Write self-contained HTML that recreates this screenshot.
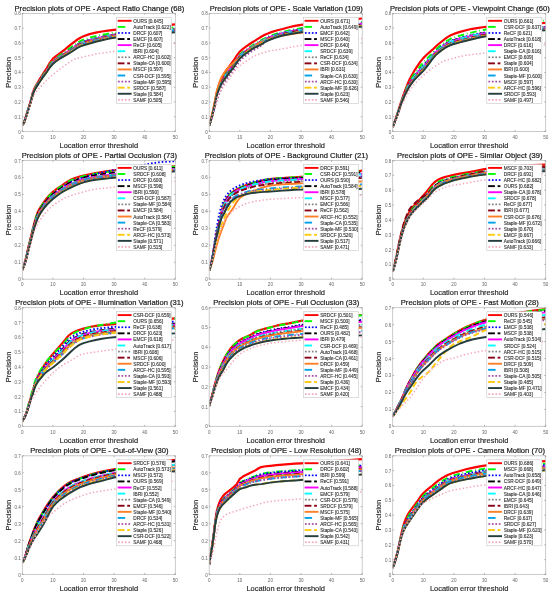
<!DOCTYPE html>
<html><head><meta charset="utf-8"><title>Precision plots of OPE</title>
<style>
html,body{margin:0;padding:0;background:#fff;width:550px;height:598px;overflow:hidden}
svg{display:block}
text{font-family:'Liberation Sans', Arial, Helvetica, sans-serif}
.ti{font-size:7.6px;fill:#1a1a1a;stroke:#1a1a1a;stroke-width:0.2px}
.lb{font-size:7.45px;fill:#262626;stroke:#262626;stroke-width:0.15px}
.tk{font-size:4.55px;fill:#666}
.lg{font-size:4.77px;fill:#333;stroke:#333;stroke-width:0.12px}
</style></head><body>
<svg width="550" height="598" viewBox="0 0 550 598">
<defs><clipPath id="c0"><rect x="22.30" y="13.40" width="153.00" height="118.10"/></clipPath><clipPath id="c1"><rect x="209.20" y="13.40" width="153.00" height="118.10"/></clipPath><clipPath id="c2"><rect x="392.70" y="13.40" width="153.00" height="118.10"/></clipPath><clipPath id="c3"><rect x="22.30" y="160.50" width="153.00" height="118.70"/></clipPath><clipPath id="c4"><rect x="209.20" y="160.50" width="153.00" height="118.70"/></clipPath><clipPath id="c5"><rect x="392.70" y="160.50" width="153.00" height="118.70"/></clipPath><clipPath id="c6"><rect x="22.30" y="307.70" width="153.00" height="118.60"/></clipPath><clipPath id="c7"><rect x="209.20" y="307.70" width="153.00" height="118.60"/></clipPath><clipPath id="c8"><rect x="392.70" y="307.70" width="153.00" height="118.60"/></clipPath><clipPath id="c9"><rect x="22.30" y="455.80" width="153.00" height="118.70"/></clipPath><clipPath id="c10"><rect x="209.20" y="455.80" width="153.00" height="118.70"/></clipPath><clipPath id="c11"><rect x="392.70" y="455.80" width="153.00" height="118.70"/></clipPath></defs>
<rect width="550" height="598" fill="#fff"/>
<g clip-path="url(#c0)">
<polyline points="22.3,124.9 23.8,123.1 25.4,118.4 26.9,113.4 28.4,108.5 30.0,103.4 31.5,97.9 33.0,92.1 34.5,88.2 36.1,85.3 37.6,82.8 39.1,80.2 40.7,77.7 43.7,72.8 46.8,68.0 49.8,62.9 52.9,58.7 56.0,56.1 59.0,54.0 62.1,51.7 65.1,49.4 68.2,46.7 71.3,44.2 74.3,41.8 77.4,39.5 80.4,37.7 83.5,36.3 89.6,34.1 95.7,32.6 101.9,31.5 108.0,30.6 114.1,29.9 120.2,29.2 126.3,28.6 132.5,27.9 138.6,27.3 144.7,26.8 150.8,26.3 156.9,25.8 163.1,25.3 169.2,24.8 175.3,24.4" fill="none" stroke="#ff0000" stroke-width="2.2" stroke-linejoin="round"/>
<polyline points="22.3,124.9 23.8,123.1 25.4,118.5 26.9,113.7 28.4,108.9 30.0,103.8 31.5,98.4 33.0,92.7 34.5,88.9 36.1,86.1 37.6,83.6 39.1,81.2 40.7,78.7 43.7,74.1 46.8,69.5 49.8,64.6 52.9,60.6 56.0,58.1 59.0,55.9 62.1,53.8 65.1,51.7 68.2,49.4 71.3,47.1 74.3,44.8 77.4,42.7 80.4,41.0 83.5,39.7 89.6,37.7 95.7,36.1 101.9,34.8 108.0,33.8 114.1,32.9 120.2,32.1 126.3,31.4 132.5,30.8 138.6,30.3 144.7,29.7 150.8,29.2 156.9,28.7 163.1,28.3 169.2,27.8 175.3,27.4" fill="none" stroke="#00ff00" stroke-width="1.95" stroke-dasharray="6.5,2.8,0.8,2.8" stroke-linejoin="round"/>
<polyline points="22.3,124.9 23.8,123.1 25.4,118.6 26.9,113.9 28.4,109.1 30.0,104.1 31.5,98.8 33.0,93.2 34.5,89.4 36.1,86.6 37.6,84.2 39.1,81.8 40.7,79.4 43.7,74.9 46.8,70.5 49.8,65.8 52.9,61.9 56.0,59.4 59.0,57.2 62.1,55.2 65.1,53.3 68.2,51.2 71.3,49.0 74.3,46.9 77.4,44.8 80.4,43.1 83.5,41.9 89.6,40.0 95.7,38.4 101.9,37.0 108.0,35.8 114.1,34.8 120.2,34.0 126.3,33.3 132.5,32.7 138.6,32.2 144.7,31.6 150.8,31.1 156.9,30.6 163.1,30.2 169.2,29.8 175.3,29.4" fill="none" stroke="#0000ff" stroke-width="1.95" stroke-dasharray="1.6,2.0" stroke-linejoin="round"/>
<polyline points="22.3,124.9 23.8,123.1 25.4,118.6 26.9,113.9 28.4,109.1 30.0,104.1 31.5,98.8 33.0,93.2 34.5,89.4 36.1,86.6 37.6,84.2 39.1,81.8 40.7,79.4 43.7,74.9 46.8,70.5 49.8,65.8 52.9,61.9 56.0,59.4 59.0,57.2 62.1,55.2 65.1,53.3 68.2,51.2 71.3,49.0 74.3,46.9 77.4,44.8 80.4,43.1 83.5,41.9 89.6,40.0 95.7,38.4 101.9,37.0 108.0,35.8 114.1,34.8 120.2,34.0 126.3,33.3 132.5,32.7 138.6,32.2 144.7,31.6 150.8,31.1 156.9,30.6 163.1,30.2 169.2,29.8 175.3,29.4" fill="none" stroke="#000000" stroke-width="1.95" stroke-dasharray="6,3" stroke-linejoin="round"/>
<polyline points="22.3,124.9 23.8,123.1 25.4,118.6 26.9,113.9 28.4,109.1 30.0,104.2 31.5,98.8 33.0,93.2 34.5,89.5 36.1,86.7 37.6,84.3 39.1,81.9 40.7,79.5 43.7,75.0 46.8,70.6 49.8,65.9 52.9,62.1 56.0,59.5 59.0,57.4 62.1,55.4 65.1,53.5 68.2,51.4 71.3,49.3 74.3,47.1 77.4,45.1 80.4,43.4 83.5,42.2 89.6,40.3 95.7,38.7 101.9,37.3 108.0,36.1 114.1,35.0 120.2,34.2 126.3,33.6 132.5,33.0 138.6,32.4 144.7,31.9 150.8,31.4 156.9,30.9 163.1,30.4 169.2,30.0 175.3,29.6" fill="none" stroke="#ff00ff" stroke-width="1.95" stroke-linejoin="round"/>
<polyline points="22.3,124.9 23.8,123.1 25.4,118.6 26.9,113.9 28.4,109.1 30.0,104.2 31.5,98.8 33.0,93.3 34.5,89.5 36.1,86.7 37.6,84.3 39.1,81.9 40.7,79.5 43.7,75.0 46.8,70.7 49.8,66.0 52.9,62.2 56.0,59.6 59.0,57.5 62.1,55.5 65.1,53.6 68.2,51.5 71.3,49.4 74.3,47.3 77.4,45.2 80.4,43.6 83.5,42.3 89.6,40.4 95.7,38.8 101.9,37.4 108.0,36.2 114.1,35.1 120.2,34.4 126.3,33.7 132.5,33.1 138.6,32.6 144.7,32.0 150.8,31.5 156.9,31.0 163.1,30.6 169.2,30.2 175.3,29.8" fill="none" stroke="#00ffff" stroke-width="1.95" stroke-dasharray="6.5,2.8,0.8,2.8" stroke-linejoin="round"/>
<polyline points="22.3,124.9 23.8,123.1 25.4,118.7 26.9,113.9 28.4,109.2 30.0,104.2 31.5,98.9 33.0,93.3 34.5,89.6 36.1,86.8 37.6,84.4 39.1,82.0 40.7,79.6 43.7,75.2 46.8,70.8 49.8,66.2 52.9,62.4 56.0,59.8 59.0,57.6 62.1,55.7 65.1,53.8 68.2,51.7 71.3,49.7 74.3,47.5 77.4,45.5 80.4,43.9 83.5,42.6 89.6,40.7 95.7,39.1 101.9,37.7 108.0,36.5 114.1,35.4 120.2,34.6 126.3,33.9 132.5,33.3 138.6,32.8 144.7,32.3 150.8,31.8 156.9,31.3 163.1,30.8 169.2,30.4 175.3,30.0" fill="none" stroke="#808080" stroke-width="1.95" stroke-dasharray="1.6,2.0" stroke-linejoin="round"/>
<polyline points="22.3,124.9 23.8,123.1 25.4,118.7 26.9,114.0 28.4,109.2 30.0,104.2 31.5,98.9 33.0,93.4 34.5,89.6 36.1,86.9 37.6,84.5 39.1,82.1 40.7,79.7 43.7,75.3 46.8,70.9 49.8,66.3 52.9,62.5 56.0,60.0 59.0,57.8 62.1,55.8 65.1,54.0 68.2,52.0 71.3,49.9 74.3,47.8 77.4,45.8 80.4,44.1 83.5,42.9 89.6,41.0 95.7,39.4 101.9,38.0 108.0,36.7 114.1,35.7 120.2,34.9 126.3,34.2 132.5,33.6 138.6,33.1 144.7,32.5 150.8,32.0 156.9,31.5 163.1,31.1 169.2,30.7 175.3,30.3" fill="none" stroke="#880015" stroke-width="1.95" stroke-dasharray="6,3" stroke-linejoin="round"/>
<polyline points="22.3,124.9 23.8,123.1 25.4,118.7 26.9,114.0 28.4,109.3 30.0,104.3 31.5,99.0 33.0,93.5 34.5,89.7 36.1,87.0 37.6,84.6 39.1,82.2 40.7,79.9 43.7,75.4 46.8,71.1 49.8,66.5 52.9,62.8 56.0,60.2 59.0,58.1 62.1,56.1 65.1,54.3 68.2,52.3 71.3,50.3 74.3,48.2 77.4,46.2 80.4,44.6 83.5,43.4 89.6,41.5 95.7,39.9 101.9,38.4 108.0,37.1 114.1,36.0 120.2,35.2 126.3,34.6 132.5,34.0 138.6,33.4 144.7,32.9 150.8,32.4 156.9,31.9 163.1,31.5 169.2,31.1 175.3,30.7" fill="none" stroke="#ff7f27" stroke-width="1.95" stroke-linejoin="round"/>
<polyline points="22.3,124.9 23.8,123.1 25.4,118.7 26.9,114.0 28.4,109.3 30.0,104.3 31.5,99.0 33.0,93.5 34.5,89.8 36.1,87.0 37.6,84.7 39.1,82.3 40.7,79.9 43.7,75.5 46.8,71.2 49.8,66.7 52.9,62.9 56.0,60.4 59.0,58.2 62.1,56.3 65.1,54.5 68.2,52.6 71.3,50.6 74.3,48.5 77.4,46.5 80.4,44.9 83.5,43.7 89.6,41.8 95.7,40.2 101.9,38.7 108.0,37.4 114.1,36.3 120.2,35.5 126.3,34.8 132.5,34.2 138.6,33.7 144.7,33.2 150.8,32.7 156.9,32.2 163.1,31.7 169.2,31.3 175.3,30.9" fill="none" stroke="#00a2e8" stroke-width="1.95" stroke-dasharray="6.5,2.8,0.8,2.8" stroke-linejoin="round"/>
<polyline points="22.3,124.9 23.8,123.1 25.4,118.7 26.9,114.0 28.4,109.3 30.0,104.3 31.5,99.0 33.0,93.5 34.5,89.8 36.1,87.0 37.6,84.7 39.1,82.3 40.7,79.9 43.7,75.5 46.8,71.2 49.8,66.7 52.9,62.9 56.0,60.4 59.0,58.2 62.1,56.3 65.1,54.5 68.2,52.6 71.3,50.6 74.3,48.5 77.4,46.5 80.4,44.9 83.5,43.7 89.6,41.8 95.7,40.2 101.9,38.7 108.0,37.4 114.1,36.3 120.2,35.5 126.3,34.8 132.5,34.2 138.6,33.7 144.7,33.2 150.8,32.7 156.9,32.2 163.1,31.7 169.2,31.3 175.3,30.9" fill="none" stroke="#a349a4" stroke-width="1.95" stroke-dasharray="1.6,2.0" stroke-linejoin="round"/>
<polyline points="22.3,124.9 23.8,123.1 25.4,118.8 26.9,114.1 28.4,109.4 30.0,104.5 31.5,99.2 33.0,93.7 34.5,90.1 36.1,87.3 37.6,85.0 39.1,82.6 40.7,80.3 43.7,76.0 46.8,71.8 49.8,67.3 52.9,63.6 56.0,61.1 59.0,58.9 62.1,57.0 65.1,55.3 68.2,53.5 71.3,51.6 74.3,49.5 77.4,47.6 80.4,46.0 83.5,44.8 89.6,43.0 95.7,41.4 101.9,39.9 108.0,38.5 114.1,37.3 120.2,36.5 126.3,35.8 132.5,35.2 138.6,34.7 144.7,34.2 150.8,33.7 156.9,33.2 163.1,32.8 169.2,32.4 175.3,32.0" fill="none" stroke="#ffc90e" stroke-width="1.95" stroke-dasharray="6,3" stroke-linejoin="round"/>
<polyline points="22.3,124.9 23.8,123.1 25.4,118.8 26.9,114.1 28.4,109.5 30.0,104.5 31.5,99.3 33.0,93.8 34.5,90.2 36.1,87.4 37.6,85.1 39.1,82.7 40.7,80.5 43.7,76.1 46.8,72.0 49.8,67.5 52.9,63.9 56.0,61.3 59.0,59.2 62.1,57.3 65.1,55.6 68.2,53.8 71.3,52.0 74.3,50.0 77.4,48.0 80.4,46.4 83.5,45.3 89.6,43.5 95.7,41.8 101.9,40.3 108.0,38.9 114.1,37.7 120.2,36.9 126.3,36.2 132.5,35.6 138.6,35.1 144.7,34.6 150.8,34.1 156.9,33.6 163.1,33.2 169.2,32.7 175.3,32.4" fill="none" stroke="#253d3d" stroke-width="1.95" stroke-linejoin="round"/>
<polyline points="22.3,124.9 23.8,123.2 25.4,119.3 26.9,115.0 28.4,110.1 30.0,105.2 31.5,101.0 33.0,97.3 34.5,94.5 36.1,92.2 37.6,90.2 39.1,88.3 40.7,86.5 43.7,83.2 46.8,80.1 49.8,77.2 52.9,74.6 56.0,72.0 59.0,69.7 62.1,67.4 65.1,65.3 68.2,63.2 71.3,61.1 74.3,59.3 77.4,58.3 80.4,57.6 83.5,56.9 89.6,55.5 95.7,54.1 101.9,53.1 108.0,52.3 114.1,51.4 120.2,50.5 126.3,49.5 132.5,48.5 138.6,47.5 144.7,46.7 150.8,45.9 156.9,45.2 163.1,44.5 169.2,43.9 175.3,43.3" fill="none" stroke="#f4a7b9" stroke-width="1.5" stroke-dasharray="1.4,2.2" stroke-linejoin="round"/>
</g>
<rect x="22.30" y="13.40" width="153.00" height="118.10" fill="none" stroke="#bdbdbd" stroke-width="0.8"/>
<line x1="22.30" y1="131.50" x2="22.30" y2="130.00" stroke="#999" stroke-width="0.7"/>
<line x1="22.30" y1="13.40" x2="22.30" y2="14.90" stroke="#999" stroke-width="0.7"/>
<text x="22.30" y="138.70" text-anchor="middle" class="tk">0</text>
<line x1="52.90" y1="131.50" x2="52.90" y2="130.00" stroke="#999" stroke-width="0.7"/>
<line x1="52.90" y1="13.40" x2="52.90" y2="14.90" stroke="#999" stroke-width="0.7"/>
<text x="52.90" y="138.70" text-anchor="middle" class="tk">10</text>
<line x1="83.50" y1="131.50" x2="83.50" y2="130.00" stroke="#999" stroke-width="0.7"/>
<line x1="83.50" y1="13.40" x2="83.50" y2="14.90" stroke="#999" stroke-width="0.7"/>
<text x="83.50" y="138.70" text-anchor="middle" class="tk">20</text>
<line x1="114.10" y1="131.50" x2="114.10" y2="130.00" stroke="#999" stroke-width="0.7"/>
<line x1="114.10" y1="13.40" x2="114.10" y2="14.90" stroke="#999" stroke-width="0.7"/>
<text x="114.10" y="138.70" text-anchor="middle" class="tk">30</text>
<line x1="144.70" y1="131.50" x2="144.70" y2="130.00" stroke="#999" stroke-width="0.7"/>
<line x1="144.70" y1="13.40" x2="144.70" y2="14.90" stroke="#999" stroke-width="0.7"/>
<text x="144.70" y="138.70" text-anchor="middle" class="tk">40</text>
<line x1="175.30" y1="131.50" x2="175.30" y2="130.00" stroke="#999" stroke-width="0.7"/>
<line x1="175.30" y1="13.40" x2="175.30" y2="14.90" stroke="#999" stroke-width="0.7"/>
<text x="175.30" y="138.70" text-anchor="middle" class="tk">50</text>
<line x1="22.30" y1="131.50" x2="23.80" y2="131.50" stroke="#999" stroke-width="0.7"/>
<line x1="175.30" y1="131.50" x2="173.80" y2="131.50" stroke="#999" stroke-width="0.7"/>
<text x="20.90" y="133.50" text-anchor="end" class="tk">0</text>
<line x1="22.30" y1="116.74" x2="23.80" y2="116.74" stroke="#999" stroke-width="0.7"/>
<line x1="175.30" y1="116.74" x2="173.80" y2="116.74" stroke="#999" stroke-width="0.7"/>
<text x="20.90" y="118.74" text-anchor="end" class="tk">0.1</text>
<line x1="22.30" y1="101.97" x2="23.80" y2="101.97" stroke="#999" stroke-width="0.7"/>
<line x1="175.30" y1="101.97" x2="173.80" y2="101.97" stroke="#999" stroke-width="0.7"/>
<text x="20.90" y="103.97" text-anchor="end" class="tk">0.2</text>
<line x1="22.30" y1="87.21" x2="23.80" y2="87.21" stroke="#999" stroke-width="0.7"/>
<line x1="175.30" y1="87.21" x2="173.80" y2="87.21" stroke="#999" stroke-width="0.7"/>
<text x="20.90" y="89.21" text-anchor="end" class="tk">0.3</text>
<line x1="22.30" y1="72.45" x2="23.80" y2="72.45" stroke="#999" stroke-width="0.7"/>
<line x1="175.30" y1="72.45" x2="173.80" y2="72.45" stroke="#999" stroke-width="0.7"/>
<text x="20.90" y="74.45" text-anchor="end" class="tk">0.4</text>
<line x1="22.30" y1="57.69" x2="23.80" y2="57.69" stroke="#999" stroke-width="0.7"/>
<line x1="175.30" y1="57.69" x2="173.80" y2="57.69" stroke="#999" stroke-width="0.7"/>
<text x="20.90" y="59.69" text-anchor="end" class="tk">0.5</text>
<line x1="22.30" y1="42.93" x2="23.80" y2="42.93" stroke="#999" stroke-width="0.7"/>
<line x1="175.30" y1="42.93" x2="173.80" y2="42.93" stroke="#999" stroke-width="0.7"/>
<text x="20.90" y="44.93" text-anchor="end" class="tk">0.6</text>
<line x1="22.30" y1="28.16" x2="23.80" y2="28.16" stroke="#999" stroke-width="0.7"/>
<line x1="175.30" y1="28.16" x2="173.80" y2="28.16" stroke="#999" stroke-width="0.7"/>
<text x="20.90" y="30.16" text-anchor="end" class="tk">0.7</text>
<line x1="22.30" y1="13.40" x2="23.80" y2="13.40" stroke="#999" stroke-width="0.7"/>
<line x1="175.30" y1="13.40" x2="173.80" y2="13.40" stroke="#999" stroke-width="0.7"/>
<text x="20.90" y="15.40" text-anchor="end" class="tk">0.8</text>
<text x="99.40" y="10.60" text-anchor="middle" class="ti">Precision plots of OPE - Aspect Ratio Change (68)</text>
<text x="98.80" y="147.70" text-anchor="middle" class="lb">Location error threshold</text>
<text x="0" y="0" transform="translate(11.00,72.45) rotate(-90)" text-anchor="middle" class="lb">Precision</text>
<rect x="116.40" y="17.40" width="55.10" height="86.00" fill="#fff" stroke="#c8c8c8" stroke-width="0.6"/>
<line x1="117.70" y1="20.80" x2="131.60" y2="20.80" stroke="#ff0000" stroke-width="1.9"/>
<text x="133.30" y="22.80" class="lg">OURS [0.645]</text>
<line x1="117.70" y1="26.88" x2="125.20" y2="26.88" stroke="#00ff00" stroke-width="1.9"/>
<text x="133.30" y="28.88" class="lg">AutoTrack [0.622]</text>
<rect x="118.05" y="32.11" width="1.7" height="1.7" fill="#0000ff"/>
<rect x="121.50" y="32.11" width="1.7" height="1.7" fill="#0000ff"/>
<rect x="124.95" y="32.11" width="1.7" height="1.7" fill="#0000ff"/>
<rect x="128.40" y="32.11" width="1.7" height="1.7" fill="#0000ff"/>
<text x="133.30" y="34.96" class="lg">DRCF [0.607]</text>
<line x1="117.70" y1="39.04" x2="124.50" y2="39.04" stroke="#000000" stroke-width="1.9"/>
<line x1="127.20" y1="39.04" x2="130.00" y2="39.04" stroke="#000000" stroke-width="1.9"/>
<text x="133.30" y="41.04" class="lg">EMCF [0.607]</text>
<line x1="117.70" y1="45.12" x2="131.60" y2="45.12" stroke="#ff00ff" stroke-width="1.9"/>
<text x="133.30" y="47.12" class="lg">ReCF [0.605]</text>
<line x1="117.70" y1="51.20" x2="125.20" y2="51.20" stroke="#00ffff" stroke-width="1.9"/>
<text x="133.30" y="53.20" class="lg">IBRI [0.604]</text>
<rect x="118.05" y="56.43" width="1.7" height="1.7" fill="#808080"/>
<rect x="121.50" y="56.43" width="1.7" height="1.7" fill="#808080"/>
<rect x="124.95" y="56.43" width="1.7" height="1.7" fill="#808080"/>
<rect x="128.40" y="56.43" width="1.7" height="1.7" fill="#808080"/>
<text x="133.30" y="59.28" class="lg">ARCF-HC [0.602]</text>
<line x1="117.70" y1="63.36" x2="124.50" y2="63.36" stroke="#880015" stroke-width="1.9"/>
<line x1="127.20" y1="63.36" x2="130.00" y2="63.36" stroke="#880015" stroke-width="1.9"/>
<text x="133.30" y="65.36" class="lg">Staple-CA [0.600]</text>
<line x1="117.70" y1="69.44" x2="131.60" y2="69.44" stroke="#ff7f27" stroke-width="1.9"/>
<text x="133.30" y="71.44" class="lg">MSCF [0.597]</text>
<line x1="117.70" y1="75.52" x2="125.20" y2="75.52" stroke="#00a2e8" stroke-width="1.9"/>
<text x="133.30" y="77.52" class="lg">CSR-DCF [0.595]</text>
<rect x="118.05" y="80.75" width="1.7" height="1.7" fill="#a349a4"/>
<rect x="121.50" y="80.75" width="1.7" height="1.7" fill="#a349a4"/>
<rect x="124.95" y="80.75" width="1.7" height="1.7" fill="#a349a4"/>
<rect x="128.40" y="80.75" width="1.7" height="1.7" fill="#a349a4"/>
<text x="133.30" y="83.60" class="lg">Staple-MF [0.595]</text>
<line x1="117.70" y1="87.68" x2="124.50" y2="87.68" stroke="#ffc90e" stroke-width="1.9"/>
<line x1="127.20" y1="87.68" x2="130.00" y2="87.68" stroke="#ffc90e" stroke-width="1.9"/>
<text x="133.30" y="89.68" class="lg">SRDCF [0.587]</text>
<line x1="117.70" y1="93.76" x2="131.60" y2="93.76" stroke="#253d3d" stroke-width="1.9"/>
<text x="133.30" y="95.76" class="lg">Staple [0.584]</text>
<rect x="118.05" y="98.99" width="1.7" height="1.7" fill="#f4a7b9"/>
<rect x="121.50" y="98.99" width="1.7" height="1.7" fill="#f4a7b9"/>
<rect x="124.95" y="98.99" width="1.7" height="1.7" fill="#f4a7b9"/>
<rect x="128.40" y="98.99" width="1.7" height="1.7" fill="#f4a7b9"/>
<text x="133.30" y="101.84" class="lg">SAMF [0.505]</text>
<g clip-path="url(#c1)">
<polyline points="209.2,125.6 210.7,120.3 212.3,114.4 213.8,107.5 215.3,100.1 216.8,92.3 218.4,86.5 219.9,82.1 221.4,78.6 223.0,75.8 224.5,73.3 226.0,70.9 227.6,68.7 230.6,64.7 233.7,60.5 236.7,55.7 239.8,51.6 242.9,48.9 245.9,46.6 249.0,44.5 252.0,42.5 255.1,40.6 258.2,38.6 261.2,36.7 264.3,35.1 267.3,33.7 270.4,32.4 276.5,30.5 282.6,29.0 288.8,27.3 294.9,25.9 301.0,24.9 307.1,24.1 313.2,23.4 319.4,22.7 325.5,22.1 331.6,21.5 337.7,20.9 343.8,20.3 350.0,19.7 356.1,19.1 362.2,18.5" fill="none" stroke="#ff0000" stroke-width="2.2" stroke-linejoin="round"/>
<polyline points="209.2,125.6 210.7,120.7 212.3,115.0 213.8,108.3 215.3,101.2 216.8,93.8 218.4,88.4 219.9,84.3 221.4,81.1 223.0,78.4 224.5,76.1 226.0,73.9 227.6,71.7 230.6,67.7 233.7,63.6 236.7,59.0 239.8,54.8 242.9,52.0 245.9,49.8 249.0,47.6 252.0,45.5 255.1,43.7 258.2,42.0 261.2,40.2 264.3,38.5 267.3,37.0 270.4,35.7 276.5,33.6 282.6,32.0 288.8,30.5 294.9,29.2 301.0,28.3 307.1,27.5 313.2,26.8 319.4,26.1 325.5,25.5 331.6,24.9 337.7,24.3 343.8,23.7 350.0,23.2 356.1,22.7 362.2,22.2" fill="none" stroke="#00ff00" stroke-width="1.95" stroke-dasharray="6.5,2.8,0.8,2.8" stroke-linejoin="round"/>
<polyline points="209.2,125.6 210.7,120.8 212.3,115.3 213.8,108.6 215.3,101.5 216.8,94.3 218.4,89.0 219.9,85.0 221.4,81.9 223.0,79.2 224.5,76.9 226.0,74.8 227.6,72.7 230.6,68.6 233.7,64.6 236.7,60.0 239.8,55.7 242.9,53.0 245.9,50.8 249.0,48.6 252.0,46.5 255.1,44.7 258.2,43.0 261.2,41.3 264.3,39.6 267.3,38.0 270.4,36.7 276.5,34.6 282.6,32.9 288.8,31.5 294.9,30.3 301.0,29.4 307.1,28.6 313.2,27.9 319.4,27.2 325.5,26.6 331.6,26.0 337.7,25.4 343.8,24.8 350.0,24.3 356.1,23.9 362.2,23.4" fill="none" stroke="#0000ff" stroke-width="1.95" stroke-dasharray="1.6,2.0" stroke-linejoin="round"/>
<polyline points="209.2,125.6 210.7,120.9 212.3,115.3 213.8,108.7 215.3,101.6 216.8,94.4 218.4,89.2 219.9,85.2 221.4,82.1 223.0,79.5 224.5,77.2 226.0,75.1 227.6,72.9 230.6,68.9 233.7,64.9 236.7,60.3 239.8,56.0 242.9,53.3 245.9,51.1 249.0,48.9 252.0,46.8 255.1,45.0 258.2,43.3 261.2,41.7 264.3,39.9 267.3,38.3 270.4,37.0 276.5,34.9 282.6,33.2 288.8,31.8 294.9,30.6 301.0,29.7 307.1,28.9 313.2,28.2 319.4,27.5 325.5,26.9 331.6,26.3 337.7,25.7 343.8,25.2 350.0,24.7 356.1,24.2 362.2,23.8" fill="none" stroke="#000000" stroke-width="1.95" stroke-dasharray="6,3" stroke-linejoin="round"/>
<polyline points="209.2,125.6 210.7,120.9 212.3,115.3 213.8,108.7 215.3,101.6 216.8,94.4 218.4,89.2 219.9,85.2 221.4,82.1 223.0,79.5 224.5,77.2 226.0,75.1 227.6,72.9 230.6,68.9 233.7,64.9 236.7,60.3 239.8,56.0 242.9,53.3 245.9,51.1 249.0,48.9 252.0,46.8 255.1,45.0 258.2,43.3 261.2,41.7 264.3,39.9 267.3,38.3 270.4,37.0 276.5,34.9 282.6,33.2 288.8,31.8 294.9,30.6 301.0,29.7 307.1,28.9 313.2,28.2 319.4,27.5 325.5,26.9 331.6,26.3 337.7,25.7 343.8,25.2 350.0,24.7 356.1,24.2 362.2,23.8" fill="none" stroke="#ff00ff" stroke-width="1.95" stroke-linejoin="round"/>
<polyline points="209.2,125.6 210.7,120.9 212.3,115.4 213.8,108.7 215.3,101.6 216.8,94.5 218.4,89.3 219.9,85.3 221.4,82.2 223.0,79.6 224.5,77.3 226.0,75.2 227.6,73.1 230.6,69.1 233.7,65.0 236.7,60.5 239.8,56.2 242.9,53.4 245.9,51.2 249.0,49.0 252.0,46.9 255.1,45.1 258.2,43.5 261.2,41.8 264.3,40.1 267.3,38.5 270.4,37.2 276.5,35.1 282.6,33.3 288.8,31.9 294.9,30.8 301.0,29.9 307.1,29.1 313.2,28.3 319.4,27.6 325.5,27.0 331.6,26.4 337.7,25.9 343.8,25.3 350.0,24.8 356.1,24.3 362.2,23.9" fill="none" stroke="#00ffff" stroke-width="1.95" stroke-dasharray="6.5,2.8,0.8,2.8" stroke-linejoin="round"/>
<polyline points="209.2,125.6 210.7,121.0 212.3,115.5 213.8,108.9 215.3,101.8 216.8,94.8 218.4,89.7 219.9,85.8 221.4,82.8 223.0,80.2 224.5,78.0 226.0,75.9 227.6,73.7 230.6,69.7 233.7,65.7 236.7,61.2 239.8,56.9 242.9,54.1 245.9,51.9 249.0,49.7 252.0,47.6 255.1,45.8 258.2,44.3 261.2,42.6 264.3,40.8 267.3,39.2 270.4,37.9 276.5,35.8 282.6,34.0 288.8,32.6 294.9,31.5 301.0,30.7 307.1,29.8 313.2,29.1 319.4,28.4 325.5,27.8 331.6,27.2 337.7,26.6 343.8,26.1 350.0,25.6 356.1,25.2 362.2,24.8" fill="none" stroke="#808080" stroke-width="1.95" stroke-dasharray="1.6,2.0" stroke-linejoin="round"/>
<polyline points="209.2,125.6 210.7,121.0 212.3,115.5 213.8,108.9 215.3,101.8 216.8,94.8 218.4,89.7 219.9,85.8 221.4,82.8 223.0,80.2 224.5,78.0 226.0,75.9 227.6,73.7 230.6,69.7 233.7,65.7 236.7,61.2 239.8,56.9 242.9,54.1 245.9,51.9 249.0,49.7 252.0,47.6 255.1,45.8 258.2,44.3 261.2,42.6 264.3,40.8 267.3,39.2 270.4,37.9 276.5,35.8 282.6,34.0 288.8,32.6 294.9,31.5 301.0,30.7 307.1,29.8 313.2,29.1 319.4,28.4 325.5,27.8 331.6,27.2 337.7,26.6 343.8,26.1 350.0,25.6 356.1,25.2 362.2,24.8" fill="none" stroke="#880015" stroke-width="1.95" stroke-dasharray="6,3" stroke-linejoin="round"/>
<polyline points="209.2,125.6 210.7,120.0 212.3,113.8 213.8,106.6 215.3,99.0 216.8,91.3 218.4,85.5 219.9,81.1 221.4,77.5 223.0,74.7 224.5,72.3 226.0,70.2 227.6,68.4 230.6,65.3 233.7,62.6 236.7,60.2 239.8,57.7 242.9,55.0 245.9,52.4 249.0,49.8 252.0,47.5 255.1,45.5 258.2,43.7 261.2,42.1 264.3,40.6 267.3,39.3 270.4,38.3 276.5,36.8 282.6,35.6 288.8,34.5 294.9,33.6 301.0,32.8 307.1,32.0 313.2,31.4 319.4,30.8 325.5,30.3 331.6,29.6 337.7,29.0 343.8,28.2 350.0,27.5 356.1,26.7 362.2,25.9" fill="none" stroke="#ff7f27" stroke-width="1.95" stroke-linejoin="round"/>
<polyline points="209.2,125.6 210.7,121.0 212.3,115.6 213.8,109.1 215.3,102.0 216.8,95.1 218.4,90.0 219.9,86.2 221.4,83.2 223.0,80.7 224.5,78.5 226.0,76.4 227.6,74.3 230.6,70.3 233.7,66.3 236.7,61.8 239.8,57.4 242.9,54.7 245.9,52.5 249.0,50.3 252.0,48.1 255.1,46.4 258.2,44.9 261.2,43.3 264.3,41.4 267.3,39.8 270.4,38.5 276.5,36.3 282.6,34.6 288.8,33.2 294.9,32.1 301.0,31.3 307.1,30.5 313.2,29.7 319.4,29.0 325.5,28.4 331.6,27.8 337.7,27.2 343.8,26.7 350.0,26.3 356.1,25.8 362.2,25.4" fill="none" stroke="#00a2e8" stroke-width="1.95" stroke-dasharray="6.5,2.8,0.8,2.8" stroke-linejoin="round"/>
<polyline points="209.2,125.6 210.7,121.5 212.3,116.7 213.8,110.8 215.3,104.9 216.8,100.2 218.4,96.1 219.9,92.1 221.4,88.3 223.0,85.2 224.5,82.5 226.0,80.2 227.6,77.9 230.6,73.7 233.7,69.7 236.7,65.3 239.8,61.0 242.9,57.9 245.9,55.4 249.0,53.2 252.0,51.1 255.1,49.2 258.2,47.5 261.2,45.4 264.3,42.8 267.3,40.3 270.4,38.5 276.5,36.6 282.6,35.0 288.8,33.9 294.9,32.9 301.0,32.1 307.1,31.3 313.2,30.6 319.4,30.0 325.5,29.4 331.6,28.9 337.7,28.4 343.8,27.9 350.0,27.5 356.1,27.1 362.2,26.7" fill="none" stroke="#a349a4" stroke-width="1.95" stroke-dasharray="1.6,2.0" stroke-linejoin="round"/>
<polyline points="209.2,125.6 210.7,121.1 212.3,115.8 213.8,109.2 215.3,102.2 216.8,95.4 218.4,90.4 219.9,86.6 221.4,83.7 223.0,81.2 224.5,79.0 226.0,76.9 227.6,74.8 230.6,70.8 233.7,66.8 236.7,62.4 239.8,58.0 242.9,55.3 245.9,53.1 249.0,50.8 252.0,48.7 255.1,47.0 258.2,45.5 261.2,43.9 264.3,42.1 267.3,40.4 270.4,39.1 276.5,36.9 282.6,35.1 288.8,33.8 294.9,32.8 301.0,31.9 307.1,31.1 313.2,30.3 319.4,29.6 325.5,29.0 331.6,28.4 337.7,27.9 343.8,27.4 350.0,26.9 356.1,26.5 362.2,26.1" fill="none" stroke="#ffc90e" stroke-width="1.95" stroke-dasharray="6,3" stroke-linejoin="round"/>
<polyline points="209.2,125.6 210.7,121.2 212.3,115.8 213.8,109.3 215.3,102.3 216.8,95.6 218.4,90.7 219.9,87.0 221.4,84.0 223.0,81.5 224.5,79.4 226.0,77.3 227.6,75.2 230.6,71.2 233.7,67.3 236.7,62.8 239.8,58.4 242.9,55.7 245.9,53.5 249.0,51.3 252.0,49.1 255.1,47.4 258.2,46.0 261.2,44.4 264.3,42.5 267.3,40.9 270.4,39.5 276.5,37.3 282.6,35.5 288.8,34.2 294.9,33.2 301.0,32.4 307.1,31.6 313.2,30.8 319.4,30.1 325.5,29.4 331.6,28.9 337.7,28.3 343.8,27.8 350.0,27.4 356.1,27.0 362.2,26.6" fill="none" stroke="#253d3d" stroke-width="1.95" stroke-linejoin="round"/>
<polyline points="209.2,125.6 210.7,121.5 212.3,116.7 213.8,111.0 215.3,104.9 216.8,98.7 218.4,94.8 219.9,91.8 221.4,89.4 223.0,87.4 224.5,85.4 226.0,83.5 227.6,81.3 230.6,76.8 233.7,72.5 236.7,68.9 239.8,65.7 242.9,63.3 245.9,61.4 249.0,59.4 252.0,57.4 255.1,55.8 258.2,54.5 261.2,53.3 264.3,52.3 267.3,51.6 270.4,50.9 276.5,49.8 282.6,48.8 288.8,47.7 294.9,46.5 301.0,45.4 307.1,44.5 313.2,43.7 319.4,42.9 325.5,42.2 331.6,41.5 337.7,40.9 343.8,40.2 350.0,39.6 356.1,39.1 362.2,38.6" fill="none" stroke="#f4a7b9" stroke-width="1.5" stroke-dasharray="1.4,2.2" stroke-linejoin="round"/>
</g>
<rect x="209.20" y="13.40" width="153.00" height="118.10" fill="none" stroke="#bdbdbd" stroke-width="0.8"/>
<line x1="209.20" y1="131.50" x2="209.20" y2="130.00" stroke="#999" stroke-width="0.7"/>
<line x1="209.20" y1="13.40" x2="209.20" y2="14.90" stroke="#999" stroke-width="0.7"/>
<text x="209.20" y="138.70" text-anchor="middle" class="tk">0</text>
<line x1="239.80" y1="131.50" x2="239.80" y2="130.00" stroke="#999" stroke-width="0.7"/>
<line x1="239.80" y1="13.40" x2="239.80" y2="14.90" stroke="#999" stroke-width="0.7"/>
<text x="239.80" y="138.70" text-anchor="middle" class="tk">10</text>
<line x1="270.40" y1="131.50" x2="270.40" y2="130.00" stroke="#999" stroke-width="0.7"/>
<line x1="270.40" y1="13.40" x2="270.40" y2="14.90" stroke="#999" stroke-width="0.7"/>
<text x="270.40" y="138.70" text-anchor="middle" class="tk">20</text>
<line x1="301.00" y1="131.50" x2="301.00" y2="130.00" stroke="#999" stroke-width="0.7"/>
<line x1="301.00" y1="13.40" x2="301.00" y2="14.90" stroke="#999" stroke-width="0.7"/>
<text x="301.00" y="138.70" text-anchor="middle" class="tk">30</text>
<line x1="331.60" y1="131.50" x2="331.60" y2="130.00" stroke="#999" stroke-width="0.7"/>
<line x1="331.60" y1="13.40" x2="331.60" y2="14.90" stroke="#999" stroke-width="0.7"/>
<text x="331.60" y="138.70" text-anchor="middle" class="tk">40</text>
<line x1="362.20" y1="131.50" x2="362.20" y2="130.00" stroke="#999" stroke-width="0.7"/>
<line x1="362.20" y1="13.40" x2="362.20" y2="14.90" stroke="#999" stroke-width="0.7"/>
<text x="362.20" y="138.70" text-anchor="middle" class="tk">50</text>
<line x1="209.20" y1="131.50" x2="210.70" y2="131.50" stroke="#999" stroke-width="0.7"/>
<line x1="362.20" y1="131.50" x2="360.70" y2="131.50" stroke="#999" stroke-width="0.7"/>
<text x="207.80" y="133.50" text-anchor="end" class="tk">0</text>
<line x1="209.20" y1="116.74" x2="210.70" y2="116.74" stroke="#999" stroke-width="0.7"/>
<line x1="362.20" y1="116.74" x2="360.70" y2="116.74" stroke="#999" stroke-width="0.7"/>
<text x="207.80" y="118.74" text-anchor="end" class="tk">0.1</text>
<line x1="209.20" y1="101.97" x2="210.70" y2="101.97" stroke="#999" stroke-width="0.7"/>
<line x1="362.20" y1="101.97" x2="360.70" y2="101.97" stroke="#999" stroke-width="0.7"/>
<text x="207.80" y="103.97" text-anchor="end" class="tk">0.2</text>
<line x1="209.20" y1="87.21" x2="210.70" y2="87.21" stroke="#999" stroke-width="0.7"/>
<line x1="362.20" y1="87.21" x2="360.70" y2="87.21" stroke="#999" stroke-width="0.7"/>
<text x="207.80" y="89.21" text-anchor="end" class="tk">0.3</text>
<line x1="209.20" y1="72.45" x2="210.70" y2="72.45" stroke="#999" stroke-width="0.7"/>
<line x1="362.20" y1="72.45" x2="360.70" y2="72.45" stroke="#999" stroke-width="0.7"/>
<text x="207.80" y="74.45" text-anchor="end" class="tk">0.4</text>
<line x1="209.20" y1="57.69" x2="210.70" y2="57.69" stroke="#999" stroke-width="0.7"/>
<line x1="362.20" y1="57.69" x2="360.70" y2="57.69" stroke="#999" stroke-width="0.7"/>
<text x="207.80" y="59.69" text-anchor="end" class="tk">0.5</text>
<line x1="209.20" y1="42.93" x2="210.70" y2="42.93" stroke="#999" stroke-width="0.7"/>
<line x1="362.20" y1="42.93" x2="360.70" y2="42.93" stroke="#999" stroke-width="0.7"/>
<text x="207.80" y="44.93" text-anchor="end" class="tk">0.6</text>
<line x1="209.20" y1="28.16" x2="210.70" y2="28.16" stroke="#999" stroke-width="0.7"/>
<line x1="362.20" y1="28.16" x2="360.70" y2="28.16" stroke="#999" stroke-width="0.7"/>
<text x="207.80" y="30.16" text-anchor="end" class="tk">0.7</text>
<line x1="209.20" y1="13.40" x2="210.70" y2="13.40" stroke="#999" stroke-width="0.7"/>
<line x1="362.20" y1="13.40" x2="360.70" y2="13.40" stroke="#999" stroke-width="0.7"/>
<text x="207.80" y="15.40" text-anchor="end" class="tk">0.8</text>
<text x="286.30" y="10.60" text-anchor="middle" class="ti">Precision plots of OPE - Scale Variation (109)</text>
<text x="285.70" y="147.70" text-anchor="middle" class="lb">Location error threshold</text>
<text x="0" y="0" transform="translate(197.90,72.45) rotate(-90)" text-anchor="middle" class="lb">Precision</text>
<rect x="303.30" y="17.40" width="55.10" height="86.00" fill="#fff" stroke="#c8c8c8" stroke-width="0.6"/>
<line x1="304.60" y1="20.80" x2="318.50" y2="20.80" stroke="#ff0000" stroke-width="1.9"/>
<text x="320.20" y="22.80" class="lg">OURS [0.671]</text>
<line x1="304.60" y1="26.88" x2="312.10" y2="26.88" stroke="#00ff00" stroke-width="1.9"/>
<text x="320.20" y="28.88" class="lg">AutoTrack [0.649]</text>
<rect x="304.95" y="32.11" width="1.7" height="1.7" fill="#0000ff"/>
<rect x="308.40" y="32.11" width="1.7" height="1.7" fill="#0000ff"/>
<rect x="311.85" y="32.11" width="1.7" height="1.7" fill="#0000ff"/>
<rect x="315.30" y="32.11" width="1.7" height="1.7" fill="#0000ff"/>
<text x="320.20" y="34.96" class="lg">EMCF [0.642]</text>
<line x1="304.60" y1="39.04" x2="311.40" y2="39.04" stroke="#000000" stroke-width="1.9"/>
<line x1="314.10" y1="39.04" x2="316.90" y2="39.04" stroke="#000000" stroke-width="1.9"/>
<text x="320.20" y="41.04" class="lg">MSCF [0.640]</text>
<line x1="304.60" y1="45.12" x2="318.50" y2="45.12" stroke="#ff00ff" stroke-width="1.9"/>
<text x="320.20" y="47.12" class="lg">DRCF [0.640]</text>
<line x1="304.60" y1="51.20" x2="312.10" y2="51.20" stroke="#00ffff" stroke-width="1.9"/>
<text x="320.20" y="53.20" class="lg">SRDCF [0.639]</text>
<rect x="304.95" y="56.43" width="1.7" height="1.7" fill="#808080"/>
<rect x="308.40" y="56.43" width="1.7" height="1.7" fill="#808080"/>
<rect x="311.85" y="56.43" width="1.7" height="1.7" fill="#808080"/>
<rect x="315.30" y="56.43" width="1.7" height="1.7" fill="#808080"/>
<text x="320.20" y="59.28" class="lg">ReCF [0.634]</text>
<line x1="304.60" y1="63.36" x2="311.40" y2="63.36" stroke="#880015" stroke-width="1.9"/>
<line x1="314.10" y1="63.36" x2="316.90" y2="63.36" stroke="#880015" stroke-width="1.9"/>
<text x="320.20" y="65.36" class="lg">CSR-DCF [0.634]</text>
<line x1="304.60" y1="69.44" x2="318.50" y2="69.44" stroke="#ff7f27" stroke-width="1.9"/>
<text x="320.20" y="71.44" class="lg">IBRI [0.631]</text>
<line x1="304.60" y1="75.52" x2="312.10" y2="75.52" stroke="#00a2e8" stroke-width="1.9"/>
<text x="320.20" y="77.52" class="lg">Staple-CA [0.630]</text>
<rect x="304.95" y="80.75" width="1.7" height="1.7" fill="#a349a4"/>
<rect x="308.40" y="80.75" width="1.7" height="1.7" fill="#a349a4"/>
<rect x="311.85" y="80.75" width="1.7" height="1.7" fill="#a349a4"/>
<rect x="315.30" y="80.75" width="1.7" height="1.7" fill="#a349a4"/>
<text x="320.20" y="83.60" class="lg">ARCF-HC [0.630]</text>
<line x1="304.60" y1="87.68" x2="311.40" y2="87.68" stroke="#ffc90e" stroke-width="1.9"/>
<line x1="314.10" y1="87.68" x2="316.90" y2="87.68" stroke="#ffc90e" stroke-width="1.9"/>
<text x="320.20" y="89.68" class="lg">Staple-MF [0.626]</text>
<line x1="304.60" y1="93.76" x2="318.50" y2="93.76" stroke="#253d3d" stroke-width="1.9"/>
<text x="320.20" y="95.76" class="lg">Staple [0.623]</text>
<rect x="304.95" y="98.99" width="1.7" height="1.7" fill="#f4a7b9"/>
<rect x="308.40" y="98.99" width="1.7" height="1.7" fill="#f4a7b9"/>
<rect x="311.85" y="98.99" width="1.7" height="1.7" fill="#f4a7b9"/>
<rect x="315.30" y="98.99" width="1.7" height="1.7" fill="#f4a7b9"/>
<text x="320.20" y="101.84" class="lg">SAMF [0.546]</text>
<g clip-path="url(#c2)">
<polyline points="392.7,127.1 394.2,122.8 395.8,118.4 397.3,113.8 398.8,109.1 400.3,104.3 401.9,99.7 403.4,95.2 404.9,91.0 406.5,86.8 408.0,82.9 409.5,79.5 411.1,76.5 414.1,71.2 417.2,66.3 420.2,61.9 423.3,58.1 426.4,55.0 429.4,52.3 432.5,49.7 435.5,46.9 438.6,44.0 441.7,41.5 444.7,39.1 447.8,36.9 450.8,35.2 453.9,33.9 460.0,31.9 466.1,30.2 472.3,28.8 478.4,27.8 484.5,27.0 490.6,26.3 496.7,25.8 502.9,25.3 509.0,24.9 515.1,24.5 521.2,24.1 527.3,23.8 533.5,23.5 539.6,23.2 545.7,23.0" fill="none" stroke="#ff0000" stroke-width="2.2" stroke-linejoin="round"/>
<polyline points="392.7,127.1 394.2,123.0 395.8,118.7 397.3,114.4 398.8,109.8 400.3,105.0 401.9,100.5 403.4,96.3 404.9,92.3 406.5,88.6 408.0,85.0 409.5,81.9 411.1,79.2 414.1,74.3 417.2,70.1 420.2,66.2 423.3,62.6 426.4,59.3 429.4,56.1 432.5,53.0 435.5,49.9 438.6,47.1 441.7,44.6 444.7,42.3 447.8,40.3 450.8,38.7 453.9,37.5 460.0,35.6 466.1,33.9 472.3,32.4 478.4,31.0 484.5,29.8 490.6,28.7 496.7,27.7 502.9,26.8 509.0,25.8 515.1,24.9 521.2,24.0 527.3,23.1 533.5,22.2 539.6,21.2 545.7,20.4" fill="none" stroke="#00ff00" stroke-width="1.95" stroke-dasharray="6.5,2.8,0.8,2.8" stroke-linejoin="round"/>
<polyline points="392.7,127.1 394.2,123.1 395.8,119.0 397.3,114.7 398.8,110.2 400.3,105.5 401.9,101.1 403.4,97.0 404.9,93.3 406.5,89.7 408.0,86.5 409.5,83.6 411.1,81.0 414.1,76.4 417.2,72.5 420.2,69.0 423.3,65.6 426.4,62.2 429.4,58.6 432.5,55.2 435.5,51.9 438.6,49.1 441.7,46.6 444.7,44.4 447.8,42.5 450.8,41.0 453.9,39.8 460.0,38.1 466.1,36.4 472.3,34.9 478.4,33.6 484.5,32.6 490.6,31.8 496.7,31.1 502.9,30.5 509.0,29.9 515.1,29.4 521.2,28.9 527.3,28.4 533.5,28.0 539.6,27.6 545.7,27.2" fill="none" stroke="#0000ff" stroke-width="1.95" stroke-dasharray="1.6,2.0" stroke-linejoin="round"/>
<polyline points="392.7,127.1 394.2,123.1 395.8,119.0 397.3,114.8 398.8,110.2 400.3,105.6 401.9,101.2 403.4,97.1 404.9,93.4 406.5,89.9 408.0,86.7 409.5,83.9 411.1,81.3 414.1,76.8 417.2,73.0 420.2,69.6 423.3,66.2 426.4,62.7 429.4,59.1 432.5,55.6 435.5,52.3 438.6,49.5 441.7,47.0 444.7,44.8 447.8,42.9 450.8,41.4 453.9,40.3 460.0,38.5 466.1,36.9 472.3,35.4 478.4,34.1 484.5,33.0 490.6,32.2 496.7,31.5 502.9,30.8 509.0,30.3 515.1,29.7 521.2,29.2 527.3,28.8 533.5,28.3 539.6,27.9 545.7,27.5" fill="none" stroke="#000000" stroke-width="1.95" stroke-dasharray="6,3" stroke-linejoin="round"/>
<polyline points="392.7,127.1 394.2,123.1 395.8,119.1 397.3,114.8 398.8,110.3 400.3,105.6 401.9,101.3 403.4,97.2 404.9,93.5 406.5,90.1 408.0,86.9 409.5,84.1 411.1,81.5 414.1,77.1 417.2,73.3 420.2,69.9 423.3,66.6 426.4,63.1 429.4,59.4 432.5,55.8 435.5,52.5 438.6,49.7 441.7,47.3 444.7,45.1 447.8,43.2 450.8,41.7 453.9,40.6 460.0,38.8 466.1,37.2 472.3,35.7 478.4,34.4 484.5,33.3 490.6,32.5 496.7,31.7 502.9,31.1 509.0,30.5 515.1,30.0 521.2,29.5 527.3,29.0 533.5,28.5 539.6,28.1 545.7,27.7" fill="none" stroke="#ff00ff" stroke-width="1.95" stroke-linejoin="round"/>
<polyline points="392.7,127.1 394.2,123.1 395.8,119.1 397.3,114.8 398.8,110.3 400.3,105.6 401.9,101.3 403.4,97.2 404.9,93.5 406.5,90.1 408.0,86.9 409.5,84.1 411.1,81.5 414.1,77.1 417.2,73.3 420.2,69.9 423.3,66.6 426.4,63.1 429.4,59.4 432.5,55.8 435.5,52.5 438.6,49.7 441.7,47.3 444.7,45.1 447.8,43.2 450.8,41.7 453.9,40.6 460.0,38.8 466.1,37.2 472.3,35.7 478.4,34.4 484.5,33.3 490.6,32.5 496.7,31.7 502.9,31.1 509.0,30.5 515.1,30.0 521.2,29.5 527.3,29.0 533.5,28.5 539.6,28.1 545.7,27.7" fill="none" stroke="#00ffff" stroke-width="1.95" stroke-dasharray="6.5,2.8,0.8,2.8" stroke-linejoin="round"/>
<polyline points="392.7,127.1 394.2,123.2 395.8,119.2 397.3,115.0 398.8,110.5 400.3,105.8 401.9,101.5 403.4,97.5 404.9,93.9 406.5,90.6 408.0,87.5 409.5,84.8 411.1,82.3 414.1,78.0 417.2,74.4 420.2,71.2 423.3,67.9 426.4,64.3 429.4,60.5 432.5,56.8 435.5,53.4 438.6,50.6 441.7,48.2 444.7,46.0 447.8,44.2 450.8,42.7 453.9,41.6 460.0,39.9 466.1,38.3 472.3,36.8 478.4,35.4 484.5,34.3 490.6,33.4 496.7,32.7 502.9,32.0 509.0,31.4 515.1,30.8 521.2,30.3 527.3,29.8 533.5,29.3 539.6,28.9 545.7,28.5" fill="none" stroke="#808080" stroke-width="1.95" stroke-dasharray="1.6,2.0" stroke-linejoin="round"/>
<polyline points="392.7,127.1 394.2,123.2 395.8,119.2 397.3,115.1 398.8,110.6 400.3,106.0 401.9,101.7 403.4,97.8 404.9,94.2 406.5,91.0 408.0,88.0 409.5,85.3 411.1,82.9 414.1,78.7 417.2,75.2 420.2,72.1 423.3,68.9 426.4,65.2 429.4,61.3 432.5,57.5 435.5,54.0 438.6,51.2 441.7,48.8 444.7,46.7 447.8,44.9 450.8,43.4 453.9,42.3 460.0,40.7 466.1,39.1 472.3,37.5 478.4,36.1 484.5,35.0 490.6,34.1 496.7,33.3 502.9,32.7 509.0,32.0 515.1,31.5 521.2,30.9 527.3,30.4 533.5,29.9 539.6,29.4 545.7,29.0" fill="none" stroke="#880015" stroke-width="1.95" stroke-dasharray="6,3" stroke-linejoin="round"/>
<polyline points="392.7,127.1 394.2,123.3 395.8,119.3 397.3,115.2 398.8,110.7 400.3,106.1 401.9,101.8 403.4,97.9 404.9,94.5 406.5,91.3 408.0,88.3 409.5,85.7 411.1,83.3 414.1,79.2 417.2,75.8 420.2,72.8 423.3,69.6 426.4,65.9 429.4,62.0 432.5,58.0 435.5,54.5 438.6,51.8 441.7,49.4 444.7,47.2 447.8,45.4 450.8,44.0 453.9,42.9 460.0,41.3 466.1,39.7 472.3,38.1 478.4,36.7 484.5,35.6 490.6,34.6 496.7,33.9 502.9,33.2 509.0,32.5 515.1,32.0 521.2,31.4 527.3,30.8 533.5,30.3 539.6,29.9 545.7,29.4" fill="none" stroke="#ff7f27" stroke-width="1.95" stroke-linejoin="round"/>
<polyline points="392.7,127.1 394.2,123.3 395.8,119.3 397.3,115.2 398.8,110.7 400.3,106.1 401.9,101.8 403.4,97.9 404.9,94.5 406.5,91.3 408.0,88.3 409.5,85.7 411.1,83.3 414.1,79.2 417.2,75.8 420.2,72.8 423.3,69.6 426.4,65.9 429.4,62.0 432.5,58.0 435.5,54.5 438.6,51.8 441.7,49.4 444.7,47.2 447.8,45.4 450.8,44.0 453.9,42.9 460.0,41.3 466.1,39.7 472.3,38.1 478.4,36.7 484.5,35.6 490.6,34.6 496.7,33.9 502.9,33.2 509.0,32.5 515.1,32.0 521.2,31.4 527.3,30.8 533.5,30.3 539.6,29.9 545.7,29.4" fill="none" stroke="#00a2e8" stroke-width="1.95" stroke-dasharray="6.5,2.8,0.8,2.8" stroke-linejoin="round"/>
<polyline points="392.7,127.1 394.2,123.3 395.8,119.4 397.3,115.2 398.8,110.8 400.3,106.2 401.9,101.9 403.4,98.1 404.9,94.6 406.5,91.5 408.0,88.6 409.5,86.0 411.1,83.7 414.1,79.6 417.2,76.2 420.2,73.3 423.3,70.2 426.4,66.5 429.4,62.4 432.5,58.4 435.5,54.9 438.6,52.1 441.7,49.8 444.7,47.6 447.8,45.8 450.8,44.4 453.9,43.4 460.0,41.8 466.1,40.2 472.3,38.6 478.4,37.2 484.5,36.0 490.6,35.1 496.7,34.3 502.9,33.6 509.0,32.9 515.1,32.3 521.2,31.7 527.3,31.2 533.5,30.7 539.6,30.2 545.7,29.7" fill="none" stroke="#a349a4" stroke-width="1.95" stroke-dasharray="1.6,2.0" stroke-linejoin="round"/>
<polyline points="392.7,127.1 394.2,123.3 395.8,119.4 397.3,115.3 398.8,110.8 400.3,106.2 401.9,101.9 403.4,98.1 404.9,94.7 406.5,91.6 408.0,88.7 409.5,86.1 411.1,83.8 414.1,79.7 417.2,76.4 420.2,73.5 423.3,70.4 426.4,66.7 429.4,62.6 432.5,58.6 435.5,55.0 438.6,52.3 441.7,49.9 444.7,47.8 447.8,46.0 450.8,44.6 453.9,43.5 460.0,41.9 466.1,40.3 472.3,38.8 478.4,37.3 484.5,36.1 490.6,35.2 496.7,34.4 502.9,33.7 509.0,33.1 515.1,32.4 521.2,31.9 527.3,31.3 533.5,30.8 539.6,30.3 545.7,29.9" fill="none" stroke="#ffc90e" stroke-width="1.95" stroke-dasharray="6,3" stroke-linejoin="round"/>
<polyline points="392.7,127.1 394.2,123.3 395.8,119.4 397.3,115.3 398.8,110.9 400.3,106.3 401.9,102.0 403.4,98.3 404.9,94.9 406.5,91.8 408.0,89.0 409.5,86.5 411.1,84.1 414.1,80.1 417.2,76.9 420.2,74.0 423.3,70.9 426.4,67.2 429.4,63.1 432.5,59.0 435.5,55.4 438.6,52.6 441.7,50.3 444.7,48.2 447.8,46.4 450.8,45.0 453.9,44.0 460.0,42.4 466.1,40.8 472.3,39.2 478.4,37.8 484.5,36.5 490.6,35.6 496.7,34.8 502.9,34.1 509.0,33.4 515.1,32.8 521.2,32.2 527.3,31.6 533.5,31.1 539.6,30.6 545.7,30.2" fill="none" stroke="#253d3d" stroke-width="1.95" stroke-linejoin="round"/>
<polyline points="392.7,127.1 394.2,123.9 395.8,120.5 397.3,116.9 398.8,113.1 400.3,109.1 401.9,105.6 403.4,102.3 404.9,99.1 406.5,96.1 408.0,93.3 409.5,90.8 411.1,88.6 414.1,84.6 417.2,81.2 420.2,78.1 423.3,75.3 426.4,72.7 429.4,70.3 432.5,68.0 435.5,66.0 438.6,64.1 441.7,62.2 444.7,60.7 447.8,59.7 450.8,58.9 453.9,58.1 460.0,56.6 466.1,55.3 472.3,54.4 478.4,53.8 484.5,53.1 490.6,52.3 496.7,51.5 502.9,50.6 509.0,49.8 515.1,48.9 521.2,48.0 527.3,47.2 533.5,46.3 539.6,45.4 545.7,44.6" fill="none" stroke="#f4a7b9" stroke-width="1.5" stroke-dasharray="1.4,2.2" stroke-linejoin="round"/>
</g>
<rect x="392.70" y="13.40" width="153.00" height="118.10" fill="none" stroke="#bdbdbd" stroke-width="0.8"/>
<line x1="392.70" y1="131.50" x2="392.70" y2="130.00" stroke="#999" stroke-width="0.7"/>
<line x1="392.70" y1="13.40" x2="392.70" y2="14.90" stroke="#999" stroke-width="0.7"/>
<text x="392.70" y="138.70" text-anchor="middle" class="tk">0</text>
<line x1="423.30" y1="131.50" x2="423.30" y2="130.00" stroke="#999" stroke-width="0.7"/>
<line x1="423.30" y1="13.40" x2="423.30" y2="14.90" stroke="#999" stroke-width="0.7"/>
<text x="423.30" y="138.70" text-anchor="middle" class="tk">10</text>
<line x1="453.90" y1="131.50" x2="453.90" y2="130.00" stroke="#999" stroke-width="0.7"/>
<line x1="453.90" y1="13.40" x2="453.90" y2="14.90" stroke="#999" stroke-width="0.7"/>
<text x="453.90" y="138.70" text-anchor="middle" class="tk">20</text>
<line x1="484.50" y1="131.50" x2="484.50" y2="130.00" stroke="#999" stroke-width="0.7"/>
<line x1="484.50" y1="13.40" x2="484.50" y2="14.90" stroke="#999" stroke-width="0.7"/>
<text x="484.50" y="138.70" text-anchor="middle" class="tk">30</text>
<line x1="515.10" y1="131.50" x2="515.10" y2="130.00" stroke="#999" stroke-width="0.7"/>
<line x1="515.10" y1="13.40" x2="515.10" y2="14.90" stroke="#999" stroke-width="0.7"/>
<text x="515.10" y="138.70" text-anchor="middle" class="tk">40</text>
<line x1="545.70" y1="131.50" x2="545.70" y2="130.00" stroke="#999" stroke-width="0.7"/>
<line x1="545.70" y1="13.40" x2="545.70" y2="14.90" stroke="#999" stroke-width="0.7"/>
<text x="545.70" y="138.70" text-anchor="middle" class="tk">50</text>
<line x1="392.70" y1="131.50" x2="394.20" y2="131.50" stroke="#999" stroke-width="0.7"/>
<line x1="545.70" y1="131.50" x2="544.20" y2="131.50" stroke="#999" stroke-width="0.7"/>
<text x="391.30" y="133.50" text-anchor="end" class="tk">0</text>
<line x1="392.70" y1="116.74" x2="394.20" y2="116.74" stroke="#999" stroke-width="0.7"/>
<line x1="545.70" y1="116.74" x2="544.20" y2="116.74" stroke="#999" stroke-width="0.7"/>
<text x="391.30" y="118.74" text-anchor="end" class="tk">0.1</text>
<line x1="392.70" y1="101.97" x2="394.20" y2="101.97" stroke="#999" stroke-width="0.7"/>
<line x1="545.70" y1="101.97" x2="544.20" y2="101.97" stroke="#999" stroke-width="0.7"/>
<text x="391.30" y="103.97" text-anchor="end" class="tk">0.2</text>
<line x1="392.70" y1="87.21" x2="394.20" y2="87.21" stroke="#999" stroke-width="0.7"/>
<line x1="545.70" y1="87.21" x2="544.20" y2="87.21" stroke="#999" stroke-width="0.7"/>
<text x="391.30" y="89.21" text-anchor="end" class="tk">0.3</text>
<line x1="392.70" y1="72.45" x2="394.20" y2="72.45" stroke="#999" stroke-width="0.7"/>
<line x1="545.70" y1="72.45" x2="544.20" y2="72.45" stroke="#999" stroke-width="0.7"/>
<text x="391.30" y="74.45" text-anchor="end" class="tk">0.4</text>
<line x1="392.70" y1="57.69" x2="394.20" y2="57.69" stroke="#999" stroke-width="0.7"/>
<line x1="545.70" y1="57.69" x2="544.20" y2="57.69" stroke="#999" stroke-width="0.7"/>
<text x="391.30" y="59.69" text-anchor="end" class="tk">0.5</text>
<line x1="392.70" y1="42.93" x2="394.20" y2="42.93" stroke="#999" stroke-width="0.7"/>
<line x1="545.70" y1="42.93" x2="544.20" y2="42.93" stroke="#999" stroke-width="0.7"/>
<text x="391.30" y="44.93" text-anchor="end" class="tk">0.6</text>
<line x1="392.70" y1="28.16" x2="394.20" y2="28.16" stroke="#999" stroke-width="0.7"/>
<line x1="545.70" y1="28.16" x2="544.20" y2="28.16" stroke="#999" stroke-width="0.7"/>
<text x="391.30" y="30.16" text-anchor="end" class="tk">0.7</text>
<line x1="392.70" y1="13.40" x2="394.20" y2="13.40" stroke="#999" stroke-width="0.7"/>
<line x1="545.70" y1="13.40" x2="544.20" y2="13.40" stroke="#999" stroke-width="0.7"/>
<text x="391.30" y="15.40" text-anchor="end" class="tk">0.8</text>
<text x="469.80" y="10.60" text-anchor="middle" class="ti">Precision plots of OPE - Viewpoint Change (60)</text>
<text x="469.20" y="147.70" text-anchor="middle" class="lb">Location error threshold</text>
<text x="0" y="0" transform="translate(381.40,72.45) rotate(-90)" text-anchor="middle" class="lb">Precision</text>
<rect x="486.80" y="17.40" width="55.10" height="86.00" fill="#fff" stroke="#c8c8c8" stroke-width="0.6"/>
<line x1="488.10" y1="20.80" x2="502.00" y2="20.80" stroke="#ff0000" stroke-width="1.9"/>
<text x="503.70" y="22.80" class="lg">OURS [0.661]</text>
<line x1="488.10" y1="26.88" x2="495.60" y2="26.88" stroke="#00ff00" stroke-width="1.9"/>
<text x="503.70" y="28.88" class="lg">CSR-DCF [0.637]</text>
<rect x="488.45" y="32.11" width="1.7" height="1.7" fill="#0000ff"/>
<rect x="491.90" y="32.11" width="1.7" height="1.7" fill="#0000ff"/>
<rect x="495.35" y="32.11" width="1.7" height="1.7" fill="#0000ff"/>
<rect x="498.80" y="32.11" width="1.7" height="1.7" fill="#0000ff"/>
<text x="503.70" y="34.96" class="lg">ReCF [0.621]</text>
<line x1="488.10" y1="39.04" x2="494.90" y2="39.04" stroke="#000000" stroke-width="1.9"/>
<line x1="497.60" y1="39.04" x2="500.40" y2="39.04" stroke="#000000" stroke-width="1.9"/>
<text x="503.70" y="41.04" class="lg">AutoTrack [0.618]</text>
<line x1="488.10" y1="45.12" x2="502.00" y2="45.12" stroke="#ff00ff" stroke-width="1.9"/>
<text x="503.70" y="47.12" class="lg">DRCF [0.616]</text>
<line x1="488.10" y1="51.20" x2="495.60" y2="51.20" stroke="#00ffff" stroke-width="1.9"/>
<text x="503.70" y="53.20" class="lg">Staple-CA [0.616]</text>
<rect x="488.45" y="56.43" width="1.7" height="1.7" fill="#808080"/>
<rect x="491.90" y="56.43" width="1.7" height="1.7" fill="#808080"/>
<rect x="495.35" y="56.43" width="1.7" height="1.7" fill="#808080"/>
<rect x="498.80" y="56.43" width="1.7" height="1.7" fill="#808080"/>
<text x="503.70" y="59.28" class="lg">EMCF [0.609]</text>
<line x1="488.10" y1="63.36" x2="494.90" y2="63.36" stroke="#880015" stroke-width="1.9"/>
<line x1="497.60" y1="63.36" x2="500.40" y2="63.36" stroke="#880015" stroke-width="1.9"/>
<text x="503.70" y="65.36" class="lg">Staple [0.604]</text>
<line x1="488.10" y1="69.44" x2="502.00" y2="69.44" stroke="#ff7f27" stroke-width="1.9"/>
<text x="503.70" y="71.44" class="lg">IBRI [0.600]</text>
<line x1="488.10" y1="75.52" x2="495.60" y2="75.52" stroke="#00a2e8" stroke-width="1.9"/>
<text x="503.70" y="77.52" class="lg">Staple-MF [0.600]</text>
<rect x="488.45" y="80.75" width="1.7" height="1.7" fill="#a349a4"/>
<rect x="491.90" y="80.75" width="1.7" height="1.7" fill="#a349a4"/>
<rect x="495.35" y="80.75" width="1.7" height="1.7" fill="#a349a4"/>
<rect x="498.80" y="80.75" width="1.7" height="1.7" fill="#a349a4"/>
<text x="503.70" y="83.60" class="lg">MSCF [0.597]</text>
<line x1="488.10" y1="87.68" x2="494.90" y2="87.68" stroke="#ffc90e" stroke-width="1.9"/>
<line x1="497.60" y1="87.68" x2="500.40" y2="87.68" stroke="#ffc90e" stroke-width="1.9"/>
<text x="503.70" y="89.68" class="lg">ARCF-HC [0.596]</text>
<line x1="488.10" y1="93.76" x2="502.00" y2="93.76" stroke="#253d3d" stroke-width="1.9"/>
<text x="503.70" y="95.76" class="lg">SRDCF [0.593]</text>
<rect x="488.45" y="98.99" width="1.7" height="1.7" fill="#f4a7b9"/>
<rect x="491.90" y="98.99" width="1.7" height="1.7" fill="#f4a7b9"/>
<rect x="495.35" y="98.99" width="1.7" height="1.7" fill="#f4a7b9"/>
<rect x="498.80" y="98.99" width="1.7" height="1.7" fill="#f4a7b9"/>
<text x="503.70" y="101.84" class="lg">SAMF [0.497]</text>
<g clip-path="url(#c3)">
<polyline points="22.3,269.9 23.8,265.7 25.4,260.6 26.9,254.1 28.4,247.1 30.0,240.7 31.5,234.4 33.0,228.3 34.5,222.5 36.1,216.9 37.6,212.6 39.1,209.5 40.7,206.8 43.7,202.3 46.8,198.2 49.8,194.7 52.9,191.9 56.0,189.5 59.0,187.3 62.1,185.3 65.1,183.1 68.2,181.2 71.3,179.6 74.3,178.3 77.4,177.2 80.4,176.3 83.5,175.6 89.6,174.4 95.7,173.2 101.9,172.1 108.0,171.1 114.1,170.3 120.2,169.7 126.3,169.1 132.5,168.6 138.6,168.1 144.7,167.7 150.8,167.4 156.9,167.1 163.1,166.8 169.2,166.6 175.3,166.4" fill="none" stroke="#ff0000" stroke-width="2.2" stroke-linejoin="round"/>
<polyline points="22.3,269.9 23.8,265.8 25.4,260.7 26.9,254.3 28.4,247.3 30.0,241.0 31.5,234.7 33.0,228.6 34.5,222.9 36.1,217.3 37.6,213.1 39.1,209.9 40.7,207.3 43.7,202.8 46.8,198.7 49.8,195.3 52.9,192.4 56.0,190.0 59.0,187.8 62.1,185.8 65.1,183.7 68.2,181.7 71.3,180.1 74.3,178.9 77.4,177.8 80.4,176.9 83.5,176.1 89.6,174.9 95.7,173.7 101.9,172.6 108.0,171.7 114.1,170.9 120.2,170.2 126.3,169.6 132.5,169.1 138.6,168.6 144.7,168.2 150.8,167.8 156.9,167.5 163.1,167.2 169.2,167.0 175.3,166.8" fill="none" stroke="#00ff00" stroke-width="1.95" stroke-dasharray="6.5,2.8,0.8,2.8" stroke-linejoin="round"/>
<polyline points="22.3,269.9 23.8,266.1 25.4,261.4 26.9,255.4 28.4,248.7 30.0,242.3 31.5,236.0 33.0,229.8 34.5,224.2 36.1,219.0 37.6,214.9 39.1,211.8 40.7,209.1 43.7,204.6 46.8,200.8 49.8,197.6 52.9,194.7 56.0,192.0 59.0,189.6 62.1,187.4 65.1,185.3 68.2,183.3 71.3,181.7 74.3,180.4 77.4,179.3 80.4,178.4 83.5,177.5 89.6,175.7 95.7,174.0 101.9,172.6 108.0,171.3 114.1,170.2 120.2,169.0 126.3,167.9 132.5,166.9 138.6,165.8 144.7,164.7 150.8,163.6 156.9,162.5 163.1,161.9 169.2,161.5 175.3,161.3" fill="none" stroke="#0000ff" stroke-width="1.95" stroke-dasharray="1.6,2.0" stroke-linejoin="round"/>
<polyline points="22.3,269.9 23.8,266.0 25.4,261.1 26.9,254.9 28.4,248.2 30.0,242.0 31.5,235.8 33.0,229.7 34.5,224.0 36.1,218.7 37.6,214.6 39.1,211.4 40.7,208.8 43.7,204.3 46.8,200.4 49.8,197.0 52.9,194.2 56.0,191.7 59.0,189.6 62.1,187.5 65.1,185.5 68.2,183.7 71.3,182.1 74.3,180.8 77.4,179.6 80.4,178.6 83.5,177.8 89.6,176.4 95.7,175.3 101.9,174.3 108.0,173.5 114.1,172.7 120.2,172.1 126.3,171.4 132.5,170.8 138.6,170.2 144.7,169.7 150.8,169.3 156.9,168.9 163.1,168.6 169.2,168.3 175.3,168.0" fill="none" stroke="#000000" stroke-width="1.95" stroke-dasharray="6,3" stroke-linejoin="round"/>
<polyline points="22.3,269.9 23.8,266.2 25.4,261.5 26.9,255.5 28.4,248.9 30.0,242.7 31.5,236.7 33.0,230.5 34.5,225.0 36.1,219.8 37.6,215.8 39.1,212.7 40.7,210.0 43.7,205.5 46.8,201.7 49.8,198.4 52.9,195.6 56.0,193.2 59.0,191.0 62.1,188.9 65.1,187.0 68.2,185.2 71.3,183.7 74.3,182.3 77.4,181.1 80.4,180.0 83.5,179.2 89.6,177.7 95.7,176.6 101.9,175.7 108.0,175.0 114.1,174.3 120.2,173.5 126.3,172.8 132.5,172.2 138.6,171.5 144.7,171.0 150.8,170.5 156.9,170.1 163.1,169.7 169.2,169.3 175.3,169.0" fill="none" stroke="#ff00ff" stroke-width="1.95" stroke-linejoin="round"/>
<polyline points="22.3,269.9 23.8,266.2 25.4,261.6 26.9,255.7 28.4,249.1 30.0,243.0 31.5,237.0 33.0,230.9 34.5,225.3 36.1,220.2 37.6,216.3 39.1,213.1 40.7,210.5 43.7,206.0 46.8,202.2 49.8,198.9 52.9,196.1 56.0,193.7 59.0,191.5 62.1,189.4 65.1,187.5 68.2,185.8 71.3,184.2 74.3,182.9 77.4,181.6 80.4,180.6 83.5,179.7 89.6,178.2 95.7,177.1 101.9,176.2 108.0,175.5 114.1,174.8 120.2,174.1 126.3,173.4 132.5,172.7 138.6,172.0 144.7,171.4 150.8,170.9 156.9,170.5 163.1,170.1 169.2,169.7 175.3,169.4" fill="none" stroke="#00ffff" stroke-width="1.95" stroke-dasharray="6.5,2.8,0.8,2.8" stroke-linejoin="round"/>
<polyline points="22.3,269.9 23.8,266.3 25.4,261.7 26.9,255.9 28.4,249.4 30.0,243.3 31.5,237.3 33.0,231.2 34.5,225.7 36.1,220.7 37.6,216.7 39.1,213.6 40.7,210.9 43.7,206.5 46.8,202.7 49.8,199.5 52.9,196.7 56.0,194.2 59.0,192.0 62.1,190.0 65.1,188.1 68.2,186.4 71.3,184.8 74.3,183.4 77.4,182.2 80.4,181.1 83.5,180.2 89.6,178.7 95.7,177.6 101.9,176.8 108.0,176.1 114.1,175.4 120.2,174.7 126.3,173.9 132.5,173.2 138.6,172.5 144.7,171.9 150.8,171.4 156.9,170.9 163.1,170.5 169.2,170.1 175.3,169.8" fill="none" stroke="#808080" stroke-width="1.95" stroke-dasharray="1.6,2.0" stroke-linejoin="round"/>
<polyline points="22.3,269.9 23.8,266.3 25.4,261.7 26.9,255.9 28.4,249.4 30.0,243.3 31.5,237.3 33.0,231.2 34.5,225.7 36.1,220.7 37.6,216.7 39.1,213.6 40.7,210.9 43.7,206.5 46.8,202.7 49.8,199.5 52.9,196.7 56.0,194.2 59.0,192.0 62.1,190.0 65.1,188.1 68.2,186.4 71.3,184.8 74.3,183.4 77.4,182.2 80.4,181.1 83.5,180.2 89.6,178.7 95.7,177.6 101.9,176.8 108.0,176.1 114.1,175.4 120.2,174.7 126.3,173.9 132.5,173.2 138.6,172.5 144.7,171.9 150.8,171.4 156.9,170.9 163.1,170.5 169.2,170.1 175.3,169.8" fill="none" stroke="#880015" stroke-width="1.95" stroke-dasharray="6,3" stroke-linejoin="round"/>
<polyline points="22.3,269.9 23.8,266.3 25.4,261.7 26.9,255.9 28.4,249.4 30.0,243.3 31.5,237.3 33.0,231.2 34.5,225.7 36.1,220.7 37.6,216.7 39.1,213.6 40.7,210.9 43.7,206.5 46.8,202.7 49.8,199.5 52.9,196.7 56.0,194.2 59.0,192.0 62.1,190.0 65.1,188.1 68.2,186.4 71.3,184.8 74.3,183.4 77.4,182.2 80.4,181.1 83.5,180.2 89.6,178.7 95.7,177.6 101.9,176.8 108.0,176.1 114.1,175.4 120.2,174.7 126.3,173.9 132.5,173.2 138.6,172.5 144.7,171.9 150.8,171.4 156.9,170.9 163.1,170.5 169.2,170.1 175.3,169.8" fill="none" stroke="#ff7f27" stroke-width="1.95" stroke-linejoin="round"/>
<polyline points="22.3,269.9 23.8,266.3 25.4,261.8 26.9,255.9 28.4,249.5 30.0,243.4 31.5,237.4 33.0,231.3 34.5,225.8 36.1,220.8 37.6,216.9 39.1,213.7 40.7,211.1 43.7,206.6 46.8,202.9 49.8,199.6 52.9,196.9 56.0,194.4 59.0,192.2 62.1,190.1 65.1,188.3 68.2,186.6 71.3,185.0 74.3,183.6 77.4,182.4 80.4,181.3 83.5,180.3 89.6,178.8 95.7,177.8 101.9,176.9 108.0,176.2 114.1,175.6 120.2,174.8 126.3,174.1 132.5,173.3 138.6,172.7 144.7,172.1 150.8,171.5 156.9,171.0 163.1,170.6 169.2,170.2 175.3,169.9" fill="none" stroke="#00a2e8" stroke-width="1.95" stroke-dasharray="6.5,2.8,0.8,2.8" stroke-linejoin="round"/>
<polyline points="22.3,269.9 23.8,266.4 25.4,262.0 26.9,256.2 28.4,249.8 30.0,243.8 31.5,237.9 33.0,231.7 34.5,226.3 36.1,221.4 37.6,217.5 39.1,214.4 40.7,211.7 43.7,207.2 46.8,203.5 49.8,200.3 52.9,197.6 56.0,195.1 59.0,192.9 62.1,190.8 65.1,189.0 68.2,187.3 71.3,185.8 74.3,184.4 77.4,183.1 80.4,182.0 83.5,181.0 89.6,179.4 95.7,178.4 101.9,177.6 108.0,177.0 114.1,176.3 120.2,175.6 126.3,174.8 132.5,174.0 138.6,173.3 144.7,172.7 150.8,172.1 156.9,171.6 163.1,171.1 169.2,170.7 175.3,170.4" fill="none" stroke="#a349a4" stroke-width="1.95" stroke-dasharray="1.6,2.0" stroke-linejoin="round"/>
<polyline points="22.3,269.9 23.8,266.5 25.4,262.2 26.9,256.6 28.4,250.3 30.0,244.4 31.5,238.5 33.0,232.3 34.5,227.0 36.1,222.2 37.6,218.4 39.1,215.3 40.7,212.6 43.7,208.1 46.8,204.5 49.8,201.4 52.9,198.6 56.0,196.1 59.0,193.9 62.1,191.9 65.1,190.1 68.2,188.5 71.3,187.0 74.3,185.5 77.4,184.2 80.4,183.0 83.5,182.0 89.6,180.4 95.7,179.4 101.9,178.7 108.0,178.1 114.1,177.4 120.2,176.7 126.3,175.9 132.5,175.1 138.6,174.3 144.7,173.6 150.8,173.0 156.9,172.5 163.1,172.0 169.2,171.5 175.3,171.1" fill="none" stroke="#ffc90e" stroke-width="1.95" stroke-dasharray="6,3" stroke-linejoin="round"/>
<polyline points="22.3,269.9 23.8,266.6 25.4,262.3 26.9,256.7 28.4,250.5 30.0,244.6 31.5,238.7 33.0,232.6 34.5,227.2 36.1,222.5 37.6,218.7 39.1,215.6 40.7,212.9 43.7,208.5 46.8,204.8 49.8,201.7 52.9,199.0 56.0,196.5 59.0,194.2 62.1,192.2 65.1,190.5 68.2,188.9 71.3,187.4 74.3,185.9 77.4,184.6 80.4,183.4 83.5,182.4 89.6,180.7 95.7,179.7 101.9,179.0 108.0,178.4 114.1,177.8 120.2,177.1 126.3,176.2 132.5,175.4 138.6,174.6 144.7,173.9 150.8,173.3 156.9,172.7 163.1,172.2 169.2,171.8 175.3,171.4" fill="none" stroke="#253d3d" stroke-width="1.95" stroke-linejoin="round"/>
<polyline points="22.3,269.9 23.8,267.0 25.4,263.1 26.9,258.0 28.4,252.2 30.0,246.6 31.5,241.2 33.0,235.8 34.5,231.0 36.1,227.4 37.6,224.2 39.1,221.5 40.7,219.2 43.7,215.0 46.8,211.4 49.8,208.2 52.9,205.6 56.0,203.3 59.0,201.3 62.1,199.5 65.1,197.9 68.2,196.6 71.3,195.5 74.3,194.5 77.4,193.6 80.4,192.8 83.5,191.9 89.6,190.2 95.7,189.1 101.9,188.4 108.0,187.8 114.1,187.1 120.2,186.4 126.3,185.7 132.5,185.1 138.6,184.4 144.7,183.8 150.8,183.3 156.9,182.7 163.1,182.2 169.2,181.7 175.3,181.3" fill="none" stroke="#f4a7b9" stroke-width="1.5" stroke-dasharray="1.4,2.2" stroke-linejoin="round"/>
</g>
<rect x="22.30" y="160.50" width="153.00" height="118.70" fill="none" stroke="#bdbdbd" stroke-width="0.8"/>
<line x1="22.30" y1="279.20" x2="22.30" y2="277.70" stroke="#999" stroke-width="0.7"/>
<line x1="22.30" y1="160.50" x2="22.30" y2="162.00" stroke="#999" stroke-width="0.7"/>
<text x="22.30" y="286.40" text-anchor="middle" class="tk">0</text>
<line x1="52.90" y1="279.20" x2="52.90" y2="277.70" stroke="#999" stroke-width="0.7"/>
<line x1="52.90" y1="160.50" x2="52.90" y2="162.00" stroke="#999" stroke-width="0.7"/>
<text x="52.90" y="286.40" text-anchor="middle" class="tk">10</text>
<line x1="83.50" y1="279.20" x2="83.50" y2="277.70" stroke="#999" stroke-width="0.7"/>
<line x1="83.50" y1="160.50" x2="83.50" y2="162.00" stroke="#999" stroke-width="0.7"/>
<text x="83.50" y="286.40" text-anchor="middle" class="tk">20</text>
<line x1="114.10" y1="279.20" x2="114.10" y2="277.70" stroke="#999" stroke-width="0.7"/>
<line x1="114.10" y1="160.50" x2="114.10" y2="162.00" stroke="#999" stroke-width="0.7"/>
<text x="114.10" y="286.40" text-anchor="middle" class="tk">30</text>
<line x1="144.70" y1="279.20" x2="144.70" y2="277.70" stroke="#999" stroke-width="0.7"/>
<line x1="144.70" y1="160.50" x2="144.70" y2="162.00" stroke="#999" stroke-width="0.7"/>
<text x="144.70" y="286.40" text-anchor="middle" class="tk">40</text>
<line x1="175.30" y1="279.20" x2="175.30" y2="277.70" stroke="#999" stroke-width="0.7"/>
<line x1="175.30" y1="160.50" x2="175.30" y2="162.00" stroke="#999" stroke-width="0.7"/>
<text x="175.30" y="286.40" text-anchor="middle" class="tk">50</text>
<line x1="22.30" y1="279.20" x2="23.80" y2="279.20" stroke="#999" stroke-width="0.7"/>
<line x1="175.30" y1="279.20" x2="173.80" y2="279.20" stroke="#999" stroke-width="0.7"/>
<text x="20.90" y="281.20" text-anchor="end" class="tk">0</text>
<line x1="22.30" y1="262.24" x2="23.80" y2="262.24" stroke="#999" stroke-width="0.7"/>
<line x1="175.30" y1="262.24" x2="173.80" y2="262.24" stroke="#999" stroke-width="0.7"/>
<text x="20.90" y="264.24" text-anchor="end" class="tk">0.1</text>
<line x1="22.30" y1="245.29" x2="23.80" y2="245.29" stroke="#999" stroke-width="0.7"/>
<line x1="175.30" y1="245.29" x2="173.80" y2="245.29" stroke="#999" stroke-width="0.7"/>
<text x="20.90" y="247.29" text-anchor="end" class="tk">0.2</text>
<line x1="22.30" y1="228.33" x2="23.80" y2="228.33" stroke="#999" stroke-width="0.7"/>
<line x1="175.30" y1="228.33" x2="173.80" y2="228.33" stroke="#999" stroke-width="0.7"/>
<text x="20.90" y="230.33" text-anchor="end" class="tk">0.3</text>
<line x1="22.30" y1="211.37" x2="23.80" y2="211.37" stroke="#999" stroke-width="0.7"/>
<line x1="175.30" y1="211.37" x2="173.80" y2="211.37" stroke="#999" stroke-width="0.7"/>
<text x="20.90" y="213.37" text-anchor="end" class="tk">0.4</text>
<line x1="22.30" y1="194.41" x2="23.80" y2="194.41" stroke="#999" stroke-width="0.7"/>
<line x1="175.30" y1="194.41" x2="173.80" y2="194.41" stroke="#999" stroke-width="0.7"/>
<text x="20.90" y="196.41" text-anchor="end" class="tk">0.5</text>
<line x1="22.30" y1="177.46" x2="23.80" y2="177.46" stroke="#999" stroke-width="0.7"/>
<line x1="175.30" y1="177.46" x2="173.80" y2="177.46" stroke="#999" stroke-width="0.7"/>
<text x="20.90" y="179.46" text-anchor="end" class="tk">0.6</text>
<line x1="22.30" y1="160.50" x2="23.80" y2="160.50" stroke="#999" stroke-width="0.7"/>
<line x1="175.30" y1="160.50" x2="173.80" y2="160.50" stroke="#999" stroke-width="0.7"/>
<text x="20.90" y="162.50" text-anchor="end" class="tk">0.7</text>
<text x="99.40" y="157.70" text-anchor="middle" class="ti">Precision plots of OPE - Partial Occlusion (73)</text>
<text x="98.80" y="295.40" text-anchor="middle" class="lb">Location error threshold</text>
<text x="0" y="0" transform="translate(11.00,219.85) rotate(-90)" text-anchor="middle" class="lb">Precision</text>
<rect x="116.40" y="164.50" width="55.10" height="86.00" fill="#fff" stroke="#c8c8c8" stroke-width="0.6"/>
<line x1="117.70" y1="167.90" x2="131.60" y2="167.90" stroke="#ff0000" stroke-width="1.9"/>
<text x="133.30" y="169.90" class="lg">OURS [0.611]</text>
<line x1="117.70" y1="173.98" x2="125.20" y2="173.98" stroke="#00ff00" stroke-width="1.9"/>
<text x="133.30" y="175.98" class="lg">SRDCF [0.608]</text>
<rect x="118.05" y="179.21" width="1.7" height="1.7" fill="#0000ff"/>
<rect x="121.50" y="179.21" width="1.7" height="1.7" fill="#0000ff"/>
<rect x="124.95" y="179.21" width="1.7" height="1.7" fill="#0000ff"/>
<rect x="128.40" y="179.21" width="1.7" height="1.7" fill="#0000ff"/>
<text x="133.30" y="182.06" class="lg">DRCF [0.600]</text>
<line x1="117.70" y1="186.14" x2="124.50" y2="186.14" stroke="#000000" stroke-width="1.9"/>
<line x1="127.20" y1="186.14" x2="130.00" y2="186.14" stroke="#000000" stroke-width="1.9"/>
<text x="133.30" y="188.14" class="lg">MSCF [0.598]</text>
<line x1="117.70" y1="192.22" x2="131.60" y2="192.22" stroke="#ff00ff" stroke-width="1.9"/>
<text x="133.30" y="194.22" class="lg">IBRI [0.590]</text>
<line x1="117.70" y1="198.30" x2="125.20" y2="198.30" stroke="#00ffff" stroke-width="1.9"/>
<text x="133.30" y="200.30" class="lg">CSR-DCF [0.587]</text>
<rect x="118.05" y="203.53" width="1.7" height="1.7" fill="#808080"/>
<rect x="121.50" y="203.53" width="1.7" height="1.7" fill="#808080"/>
<rect x="124.95" y="203.53" width="1.7" height="1.7" fill="#808080"/>
<rect x="128.40" y="203.53" width="1.7" height="1.7" fill="#808080"/>
<text x="133.30" y="206.38" class="lg">Staple-MF [0.584]</text>
<line x1="117.70" y1="210.46" x2="124.50" y2="210.46" stroke="#880015" stroke-width="1.9"/>
<line x1="127.20" y1="210.46" x2="130.00" y2="210.46" stroke="#880015" stroke-width="1.9"/>
<text x="133.30" y="212.46" class="lg">EMCF [0.584]</text>
<line x1="117.70" y1="216.54" x2="131.60" y2="216.54" stroke="#ff7f27" stroke-width="1.9"/>
<text x="133.30" y="218.54" class="lg">AutoTrack [0.584]</text>
<line x1="117.70" y1="222.62" x2="125.20" y2="222.62" stroke="#00a2e8" stroke-width="1.9"/>
<text x="133.30" y="224.62" class="lg">Staple-CA [0.583]</text>
<rect x="118.05" y="227.85" width="1.7" height="1.7" fill="#a349a4"/>
<rect x="121.50" y="227.85" width="1.7" height="1.7" fill="#a349a4"/>
<rect x="124.95" y="227.85" width="1.7" height="1.7" fill="#a349a4"/>
<rect x="128.40" y="227.85" width="1.7" height="1.7" fill="#a349a4"/>
<text x="133.30" y="230.70" class="lg">ReCF [0.579]</text>
<line x1="117.70" y1="234.78" x2="124.50" y2="234.78" stroke="#ffc90e" stroke-width="1.9"/>
<line x1="127.20" y1="234.78" x2="130.00" y2="234.78" stroke="#ffc90e" stroke-width="1.9"/>
<text x="133.30" y="236.78" class="lg">ARCF-HC [0.573]</text>
<line x1="117.70" y1="240.86" x2="131.60" y2="240.86" stroke="#253d3d" stroke-width="1.9"/>
<text x="133.30" y="242.86" class="lg">Staple [0.571]</text>
<rect x="118.05" y="246.09" width="1.7" height="1.7" fill="#f4a7b9"/>
<rect x="121.50" y="246.09" width="1.7" height="1.7" fill="#f4a7b9"/>
<rect x="124.95" y="246.09" width="1.7" height="1.7" fill="#f4a7b9"/>
<rect x="128.40" y="246.09" width="1.7" height="1.7" fill="#f4a7b9"/>
<text x="133.30" y="248.94" class="lg">SAMF [0.515]</text>
<g clip-path="url(#c4)">
<polyline points="209.2,270.7 210.7,265.4 212.3,258.7 213.8,250.0 215.3,240.7 216.8,232.9 218.4,225.8 219.9,219.5 221.4,213.2 223.0,206.4 224.5,202.5 226.0,199.6 227.6,197.3 230.6,193.8 233.7,191.4 236.7,189.4 239.8,187.9 242.9,186.5 245.9,185.3 249.0,184.2 252.0,183.3 255.1,182.4 258.2,181.6 261.2,180.8 264.3,180.0 267.3,179.4 270.4,179.0 276.5,178.4 282.6,178.0 288.8,177.6 294.9,177.3 301.0,176.9 307.1,176.5 313.2,176.1 319.4,175.7 325.5,175.2 331.6,174.7 337.7,174.1 343.8,173.3 350.0,172.5 356.1,171.6 362.2,170.6" fill="none" stroke="#ff0000" stroke-width="2.2" stroke-linejoin="round"/>
<polyline points="209.2,270.7 210.7,265.4 212.3,258.7 213.8,250.0 215.3,240.7 216.8,232.9 218.4,225.8 219.9,219.5 221.4,213.2 223.0,206.4 224.5,202.5 226.0,199.6 227.6,197.3 230.6,193.8 233.7,191.4 236.7,189.4 239.8,187.9 242.9,186.5 245.9,185.3 249.0,184.2 252.0,183.3 255.1,182.4 258.2,181.6 261.2,180.8 264.3,180.0 267.3,179.4 270.4,179.0 276.5,178.4 282.6,178.0 288.8,177.6 294.9,177.3 301.0,176.9 307.1,176.5 313.2,176.1 319.4,175.7 325.5,175.2 331.6,174.7 337.7,174.1 343.8,173.3 350.0,172.5 356.1,171.6 362.2,170.6" fill="none" stroke="#00ff00" stroke-width="1.95" stroke-dasharray="6.5,2.8,0.8,2.8" stroke-linejoin="round"/>
<polyline points="209.2,270.7 210.7,264.7 212.3,257.2 213.8,247.3 215.3,236.8 216.8,227.1 218.4,218.4 219.9,211.6 221.4,206.1 223.0,202.2 224.5,198.8 226.0,196.1 227.6,194.0 230.6,190.8 233.7,188.5 236.7,186.8 239.8,185.4 242.9,184.3 245.9,183.4 249.0,182.6 252.0,181.9 255.1,181.3 258.2,180.7 261.2,180.2 264.3,179.8 267.3,179.4 270.4,179.2 276.5,178.8 282.6,178.4 288.8,178.2 294.9,178.0 301.0,177.8 307.1,177.6 313.2,177.4 319.4,177.3 325.5,177.1 331.6,176.9 337.7,176.8 343.8,176.7 350.0,176.6 356.1,176.5 362.2,176.4" fill="none" stroke="#0000ff" stroke-width="1.95" stroke-dasharray="1.6,2.0" stroke-linejoin="round"/>
<polyline points="209.2,270.7 210.7,265.4 212.3,258.8 213.8,250.1 215.3,240.9 216.8,233.2 218.4,226.1 219.9,219.8 221.4,213.7 223.0,207.3 224.5,203.4 226.0,200.5 227.6,198.1 230.6,194.6 233.7,192.1 236.7,190.2 239.8,188.7 242.9,187.3 245.9,186.2 249.0,185.1 252.0,184.2 255.1,183.4 258.2,182.6 261.2,181.8 264.3,181.2 267.3,180.6 270.4,180.2 276.5,179.6 282.6,179.2 288.8,178.8 294.9,178.5 301.0,178.1 307.1,177.7 313.2,177.4 319.4,177.0 325.5,176.6 331.6,176.1 337.7,175.5 343.8,174.8 350.0,174.0 356.1,173.2 362.2,172.3" fill="none" stroke="#000000" stroke-width="1.95" stroke-dasharray="6,3" stroke-linejoin="round"/>
<polyline points="209.2,270.7 210.7,265.5 212.3,258.9 213.8,250.2 215.3,241.1 216.8,233.4 218.4,226.4 219.9,220.1 221.4,214.1 223.0,208.0 224.5,204.2 226.0,201.3 227.6,198.9 230.6,195.2 233.7,192.8 236.7,190.8 239.8,189.3 242.9,188.0 245.9,186.9 249.0,185.9 252.0,185.0 255.1,184.2 258.2,183.5 261.2,182.8 264.3,182.1 267.3,181.6 270.4,181.2 276.5,180.6 282.6,180.2 288.8,179.8 294.9,179.5 301.0,179.2 307.1,178.8 313.2,178.4 319.4,178.1 325.5,177.7 331.6,177.2 337.7,176.7 343.8,176.1 350.0,175.4 356.1,174.6 362.2,173.8" fill="none" stroke="#ff00ff" stroke-width="1.95" stroke-linejoin="round"/>
<polyline points="209.2,270.7 210.7,265.5 212.3,258.9 213.8,250.2 215.3,241.1 216.8,233.5 218.4,226.5 219.9,220.1 221.4,214.1 223.0,208.1 224.5,204.4 226.0,201.5 227.6,199.0 230.6,195.3 233.7,192.9 236.7,191.0 239.8,189.4 242.9,188.1 245.9,187.0 249.0,186.0 252.0,185.1 255.1,184.3 258.2,183.6 261.2,182.9 264.3,182.3 267.3,181.8 270.4,181.4 276.5,180.8 282.6,180.4 288.8,180.0 294.9,179.7 301.0,179.3 307.1,179.0 313.2,178.6 319.4,178.3 325.5,177.9 331.6,177.4 337.7,176.9 343.8,176.3 350.0,175.6 356.1,174.8 362.2,174.0" fill="none" stroke="#00ffff" stroke-width="1.95" stroke-dasharray="6.5,2.8,0.8,2.8" stroke-linejoin="round"/>
<polyline points="209.2,270.7 210.7,265.6 212.3,259.0 213.8,250.4 215.3,241.4 216.8,233.9 218.4,227.1 219.9,220.7 221.4,214.9 223.0,209.4 224.5,205.9 226.0,202.9 227.6,200.4 230.6,196.5 233.7,194.0 236.7,192.1 239.8,190.7 242.9,189.4 245.9,188.3 249.0,187.4 252.0,186.6 255.1,185.9 258.2,185.2 261.2,184.6 264.3,184.0 267.3,183.6 270.4,183.2 276.5,182.7 282.6,182.2 288.8,181.9 294.9,181.5 301.0,181.2 307.1,180.9 313.2,180.6 319.4,180.3 325.5,180.0 331.6,179.6 337.7,179.1 343.8,178.6 350.0,178.0 356.1,177.4 362.2,176.7" fill="none" stroke="#808080" stroke-width="1.95" stroke-dasharray="1.6,2.0" stroke-linejoin="round"/>
<polyline points="209.2,270.7 210.7,265.6 212.3,259.1 213.8,250.5 215.3,241.5 216.8,234.1 218.4,227.3 219.9,220.9 221.4,215.2 223.0,209.9 224.5,206.4 226.0,203.4 227.6,200.9 230.6,197.0 233.7,194.5 236.7,192.6 239.8,191.1 242.9,189.9 245.9,188.8 249.0,187.9 252.0,187.1 255.1,186.4 258.2,185.8 261.2,185.2 264.3,184.7 267.3,184.2 270.4,183.9 276.5,183.4 282.6,182.9 288.8,182.6 294.9,182.2 301.0,181.9 307.1,181.6 313.2,181.3 319.4,181.0 325.5,180.7 331.6,180.4 337.7,179.9 343.8,179.5 350.0,178.9 356.1,178.3 362.2,177.7" fill="none" stroke="#880015" stroke-width="1.95" stroke-dasharray="6,3" stroke-linejoin="round"/>
<polyline points="209.2,270.7 210.7,266.9 212.3,262.2 213.8,256.5 215.3,250.4 216.8,244.7 218.4,239.5 219.9,234.9 221.4,230.7 223.0,226.7 224.5,222.6 226.0,218.8 227.6,215.9 230.6,211.7 233.7,207.4 236.7,202.0 239.8,198.0 242.9,195.8 245.9,194.1 249.0,192.8 252.0,191.6 255.1,190.4 258.2,189.2 261.2,188.1 264.3,187.0 267.3,186.2 270.4,185.6 276.5,184.9 282.6,184.4 288.8,184.0 294.9,183.7 301.0,183.4 307.1,183.1 313.2,182.8 319.4,182.6 325.5,182.3 331.6,182.1 337.7,181.9 343.8,181.7 350.0,181.5 356.1,181.4 362.2,181.4" fill="none" stroke="#ff7f27" stroke-width="1.95" stroke-linejoin="round"/>
<polyline points="209.2,270.7 210.7,265.8 212.3,259.5 213.8,251.0 215.3,242.2 216.8,235.1 218.4,228.7 219.9,222.2 221.4,217.1 223.0,213.2 224.5,210.0 226.0,207.0 227.6,204.2 230.6,199.9 233.7,197.4 236.7,195.5 239.8,194.1 242.9,193.0 245.9,192.1 249.0,191.3 252.0,190.7 255.1,190.2 258.2,189.7 261.2,189.4 264.3,189.0 267.3,188.7 270.4,188.5 276.5,188.0 282.6,187.5 288.8,187.1 294.9,186.8 301.0,186.5 307.1,186.3 313.2,186.2 319.4,186.0 325.5,185.8 331.6,185.6 337.7,185.4 343.8,185.2 350.0,184.9 356.1,184.7 362.2,184.4" fill="none" stroke="#00a2e8" stroke-width="1.95" stroke-dasharray="6.5,2.8,0.8,2.8" stroke-linejoin="round"/>
<polyline points="209.2,270.7 210.7,265.8 212.3,259.5 213.8,251.1 215.3,242.4 216.8,235.3 218.4,228.9 219.9,222.4 221.4,217.4 223.0,213.8 224.5,210.7 226.0,207.7 227.6,204.8 230.6,200.4 233.7,197.9 236.7,196.0 239.8,194.7 242.9,193.6 245.9,192.7 249.0,191.9 252.0,191.3 255.1,190.9 258.2,190.5 261.2,190.1 264.3,189.8 267.3,189.6 270.4,189.3 276.5,188.9 282.6,188.4 288.8,188.0 294.9,187.6 301.0,187.4 307.1,187.2 313.2,187.1 319.4,186.9 325.5,186.8 331.6,186.6 337.7,186.4 343.8,186.2 350.0,186.0 356.1,185.8 362.2,185.6" fill="none" stroke="#a349a4" stroke-width="1.95" stroke-dasharray="1.6,2.0" stroke-linejoin="round"/>
<polyline points="209.2,270.7 210.7,266.0 212.3,260.5 213.8,253.9 215.3,247.0 216.8,240.4 218.4,234.5 219.9,229.8 221.4,225.7 223.0,221.7 224.5,217.7 226.0,213.9 227.6,210.8 230.6,205.7 233.7,201.8 236.7,198.4 239.8,196.1 242.9,194.8 245.9,193.8 249.0,193.0 252.0,192.3 255.1,191.8 258.2,191.3 261.2,190.9 264.3,190.6 267.3,190.3 270.4,190.0 276.5,189.4 282.6,188.9 288.8,188.4 294.9,188.0 301.0,187.6 307.1,187.4 313.2,187.1 319.4,186.9 325.5,186.7 331.6,186.5 337.7,186.3 343.8,186.1 350.0,186.0 356.1,186.0 362.2,185.9" fill="none" stroke="#ffc90e" stroke-width="1.95" stroke-dasharray="6,3" stroke-linejoin="round"/>
<polyline points="209.2,270.7 210.7,265.9 212.3,259.7 213.8,251.4 215.3,242.7 216.8,235.9 218.4,229.6 219.9,223.1 221.4,218.3 223.0,215.4 224.5,212.5 226.0,209.4 227.6,206.4 230.6,201.8 233.7,199.3 236.7,197.4 239.8,196.1 242.9,195.1 245.9,194.3 249.0,193.6 252.0,193.0 255.1,192.7 258.2,192.4 261.2,192.1 264.3,191.9 267.3,191.7 270.4,191.5 276.5,191.1 282.6,190.6 288.8,190.2 294.9,189.8 301.0,189.6 307.1,189.5 313.2,189.4 319.4,189.3 325.5,189.2 331.6,189.2 337.7,189.1 343.8,189.0 350.0,188.9 356.1,188.9 362.2,188.8" fill="none" stroke="#253d3d" stroke-width="1.95" stroke-linejoin="round"/>
<polyline points="209.2,270.7 210.7,266.1 212.3,260.6 213.8,254.0 215.3,247.2 216.8,241.5 218.4,236.4 219.9,231.8 221.4,227.9 223.0,224.6 224.5,221.7 226.0,219.0 227.6,216.7 230.6,213.1 233.7,210.4 236.7,208.3 239.8,206.5 242.9,205.0 245.9,203.7 249.0,202.6 252.0,201.9 255.1,201.3 258.2,200.8 261.2,200.3 264.3,199.9 267.3,199.6 270.4,199.3 276.5,198.9 282.6,198.5 288.8,198.1 294.9,197.8 301.0,197.6 307.1,197.3 313.2,197.1 319.4,196.9 325.5,196.7 331.6,196.4 337.7,196.2 343.8,195.9 350.0,195.7 356.1,195.4 362.2,195.1" fill="none" stroke="#f4a7b9" stroke-width="1.5" stroke-dasharray="1.4,2.2" stroke-linejoin="round"/>
</g>
<rect x="209.20" y="160.50" width="153.00" height="118.70" fill="none" stroke="#bdbdbd" stroke-width="0.8"/>
<line x1="209.20" y1="279.20" x2="209.20" y2="277.70" stroke="#999" stroke-width="0.7"/>
<line x1="209.20" y1="160.50" x2="209.20" y2="162.00" stroke="#999" stroke-width="0.7"/>
<text x="209.20" y="286.40" text-anchor="middle" class="tk">0</text>
<line x1="239.80" y1="279.20" x2="239.80" y2="277.70" stroke="#999" stroke-width="0.7"/>
<line x1="239.80" y1="160.50" x2="239.80" y2="162.00" stroke="#999" stroke-width="0.7"/>
<text x="239.80" y="286.40" text-anchor="middle" class="tk">10</text>
<line x1="270.40" y1="279.20" x2="270.40" y2="277.70" stroke="#999" stroke-width="0.7"/>
<line x1="270.40" y1="160.50" x2="270.40" y2="162.00" stroke="#999" stroke-width="0.7"/>
<text x="270.40" y="286.40" text-anchor="middle" class="tk">20</text>
<line x1="301.00" y1="279.20" x2="301.00" y2="277.70" stroke="#999" stroke-width="0.7"/>
<line x1="301.00" y1="160.50" x2="301.00" y2="162.00" stroke="#999" stroke-width="0.7"/>
<text x="301.00" y="286.40" text-anchor="middle" class="tk">30</text>
<line x1="331.60" y1="279.20" x2="331.60" y2="277.70" stroke="#999" stroke-width="0.7"/>
<line x1="331.60" y1="160.50" x2="331.60" y2="162.00" stroke="#999" stroke-width="0.7"/>
<text x="331.60" y="286.40" text-anchor="middle" class="tk">40</text>
<line x1="362.20" y1="279.20" x2="362.20" y2="277.70" stroke="#999" stroke-width="0.7"/>
<line x1="362.20" y1="160.50" x2="362.20" y2="162.00" stroke="#999" stroke-width="0.7"/>
<text x="362.20" y="286.40" text-anchor="middle" class="tk">50</text>
<line x1="209.20" y1="279.20" x2="210.70" y2="279.20" stroke="#999" stroke-width="0.7"/>
<line x1="362.20" y1="279.20" x2="360.70" y2="279.20" stroke="#999" stroke-width="0.7"/>
<text x="207.80" y="281.20" text-anchor="end" class="tk">0</text>
<line x1="209.20" y1="262.24" x2="210.70" y2="262.24" stroke="#999" stroke-width="0.7"/>
<line x1="362.20" y1="262.24" x2="360.70" y2="262.24" stroke="#999" stroke-width="0.7"/>
<text x="207.80" y="264.24" text-anchor="end" class="tk">0.1</text>
<line x1="209.20" y1="245.29" x2="210.70" y2="245.29" stroke="#999" stroke-width="0.7"/>
<line x1="362.20" y1="245.29" x2="360.70" y2="245.29" stroke="#999" stroke-width="0.7"/>
<text x="207.80" y="247.29" text-anchor="end" class="tk">0.2</text>
<line x1="209.20" y1="228.33" x2="210.70" y2="228.33" stroke="#999" stroke-width="0.7"/>
<line x1="362.20" y1="228.33" x2="360.70" y2="228.33" stroke="#999" stroke-width="0.7"/>
<text x="207.80" y="230.33" text-anchor="end" class="tk">0.3</text>
<line x1="209.20" y1="211.37" x2="210.70" y2="211.37" stroke="#999" stroke-width="0.7"/>
<line x1="362.20" y1="211.37" x2="360.70" y2="211.37" stroke="#999" stroke-width="0.7"/>
<text x="207.80" y="213.37" text-anchor="end" class="tk">0.4</text>
<line x1="209.20" y1="194.41" x2="210.70" y2="194.41" stroke="#999" stroke-width="0.7"/>
<line x1="362.20" y1="194.41" x2="360.70" y2="194.41" stroke="#999" stroke-width="0.7"/>
<text x="207.80" y="196.41" text-anchor="end" class="tk">0.5</text>
<line x1="209.20" y1="177.46" x2="210.70" y2="177.46" stroke="#999" stroke-width="0.7"/>
<line x1="362.20" y1="177.46" x2="360.70" y2="177.46" stroke="#999" stroke-width="0.7"/>
<text x="207.80" y="179.46" text-anchor="end" class="tk">0.6</text>
<line x1="209.20" y1="160.50" x2="210.70" y2="160.50" stroke="#999" stroke-width="0.7"/>
<line x1="362.20" y1="160.50" x2="360.70" y2="160.50" stroke="#999" stroke-width="0.7"/>
<text x="207.80" y="162.50" text-anchor="end" class="tk">0.7</text>
<text x="286.30" y="157.70" text-anchor="middle" class="ti">Precision plots of OPE - Background Clutter (21)</text>
<text x="285.70" y="295.40" text-anchor="middle" class="lb">Location error threshold</text>
<text x="0" y="0" transform="translate(197.90,219.85) rotate(-90)" text-anchor="middle" class="lb">Precision</text>
<rect x="303.30" y="164.50" width="55.10" height="86.00" fill="#fff" stroke="#c8c8c8" stroke-width="0.6"/>
<line x1="304.60" y1="167.90" x2="318.50" y2="167.90" stroke="#ff0000" stroke-width="1.9"/>
<text x="320.20" y="169.90" class="lg">DRCF [0.591]</text>
<line x1="304.60" y1="173.98" x2="312.10" y2="173.98" stroke="#00ff00" stroke-width="1.9"/>
<text x="320.20" y="175.98" class="lg">CSR-DCF [0.591]</text>
<rect x="304.95" y="179.21" width="1.7" height="1.7" fill="#0000ff"/>
<rect x="308.40" y="179.21" width="1.7" height="1.7" fill="#0000ff"/>
<rect x="311.85" y="179.21" width="1.7" height="1.7" fill="#0000ff"/>
<rect x="315.30" y="179.21" width="1.7" height="1.7" fill="#0000ff"/>
<text x="320.20" y="182.06" class="lg">OURS [0.590]</text>
<line x1="304.60" y1="186.14" x2="311.40" y2="186.14" stroke="#000000" stroke-width="1.9"/>
<line x1="314.10" y1="186.14" x2="316.90" y2="186.14" stroke="#000000" stroke-width="1.9"/>
<text x="320.20" y="188.14" class="lg">AutoTrack [0.584]</text>
<line x1="304.60" y1="192.22" x2="318.50" y2="192.22" stroke="#ff00ff" stroke-width="1.9"/>
<text x="320.20" y="194.22" class="lg">IBRI [0.578]</text>
<line x1="304.60" y1="198.30" x2="312.10" y2="198.30" stroke="#00ffff" stroke-width="1.9"/>
<text x="320.20" y="200.30" class="lg">MSCF [0.577]</text>
<rect x="304.95" y="203.53" width="1.7" height="1.7" fill="#808080"/>
<rect x="308.40" y="203.53" width="1.7" height="1.7" fill="#808080"/>
<rect x="311.85" y="203.53" width="1.7" height="1.7" fill="#808080"/>
<rect x="315.30" y="203.53" width="1.7" height="1.7" fill="#808080"/>
<text x="320.20" y="206.38" class="lg">EMCF [0.566]</text>
<line x1="304.60" y1="210.46" x2="311.40" y2="210.46" stroke="#880015" stroke-width="1.9"/>
<line x1="314.10" y1="210.46" x2="316.90" y2="210.46" stroke="#880015" stroke-width="1.9"/>
<text x="320.20" y="212.46" class="lg">ReCF [0.562]</text>
<line x1="304.60" y1="216.54" x2="318.50" y2="216.54" stroke="#ff7f27" stroke-width="1.9"/>
<text x="320.20" y="218.54" class="lg">ARCF-HC [0.552]</text>
<line x1="304.60" y1="222.62" x2="312.10" y2="222.62" stroke="#00a2e8" stroke-width="1.9"/>
<text x="320.20" y="224.62" class="lg">Staple-CA [0.535]</text>
<rect x="304.95" y="227.85" width="1.7" height="1.7" fill="#a349a4"/>
<rect x="308.40" y="227.85" width="1.7" height="1.7" fill="#a349a4"/>
<rect x="311.85" y="227.85" width="1.7" height="1.7" fill="#a349a4"/>
<rect x="315.30" y="227.85" width="1.7" height="1.7" fill="#a349a4"/>
<text x="320.20" y="230.70" class="lg">Staple-MF [0.530]</text>
<line x1="304.60" y1="234.78" x2="311.40" y2="234.78" stroke="#ffc90e" stroke-width="1.9"/>
<line x1="314.10" y1="234.78" x2="316.90" y2="234.78" stroke="#ffc90e" stroke-width="1.9"/>
<text x="320.20" y="236.78" class="lg">SRDCF [0.526]</text>
<line x1="304.60" y1="240.86" x2="318.50" y2="240.86" stroke="#253d3d" stroke-width="1.9"/>
<text x="320.20" y="242.86" class="lg">Staple [0.517]</text>
<rect x="304.95" y="246.09" width="1.7" height="1.7" fill="#f4a7b9"/>
<rect x="308.40" y="246.09" width="1.7" height="1.7" fill="#f4a7b9"/>
<rect x="311.85" y="246.09" width="1.7" height="1.7" fill="#f4a7b9"/>
<rect x="315.30" y="246.09" width="1.7" height="1.7" fill="#f4a7b9"/>
<text x="320.20" y="248.94" class="lg">SAMF [0.471]</text>
<g clip-path="url(#c5)">
<polyline points="392.7,271.8 394.2,266.2 395.8,260.0 397.3,252.7 398.8,245.2 400.3,238.3 401.9,231.9 403.4,226.3 404.9,221.6 406.5,217.7 408.0,214.4 409.5,211.5 411.1,209.2 414.1,205.5 417.2,202.4 420.2,199.0 423.3,195.5 426.4,192.0 429.4,188.2 432.5,184.2 435.5,181.4 438.6,179.5 441.7,178.1 444.7,177.1 447.8,176.3 450.8,175.6 453.9,174.9 460.0,173.7 466.1,172.6 472.3,171.5 478.4,170.3 484.5,169.2 490.6,168.5 496.7,167.8 502.9,167.2 509.0,166.7 515.1,166.3 521.2,165.9 527.3,165.5 533.5,165.1 539.6,164.9 545.7,164.6" fill="none" stroke="#ff0000" stroke-width="2.2" stroke-linejoin="round"/>
<polyline points="392.7,271.8 394.2,266.5 395.8,260.4 397.3,253.3 398.8,245.9 400.3,239.1 401.9,232.9 403.4,227.5 404.9,223.0 406.5,219.3 408.0,215.9 409.5,213.1 411.1,210.8 414.1,207.2 417.2,204.0 420.2,200.8 423.3,197.5 426.4,194.2 429.4,190.5 432.5,186.5 435.5,183.7 438.6,181.7 441.7,180.3 444.7,179.1 447.8,178.2 450.8,177.4 453.9,176.7 460.0,175.4 466.1,174.2 472.3,173.1 478.4,172.0 484.5,171.0 490.6,170.3 496.7,169.6 502.9,169.1 509.0,168.6 515.1,168.2 521.2,167.9 527.3,167.5 533.5,167.2 539.6,167.0 545.7,166.8" fill="none" stroke="#00ff00" stroke-width="1.95" stroke-dasharray="6.5,2.8,0.8,2.8" stroke-linejoin="round"/>
<polyline points="392.7,271.8 394.2,266.7 395.8,260.8 397.3,253.8 398.8,246.4 400.3,239.7 401.9,233.6 403.4,228.4 404.9,224.1 406.5,220.4 408.0,217.1 409.5,214.4 411.1,212.1 414.1,208.4 417.2,205.3 420.2,202.1 423.3,199.0 426.4,195.8 429.4,192.2 432.5,188.3 435.5,185.4 438.6,183.4 441.7,181.9 444.7,180.7 447.8,179.7 450.8,178.8 453.9,178.0 460.0,176.6 466.1,175.4 472.3,174.3 478.4,173.2 484.5,172.3 490.6,171.6 496.7,171.0 502.9,170.5 509.0,170.1 515.1,169.7 521.2,169.4 527.3,169.1 533.5,168.8 539.6,168.5 545.7,168.4" fill="none" stroke="#0000ff" stroke-width="1.95" stroke-dasharray="1.6,2.0" stroke-linejoin="round"/>
<polyline points="392.7,271.8 394.2,266.7 395.8,260.8 397.3,253.8 398.8,246.4 400.3,239.7 401.9,233.6 403.4,228.4 404.9,224.1 406.5,220.4 408.0,217.1 409.5,214.4 411.1,212.1 414.1,208.4 417.2,205.3 420.2,202.1 423.3,199.0 426.4,195.8 429.4,192.2 432.5,188.3 435.5,185.4 438.6,183.4 441.7,181.9 444.7,180.7 447.8,179.7 450.8,178.8 453.9,178.0 460.0,176.6 466.1,175.4 472.3,174.3 478.4,173.2 484.5,172.3 490.6,171.6 496.7,171.0 502.9,170.5 509.0,170.1 515.1,169.7 521.2,169.4 527.3,169.1 533.5,168.8 539.6,168.5 545.7,168.4" fill="none" stroke="#000000" stroke-width="1.95" stroke-dasharray="6,3" stroke-linejoin="round"/>
<polyline points="392.7,271.8 394.2,266.8 395.8,261.0 397.3,254.0 398.8,246.7 400.3,239.9 401.9,233.9 403.4,228.8 404.9,224.5 406.5,220.9 408.0,217.7 409.5,214.9 411.1,212.6 414.1,209.0 417.2,205.8 420.2,202.7 423.3,199.6 426.4,196.6 429.4,193.0 432.5,189.1 435.5,186.2 438.6,184.2 441.7,182.6 444.7,181.4 447.8,180.3 450.8,179.4 453.9,178.6 460.0,177.2 466.1,176.0 472.3,174.8 478.4,173.7 484.5,172.8 490.6,172.2 496.7,171.6 502.9,171.2 509.0,170.8 515.1,170.4 521.2,170.1 527.3,169.8 533.5,169.5 539.6,169.3 545.7,169.1" fill="none" stroke="#ff00ff" stroke-width="1.95" stroke-linejoin="round"/>
<polyline points="392.7,271.8 394.2,266.8 395.8,261.0 397.3,254.0 398.8,246.7 400.3,239.9 401.9,233.9 403.4,228.8 404.9,224.5 406.5,220.9 408.0,217.7 409.5,214.9 411.1,212.6 414.1,209.0 417.2,205.8 420.2,202.7 423.3,199.6 426.4,196.6 429.4,193.0 432.5,189.1 435.5,186.2 438.6,184.2 441.7,182.6 444.7,181.4 447.8,180.3 450.8,179.4 453.9,178.6 460.0,177.2 466.1,176.0 472.3,174.8 478.4,173.7 484.5,172.8 490.6,172.2 496.7,171.6 502.9,171.2 509.0,170.8 515.1,170.4 521.2,170.1 527.3,169.8 533.5,169.5 539.6,169.3 545.7,169.1" fill="none" stroke="#00ffff" stroke-width="1.95" stroke-dasharray="6.5,2.8,0.8,2.8" stroke-linejoin="round"/>
<polyline points="392.7,271.8 394.2,266.8 395.8,261.0 397.3,254.0 398.8,246.7 400.3,240.0 401.9,233.9 403.4,228.9 404.9,224.6 406.5,221.0 408.0,217.8 409.5,215.0 411.1,212.8 414.1,209.1 417.2,206.0 420.2,202.8 423.3,199.8 426.4,196.7 429.4,193.2 432.5,189.3 435.5,186.4 438.6,184.4 441.7,182.8 444.7,181.5 447.8,180.5 450.8,179.6 453.9,178.8 460.0,177.3 466.1,176.1 472.3,174.9 478.4,173.9 484.5,173.0 490.6,172.3 496.7,171.8 502.9,171.3 509.0,170.9 515.1,170.6 521.2,170.2 527.3,169.9 533.5,169.7 539.6,169.4 545.7,169.2" fill="none" stroke="#808080" stroke-width="1.95" stroke-dasharray="1.6,2.0" stroke-linejoin="round"/>
<polyline points="392.7,271.8 394.2,265.3 395.8,258.5 397.3,251.1 398.8,243.7 400.3,236.7 401.9,230.4 403.4,224.8 404.9,220.0 406.5,215.9 408.0,212.2 409.5,209.2 411.1,207.0 414.1,203.7 417.2,201.1 420.2,198.6 423.3,196.3 426.4,194.1 429.4,191.7 432.5,189.1 435.5,187.0 438.6,185.2 441.7,183.6 444.7,182.2 447.8,180.9 450.8,179.8 453.9,178.8 460.0,177.0 466.1,175.4 472.3,173.9 478.4,172.5 484.5,171.4 490.6,170.6 496.7,169.9 502.9,169.3 509.0,168.7 515.1,168.3 521.2,167.9 527.3,167.6 533.5,167.2 539.6,167.0 545.7,166.8" fill="none" stroke="#880015" stroke-width="1.95" stroke-dasharray="6,3" stroke-linejoin="round"/>
<polyline points="392.7,271.8 394.2,266.8 395.8,261.0 397.3,254.1 398.8,246.8 400.3,240.1 401.9,234.0 403.4,229.0 404.9,224.8 406.5,221.1 408.0,217.9 409.5,215.2 411.1,212.9 414.1,209.2 417.2,206.1 420.2,203.0 423.3,200.0 426.4,196.9 429.4,193.4 432.5,189.5 435.5,186.6 438.6,184.6 441.7,183.0 444.7,181.7 447.8,180.6 450.8,179.7 453.9,178.9 460.0,177.5 466.1,176.2 472.3,175.1 478.4,174.0 484.5,173.1 490.6,172.5 496.7,171.9 502.9,171.5 509.0,171.1 515.1,170.7 521.2,170.4 527.3,170.1 533.5,169.8 539.6,169.6 545.7,169.4" fill="none" stroke="#ff7f27" stroke-width="1.95" stroke-linejoin="round"/>
<polyline points="392.7,271.8 394.2,266.9 395.8,261.2 397.3,254.3 398.8,247.0 400.3,240.3 401.9,234.3 403.4,229.4 404.9,225.2 406.5,221.6 408.0,218.4 409.5,215.7 411.1,213.5 414.1,209.8 417.2,206.7 420.2,203.6 423.3,200.6 426.4,197.7 429.4,194.1 432.5,190.2 435.5,187.4 438.6,185.3 441.7,183.7 444.7,182.4 447.8,181.3 450.8,180.3 453.9,179.5 460.0,178.1 466.1,176.8 472.3,175.6 478.4,174.6 484.5,173.7 490.6,173.1 496.7,172.6 502.9,172.1 509.0,171.7 515.1,171.4 521.2,171.1 527.3,170.8 533.5,170.5 539.6,170.3 545.7,170.1" fill="none" stroke="#00a2e8" stroke-width="1.95" stroke-dasharray="6.5,2.8,0.8,2.8" stroke-linejoin="round"/>
<polyline points="392.7,271.8 394.2,266.9 395.8,261.3 397.3,254.4 398.8,247.1 400.3,240.5 401.9,234.5 403.4,229.6 404.9,225.5 406.5,221.9 408.0,218.7 409.5,216.0 411.1,213.7 414.1,210.1 417.2,206.9 420.2,203.9 423.3,201.0 426.4,198.0 429.4,194.5 432.5,190.6 435.5,187.7 438.6,185.7 441.7,184.1 444.7,182.7 447.8,181.6 450.8,180.6 453.9,179.8 460.0,178.3 466.1,177.1 472.3,175.9 478.4,174.8 484.5,174.0 490.6,173.4 496.7,172.9 502.9,172.4 509.0,172.1 515.1,171.7 521.2,171.4 527.3,171.1 533.5,170.9 539.6,170.7 545.7,170.5" fill="none" stroke="#a349a4" stroke-width="1.95" stroke-dasharray="1.6,2.0" stroke-linejoin="round"/>
<polyline points="392.7,271.8 394.2,267.0 395.8,261.4 397.3,254.5 398.8,247.3 400.3,240.7 401.9,234.7 403.4,229.9 404.9,225.8 406.5,222.3 408.0,219.1 409.5,216.4 411.1,214.1 414.1,210.5 417.2,207.4 420.2,204.3 423.3,201.5 426.4,198.6 429.4,195.1 432.5,191.2 435.5,188.3 438.6,186.3 441.7,184.6 444.7,183.3 447.8,182.1 450.8,181.1 453.9,180.2 460.0,178.8 466.1,177.5 472.3,176.3 478.4,175.2 484.5,174.4 490.6,173.8 496.7,173.3 502.9,172.9 509.0,172.5 515.1,172.2 521.2,171.9 527.3,171.6 533.5,171.4 539.6,171.2 545.7,171.0" fill="none" stroke="#ffc90e" stroke-width="1.95" stroke-dasharray="6,3" stroke-linejoin="round"/>
<polyline points="392.7,271.8 394.2,267.0 395.8,261.4 397.3,254.6 398.8,247.4 400.3,240.7 401.9,234.8 403.4,230.0 404.9,225.9 406.5,222.4 408.0,219.2 409.5,216.5 411.1,214.3 414.1,210.6 417.2,207.5 420.2,204.5 423.3,201.6 426.4,198.8 429.4,195.3 432.5,191.4 435.5,188.5 438.6,186.5 441.7,184.8 444.7,183.4 447.8,182.3 450.8,181.3 453.9,180.4 460.0,178.9 466.1,177.6 472.3,176.4 478.4,175.4 484.5,174.6 490.6,174.0 496.7,173.5 502.9,173.1 509.0,172.7 515.1,172.4 521.2,172.1 527.3,171.8 533.5,171.6 539.6,171.4 545.7,171.2" fill="none" stroke="#253d3d" stroke-width="1.95" stroke-linejoin="round"/>
<polyline points="392.7,271.8 394.2,267.4 395.8,262.2 397.3,255.8 398.8,248.9 400.3,242.4 401.9,236.4 403.4,231.7 404.9,227.6 406.5,223.9 408.0,220.4 409.5,217.5 411.1,215.3 414.1,211.8 417.2,209.0 420.2,206.1 423.3,203.3 426.4,200.5 429.4,197.4 432.5,194.1 435.5,191.8 438.6,190.1 441.7,188.7 444.7,187.5 447.8,186.5 450.8,185.8 453.9,185.3 460.0,184.3 466.1,183.2 472.3,182.0 478.4,180.9 484.5,179.9 490.6,179.0 496.7,178.2 502.9,177.4 509.0,176.7 515.1,176.0 521.2,175.5 527.3,175.0 533.5,174.5 539.6,174.1 545.7,173.8" fill="none" stroke="#f4a7b9" stroke-width="1.5" stroke-dasharray="1.4,2.2" stroke-linejoin="round"/>
</g>
<rect x="392.70" y="160.50" width="153.00" height="118.70" fill="none" stroke="#bdbdbd" stroke-width="0.8"/>
<line x1="392.70" y1="279.20" x2="392.70" y2="277.70" stroke="#999" stroke-width="0.7"/>
<line x1="392.70" y1="160.50" x2="392.70" y2="162.00" stroke="#999" stroke-width="0.7"/>
<text x="392.70" y="286.40" text-anchor="middle" class="tk">0</text>
<line x1="423.30" y1="279.20" x2="423.30" y2="277.70" stroke="#999" stroke-width="0.7"/>
<line x1="423.30" y1="160.50" x2="423.30" y2="162.00" stroke="#999" stroke-width="0.7"/>
<text x="423.30" y="286.40" text-anchor="middle" class="tk">10</text>
<line x1="453.90" y1="279.20" x2="453.90" y2="277.70" stroke="#999" stroke-width="0.7"/>
<line x1="453.90" y1="160.50" x2="453.90" y2="162.00" stroke="#999" stroke-width="0.7"/>
<text x="453.90" y="286.40" text-anchor="middle" class="tk">20</text>
<line x1="484.50" y1="279.20" x2="484.50" y2="277.70" stroke="#999" stroke-width="0.7"/>
<line x1="484.50" y1="160.50" x2="484.50" y2="162.00" stroke="#999" stroke-width="0.7"/>
<text x="484.50" y="286.40" text-anchor="middle" class="tk">30</text>
<line x1="515.10" y1="279.20" x2="515.10" y2="277.70" stroke="#999" stroke-width="0.7"/>
<line x1="515.10" y1="160.50" x2="515.10" y2="162.00" stroke="#999" stroke-width="0.7"/>
<text x="515.10" y="286.40" text-anchor="middle" class="tk">40</text>
<line x1="545.70" y1="279.20" x2="545.70" y2="277.70" stroke="#999" stroke-width="0.7"/>
<line x1="545.70" y1="160.50" x2="545.70" y2="162.00" stroke="#999" stroke-width="0.7"/>
<text x="545.70" y="286.40" text-anchor="middle" class="tk">50</text>
<line x1="392.70" y1="279.20" x2="394.20" y2="279.20" stroke="#999" stroke-width="0.7"/>
<line x1="545.70" y1="279.20" x2="544.20" y2="279.20" stroke="#999" stroke-width="0.7"/>
<text x="391.30" y="281.20" text-anchor="end" class="tk">0</text>
<line x1="392.70" y1="264.36" x2="394.20" y2="264.36" stroke="#999" stroke-width="0.7"/>
<line x1="545.70" y1="264.36" x2="544.20" y2="264.36" stroke="#999" stroke-width="0.7"/>
<text x="391.30" y="266.36" text-anchor="end" class="tk">0.1</text>
<line x1="392.70" y1="249.52" x2="394.20" y2="249.52" stroke="#999" stroke-width="0.7"/>
<line x1="545.70" y1="249.52" x2="544.20" y2="249.52" stroke="#999" stroke-width="0.7"/>
<text x="391.30" y="251.52" text-anchor="end" class="tk">0.2</text>
<line x1="392.70" y1="234.69" x2="394.20" y2="234.69" stroke="#999" stroke-width="0.7"/>
<line x1="545.70" y1="234.69" x2="544.20" y2="234.69" stroke="#999" stroke-width="0.7"/>
<text x="391.30" y="236.69" text-anchor="end" class="tk">0.3</text>
<line x1="392.70" y1="219.85" x2="394.20" y2="219.85" stroke="#999" stroke-width="0.7"/>
<line x1="545.70" y1="219.85" x2="544.20" y2="219.85" stroke="#999" stroke-width="0.7"/>
<text x="391.30" y="221.85" text-anchor="end" class="tk">0.4</text>
<line x1="392.70" y1="205.01" x2="394.20" y2="205.01" stroke="#999" stroke-width="0.7"/>
<line x1="545.70" y1="205.01" x2="544.20" y2="205.01" stroke="#999" stroke-width="0.7"/>
<text x="391.30" y="207.01" text-anchor="end" class="tk">0.5</text>
<line x1="392.70" y1="190.18" x2="394.20" y2="190.18" stroke="#999" stroke-width="0.7"/>
<line x1="545.70" y1="190.18" x2="544.20" y2="190.18" stroke="#999" stroke-width="0.7"/>
<text x="391.30" y="192.18" text-anchor="end" class="tk">0.6</text>
<line x1="392.70" y1="175.34" x2="394.20" y2="175.34" stroke="#999" stroke-width="0.7"/>
<line x1="545.70" y1="175.34" x2="544.20" y2="175.34" stroke="#999" stroke-width="0.7"/>
<text x="391.30" y="177.34" text-anchor="end" class="tk">0.7</text>
<line x1="392.70" y1="160.50" x2="394.20" y2="160.50" stroke="#999" stroke-width="0.7"/>
<line x1="545.70" y1="160.50" x2="544.20" y2="160.50" stroke="#999" stroke-width="0.7"/>
<text x="391.30" y="162.50" text-anchor="end" class="tk">0.8</text>
<text x="469.80" y="157.70" text-anchor="middle" class="ti">Precision plots of OPE - Similar Object (39)</text>
<text x="469.20" y="295.40" text-anchor="middle" class="lb">Location error threshold</text>
<text x="0" y="0" transform="translate(381.40,219.85) rotate(-90)" text-anchor="middle" class="lb">Precision</text>
<rect x="486.80" y="164.50" width="55.10" height="86.00" fill="#fff" stroke="#c8c8c8" stroke-width="0.6"/>
<line x1="488.10" y1="167.90" x2="502.00" y2="167.90" stroke="#ff0000" stroke-width="1.9"/>
<text x="503.70" y="169.90" class="lg">MSCF [0.703]</text>
<line x1="488.10" y1="173.98" x2="495.60" y2="173.98" stroke="#00ff00" stroke-width="1.9"/>
<text x="503.70" y="175.98" class="lg">DRCF [0.691]</text>
<rect x="488.45" y="179.21" width="1.7" height="1.7" fill="#0000ff"/>
<rect x="491.90" y="179.21" width="1.7" height="1.7" fill="#0000ff"/>
<rect x="495.35" y="179.21" width="1.7" height="1.7" fill="#0000ff"/>
<rect x="498.80" y="179.21" width="1.7" height="1.7" fill="#0000ff"/>
<text x="503.70" y="182.06" class="lg">ARCF-HC [0.682]</text>
<line x1="488.10" y1="186.14" x2="494.90" y2="186.14" stroke="#000000" stroke-width="1.9"/>
<line x1="497.60" y1="186.14" x2="500.40" y2="186.14" stroke="#000000" stroke-width="1.9"/>
<text x="503.70" y="188.14" class="lg">OURS [0.682]</text>
<line x1="488.10" y1="192.22" x2="502.00" y2="192.22" stroke="#ff00ff" stroke-width="1.9"/>
<text x="503.70" y="194.22" class="lg">Staple-CA [0.678]</text>
<line x1="488.10" y1="198.30" x2="495.60" y2="198.30" stroke="#00ffff" stroke-width="1.9"/>
<text x="503.70" y="200.30" class="lg">SRDCF [0.678]</text>
<rect x="488.45" y="203.53" width="1.7" height="1.7" fill="#808080"/>
<rect x="491.90" y="203.53" width="1.7" height="1.7" fill="#808080"/>
<rect x="495.35" y="203.53" width="1.7" height="1.7" fill="#808080"/>
<rect x="498.80" y="203.53" width="1.7" height="1.7" fill="#808080"/>
<text x="503.70" y="206.38" class="lg">ReCF [0.677]</text>
<line x1="488.10" y1="210.46" x2="494.90" y2="210.46" stroke="#880015" stroke-width="1.9"/>
<line x1="497.60" y1="210.46" x2="500.40" y2="210.46" stroke="#880015" stroke-width="1.9"/>
<text x="503.70" y="212.46" class="lg">IBRI [0.677]</text>
<line x1="488.10" y1="216.54" x2="502.00" y2="216.54" stroke="#ff7f27" stroke-width="1.9"/>
<text x="503.70" y="218.54" class="lg">CSR-DCF [0.676]</text>
<line x1="488.10" y1="222.62" x2="495.60" y2="222.62" stroke="#00a2e8" stroke-width="1.9"/>
<text x="503.70" y="224.62" class="lg">Staple-MF [0.672]</text>
<rect x="488.45" y="227.85" width="1.7" height="1.7" fill="#a349a4"/>
<rect x="491.90" y="227.85" width="1.7" height="1.7" fill="#a349a4"/>
<rect x="495.35" y="227.85" width="1.7" height="1.7" fill="#a349a4"/>
<rect x="498.80" y="227.85" width="1.7" height="1.7" fill="#a349a4"/>
<text x="503.70" y="230.70" class="lg">Staple [0.670]</text>
<line x1="488.10" y1="234.78" x2="494.90" y2="234.78" stroke="#ffc90e" stroke-width="1.9"/>
<line x1="497.60" y1="234.78" x2="500.40" y2="234.78" stroke="#ffc90e" stroke-width="1.9"/>
<text x="503.70" y="236.78" class="lg">EMCF [0.667]</text>
<line x1="488.10" y1="240.86" x2="502.00" y2="240.86" stroke="#253d3d" stroke-width="1.9"/>
<text x="503.70" y="242.86" class="lg">AutoTrack [0.666]</text>
<rect x="488.45" y="246.09" width="1.7" height="1.7" fill="#f4a7b9"/>
<rect x="491.90" y="246.09" width="1.7" height="1.7" fill="#f4a7b9"/>
<rect x="495.35" y="246.09" width="1.7" height="1.7" fill="#f4a7b9"/>
<rect x="498.80" y="246.09" width="1.7" height="1.7" fill="#f4a7b9"/>
<text x="503.70" y="248.94" class="lg">SAMF [0.633]</text>
<g clip-path="url(#c6)">
<polyline points="22.3,421.1 23.8,418.6 25.4,415.3 26.9,411.2 28.4,405.8 30.0,400.5 31.5,395.5 33.0,390.5 34.5,385.3 36.1,380.5 37.6,376.8 39.1,373.9 40.7,371.3 43.7,366.2 46.8,361.7 49.8,357.7 52.9,354.0 56.0,350.4 59.0,346.9 62.1,343.5 65.1,339.9 68.2,336.0 71.3,333.5 74.3,331.9 77.4,330.6 80.4,329.6 83.5,328.6 89.6,327.0 95.7,325.9 101.9,325.2 108.0,324.6 114.1,324.1 120.2,323.5 126.3,322.8 132.5,322.1 138.6,321.4 144.7,320.8 150.8,320.2 156.9,319.7 163.1,319.3 169.2,318.8 175.3,318.4" fill="none" stroke="#ff0000" stroke-width="2.2" stroke-linejoin="round"/>
<polyline points="22.3,421.1 23.8,418.4 25.4,414.7 26.9,410.3 28.4,404.6 30.0,398.9 31.5,393.4 33.0,388.2 34.5,382.9 36.1,378.2 37.6,374.8 39.1,372.2 40.7,369.7 43.7,365.0 46.8,361.0 49.8,357.6 52.9,354.4 56.0,351.3 59.0,348.3 62.1,345.2 65.1,341.8 68.2,337.7 71.3,335.0 74.3,333.0 77.4,331.4 80.4,330.1 83.5,329.0 89.6,327.4 95.7,326.1 101.9,324.9 108.0,323.8 114.1,322.8 120.2,322.0 126.3,321.4 132.5,320.8 138.6,320.3 144.7,319.9 150.8,319.5 156.9,319.1 163.1,318.8 169.2,318.6 175.3,318.4" fill="none" stroke="#00ff00" stroke-width="1.95" stroke-dasharray="6.5,2.8,0.8,2.8" stroke-linejoin="round"/>
<polyline points="22.3,421.1 23.8,418.7 25.4,415.4 26.9,411.4 28.4,406.1 30.0,400.9 31.5,396.0 33.0,391.0 34.5,385.9 36.1,381.4 37.6,378.0 39.1,375.3 40.7,372.8 43.7,368.0 46.8,363.8 49.8,360.3 52.9,356.9 56.0,353.5 59.0,350.3 62.1,347.0 65.1,343.6 68.2,339.9 71.3,337.3 74.3,335.5 77.4,334.0 80.4,332.7 83.5,331.7 89.6,330.1 95.7,328.9 101.9,328.1 108.0,327.5 114.1,326.9 120.2,326.3 126.3,325.6 132.5,325.0 138.6,324.4 144.7,323.8 150.8,323.3 156.9,322.8 163.1,322.4 169.2,322.0 175.3,321.6" fill="none" stroke="#0000ff" stroke-width="1.95" stroke-dasharray="1.6,2.0" stroke-linejoin="round"/>
<polyline points="22.3,421.1 23.8,418.7 25.4,415.5 26.9,411.6 28.4,406.4 30.0,401.2 31.5,396.3 33.0,391.5 34.5,386.4 36.1,382.0 37.6,378.8 39.1,376.2 40.7,373.9 43.7,369.3 46.8,365.4 49.8,362.1 52.9,358.9 56.0,355.8 59.0,352.7 62.1,349.5 65.1,346.2 68.2,342.7 71.3,340.0 74.3,338.0 77.4,336.4 80.4,335.0 83.5,333.9 89.6,332.3 95.7,331.1 101.9,330.2 108.0,329.5 114.1,328.9 120.2,328.3 126.3,327.7 132.5,327.1 138.6,326.5 144.7,326.0 150.8,325.5 156.9,325.0 163.1,324.6 169.2,324.3 175.3,323.9" fill="none" stroke="#000000" stroke-width="1.95" stroke-dasharray="6,3" stroke-linejoin="round"/>
<polyline points="22.3,421.1 23.8,418.7 25.4,415.5 26.9,411.6 28.4,406.4 30.0,401.3 31.5,396.4 33.0,391.6 34.5,386.6 36.1,382.2 37.6,379.1 39.1,376.5 40.7,374.2 43.7,369.7 46.8,365.9 49.8,362.7 52.9,359.6 56.0,356.5 59.0,353.5 62.1,350.4 65.1,347.1 68.2,343.6 71.3,340.9 74.3,338.9 77.4,337.2 80.4,335.8 83.5,334.7 89.6,333.0 95.7,331.8 101.9,330.9 108.0,330.2 114.1,329.6 120.2,329.0 126.3,328.4 132.5,327.8 138.6,327.2 144.7,326.7 150.8,326.2 156.9,325.8 163.1,325.4 169.2,325.0 175.3,324.7" fill="none" stroke="#ff00ff" stroke-width="1.95" stroke-linejoin="round"/>
<polyline points="22.3,421.1 23.8,418.7 25.4,415.5 26.9,411.6 28.4,406.5 30.0,401.3 31.5,396.4 33.0,391.6 34.5,386.6 36.1,382.3 37.6,379.1 39.1,376.6 40.7,374.3 43.7,369.8 46.8,366.0 49.8,362.8 52.9,359.8 56.0,356.7 59.0,353.6 62.1,350.5 65.1,347.3 68.2,343.8 71.3,341.1 74.3,339.1 77.4,337.3 80.4,335.9 83.5,334.8 89.6,333.2 95.7,331.9 101.9,331.0 108.0,330.3 114.1,329.7 120.2,329.1 126.3,328.5 132.5,327.9 138.6,327.3 144.7,326.8 150.8,326.4 156.9,325.9 163.1,325.5 169.2,325.2 175.3,324.8" fill="none" stroke="#00ffff" stroke-width="1.95" stroke-dasharray="6.5,2.8,0.8,2.8" stroke-linejoin="round"/>
<polyline points="22.3,421.1 23.8,418.8 25.4,415.6 26.9,411.7 28.4,406.6 30.0,401.5 31.5,396.6 33.0,391.9 34.5,386.9 36.1,382.7 37.6,379.6 39.1,377.2 40.7,375.0 43.7,370.6 46.8,366.9 49.8,363.9 52.9,361.0 56.0,358.0 59.0,355.1 62.1,352.0 65.1,348.9 68.2,345.5 71.3,342.8 74.3,340.6 77.4,338.7 80.4,337.3 83.5,336.2 89.6,334.5 95.7,333.2 101.9,332.3 108.0,331.5 114.1,330.9 120.2,330.3 126.3,329.7 132.5,329.2 138.6,328.6 144.7,328.1 150.8,327.7 156.9,327.3 163.1,326.9 169.2,326.5 175.3,326.2" fill="none" stroke="#808080" stroke-width="1.95" stroke-dasharray="1.6,2.0" stroke-linejoin="round"/>
<polyline points="22.3,421.1 23.8,418.8 25.4,415.6 26.9,411.7 28.4,406.6 30.0,401.6 31.5,396.7 33.0,391.9 34.5,386.9 36.1,382.8 37.6,379.8 39.1,377.3 40.7,375.1 43.7,370.8 46.8,367.1 49.8,364.1 52.9,361.3 56.0,358.3 59.0,355.4 62.1,352.4 65.1,349.2 68.2,345.9 71.3,343.1 74.3,340.9 77.4,339.1 80.4,337.6 83.5,336.5 89.6,334.8 95.7,333.5 101.9,332.6 108.0,331.8 114.1,331.2 120.2,330.6 126.3,330.0 132.5,329.4 138.6,328.9 144.7,328.4 150.8,328.0 156.9,327.6 163.1,327.2 169.2,326.8 175.3,326.5" fill="none" stroke="#880015" stroke-width="1.95" stroke-dasharray="6,3" stroke-linejoin="round"/>
<polyline points="22.3,421.1 23.8,418.8 25.4,415.6 26.9,411.8 28.4,406.7 30.0,401.7 31.5,396.8 33.0,392.1 34.5,387.1 36.1,383.0 37.6,380.1 39.1,377.7 40.7,375.5 43.7,371.3 46.8,367.7 49.8,364.8 52.9,362.1 56.0,359.2 59.0,356.3 62.1,353.4 65.1,350.3 68.2,347.0 71.3,344.2 74.3,342.0 77.4,340.0 80.4,338.5 83.5,337.4 89.6,335.7 95.7,334.4 101.9,333.4 108.0,332.6 114.1,332.0 120.2,331.4 126.3,330.8 132.5,330.3 138.6,329.7 144.7,329.3 150.8,328.8 156.9,328.4 163.1,328.1 169.2,327.7 175.3,327.4" fill="none" stroke="#ff7f27" stroke-width="1.95" stroke-linejoin="round"/>
<polyline points="22.3,421.1 23.8,418.8 25.4,415.7 26.9,411.9 28.4,406.8 30.0,401.8 31.5,396.9 33.0,392.2 34.5,387.3 36.1,383.2 37.6,380.4 39.1,378.0 40.7,375.9 43.7,371.7 46.8,368.2 49.8,365.4 52.9,362.8 56.0,360.0 59.0,357.1 62.1,354.2 65.1,351.2 68.2,347.9 71.3,345.1 74.3,342.8 77.4,340.8 80.4,339.2 83.5,338.1 89.6,336.4 95.7,335.1 101.9,334.1 108.0,333.3 114.1,332.7 120.2,332.1 126.3,331.5 132.5,331.0 138.6,330.4 144.7,330.0 150.8,329.6 156.9,329.2 163.1,328.8 169.2,328.5 175.3,328.2" fill="none" stroke="#00a2e8" stroke-width="1.95" stroke-dasharray="6.5,2.8,0.8,2.8" stroke-linejoin="round"/>
<polyline points="22.3,421.1 23.8,418.8 25.4,415.7 26.9,411.9 28.4,406.8 30.0,401.8 31.5,397.0 33.0,392.3 34.5,387.4 36.1,383.3 37.6,380.5 39.1,378.2 40.7,376.0 43.7,371.9 46.8,368.4 49.8,365.7 52.9,363.1 56.0,360.3 59.0,357.5 62.1,354.6 65.1,351.5 68.2,348.3 71.3,345.5 74.3,343.2 77.4,341.1 80.4,339.5 83.5,338.4 89.6,336.7 95.7,335.4 101.9,334.4 108.0,333.6 114.1,332.9 120.2,332.4 126.3,331.8 132.5,331.2 138.6,330.7 144.7,330.3 150.8,329.9 156.9,329.5 163.1,329.1 169.2,328.8 175.3,328.5" fill="none" stroke="#a349a4" stroke-width="1.95" stroke-dasharray="1.6,2.0" stroke-linejoin="round"/>
<polyline points="22.3,421.1 23.8,418.8 25.4,415.7 26.9,411.9 28.4,406.8 30.0,401.8 31.5,397.0 33.0,392.3 34.5,387.4 36.1,383.3 37.6,380.5 39.1,378.2 40.7,376.0 43.7,371.9 46.8,368.4 49.8,365.7 52.9,363.1 56.0,360.3 59.0,357.5 62.1,354.6 65.1,351.5 68.2,348.3 71.3,345.5 74.3,343.2 77.4,341.1 80.4,339.5 83.5,338.4 89.6,336.7 95.7,335.4 101.9,334.4 108.0,333.6 114.1,332.9 120.2,332.4 126.3,331.8 132.5,331.2 138.6,330.7 144.7,330.3 150.8,329.9 156.9,329.5 163.1,329.1 169.2,328.8 175.3,328.5" fill="none" stroke="#ffc90e" stroke-width="1.95" stroke-dasharray="6,3" stroke-linejoin="round"/>
<polyline points="22.3,421.1 23.8,418.9 25.4,415.9 26.9,412.2 28.4,407.3 30.0,402.4 31.5,397.7 33.0,393.1 34.5,388.4 36.1,384.7 37.6,382.2 39.1,380.2 40.7,378.4 43.7,374.6 46.8,371.6 49.8,369.5 52.9,367.5 56.0,365.1 59.0,362.6 62.1,359.9 65.1,357.2 68.2,354.3 71.3,351.3 74.3,348.6 77.4,346.2 80.4,344.4 83.5,343.1 89.6,341.4 95.7,340.0 101.9,338.8 108.0,337.9 114.1,337.2 120.2,336.7 126.3,336.1 132.5,335.7 138.6,335.3 144.7,334.9 150.8,334.5 156.9,334.2 163.1,333.9 169.2,333.6 175.3,333.4" fill="none" stroke="#253d3d" stroke-width="1.95" stroke-linejoin="round"/>
<polyline points="22.3,421.1 23.8,418.5 25.4,415.3 26.9,411.6 28.4,407.0 30.0,403.2 31.5,400.1 33.0,397.4 34.5,394.9 36.1,392.6 37.6,390.4 39.1,388.3 40.7,386.3 43.7,382.6 46.8,379.2 49.8,375.9 52.9,372.9 56.0,370.1 59.0,367.7 62.1,365.6 65.1,363.7 68.2,362.0 71.3,360.2 74.3,358.4 77.4,356.4 80.4,354.8 83.5,354.0 89.6,352.8 95.7,351.9 101.9,351.1 108.0,350.3 114.1,349.5 120.2,348.5 126.3,347.4 132.5,346.2 138.6,345.0 144.7,343.9 150.8,342.9 156.9,342.0 163.1,341.2 169.2,340.3 175.3,339.6" fill="none" stroke="#f4a7b9" stroke-width="1.5" stroke-dasharray="1.4,2.2" stroke-linejoin="round"/>
</g>
<rect x="22.30" y="307.70" width="153.00" height="118.60" fill="none" stroke="#bdbdbd" stroke-width="0.8"/>
<line x1="22.30" y1="426.30" x2="22.30" y2="424.80" stroke="#999" stroke-width="0.7"/>
<line x1="22.30" y1="307.70" x2="22.30" y2="309.20" stroke="#999" stroke-width="0.7"/>
<text x="22.30" y="433.50" text-anchor="middle" class="tk">0</text>
<line x1="52.90" y1="426.30" x2="52.90" y2="424.80" stroke="#999" stroke-width="0.7"/>
<line x1="52.90" y1="307.70" x2="52.90" y2="309.20" stroke="#999" stroke-width="0.7"/>
<text x="52.90" y="433.50" text-anchor="middle" class="tk">10</text>
<line x1="83.50" y1="426.30" x2="83.50" y2="424.80" stroke="#999" stroke-width="0.7"/>
<line x1="83.50" y1="307.70" x2="83.50" y2="309.20" stroke="#999" stroke-width="0.7"/>
<text x="83.50" y="433.50" text-anchor="middle" class="tk">20</text>
<line x1="114.10" y1="426.30" x2="114.10" y2="424.80" stroke="#999" stroke-width="0.7"/>
<line x1="114.10" y1="307.70" x2="114.10" y2="309.20" stroke="#999" stroke-width="0.7"/>
<text x="114.10" y="433.50" text-anchor="middle" class="tk">30</text>
<line x1="144.70" y1="426.30" x2="144.70" y2="424.80" stroke="#999" stroke-width="0.7"/>
<line x1="144.70" y1="307.70" x2="144.70" y2="309.20" stroke="#999" stroke-width="0.7"/>
<text x="144.70" y="433.50" text-anchor="middle" class="tk">40</text>
<line x1="175.30" y1="426.30" x2="175.30" y2="424.80" stroke="#999" stroke-width="0.7"/>
<line x1="175.30" y1="307.70" x2="175.30" y2="309.20" stroke="#999" stroke-width="0.7"/>
<text x="175.30" y="433.50" text-anchor="middle" class="tk">50</text>
<line x1="22.30" y1="426.30" x2="23.80" y2="426.30" stroke="#999" stroke-width="0.7"/>
<line x1="175.30" y1="426.30" x2="173.80" y2="426.30" stroke="#999" stroke-width="0.7"/>
<text x="20.90" y="428.30" text-anchor="end" class="tk">0</text>
<line x1="22.30" y1="411.48" x2="23.80" y2="411.48" stroke="#999" stroke-width="0.7"/>
<line x1="175.30" y1="411.48" x2="173.80" y2="411.48" stroke="#999" stroke-width="0.7"/>
<text x="20.90" y="413.48" text-anchor="end" class="tk">0.1</text>
<line x1="22.30" y1="396.65" x2="23.80" y2="396.65" stroke="#999" stroke-width="0.7"/>
<line x1="175.30" y1="396.65" x2="173.80" y2="396.65" stroke="#999" stroke-width="0.7"/>
<text x="20.90" y="398.65" text-anchor="end" class="tk">0.2</text>
<line x1="22.30" y1="381.82" x2="23.80" y2="381.82" stroke="#999" stroke-width="0.7"/>
<line x1="175.30" y1="381.82" x2="173.80" y2="381.82" stroke="#999" stroke-width="0.7"/>
<text x="20.90" y="383.82" text-anchor="end" class="tk">0.3</text>
<line x1="22.30" y1="367.00" x2="23.80" y2="367.00" stroke="#999" stroke-width="0.7"/>
<line x1="175.30" y1="367.00" x2="173.80" y2="367.00" stroke="#999" stroke-width="0.7"/>
<text x="20.90" y="369.00" text-anchor="end" class="tk">0.4</text>
<line x1="22.30" y1="352.18" x2="23.80" y2="352.18" stroke="#999" stroke-width="0.7"/>
<line x1="175.30" y1="352.18" x2="173.80" y2="352.18" stroke="#999" stroke-width="0.7"/>
<text x="20.90" y="354.18" text-anchor="end" class="tk">0.5</text>
<line x1="22.30" y1="337.35" x2="23.80" y2="337.35" stroke="#999" stroke-width="0.7"/>
<line x1="175.30" y1="337.35" x2="173.80" y2="337.35" stroke="#999" stroke-width="0.7"/>
<text x="20.90" y="339.35" text-anchor="end" class="tk">0.6</text>
<line x1="22.30" y1="322.52" x2="23.80" y2="322.52" stroke="#999" stroke-width="0.7"/>
<line x1="175.30" y1="322.52" x2="173.80" y2="322.52" stroke="#999" stroke-width="0.7"/>
<text x="20.90" y="324.52" text-anchor="end" class="tk">0.7</text>
<line x1="22.30" y1="307.70" x2="23.80" y2="307.70" stroke="#999" stroke-width="0.7"/>
<line x1="175.30" y1="307.70" x2="173.80" y2="307.70" stroke="#999" stroke-width="0.7"/>
<text x="20.90" y="309.70" text-anchor="end" class="tk">0.8</text>
<text x="99.40" y="304.90" text-anchor="middle" class="ti">Precision plots of OPE - Illumination Variation (31)</text>
<text x="98.80" y="442.50" text-anchor="middle" class="lb">Location error threshold</text>
<text x="0" y="0" transform="translate(11.00,367.00) rotate(-90)" text-anchor="middle" class="lb">Precision</text>
<rect x="116.40" y="311.70" width="55.10" height="86.00" fill="#fff" stroke="#c8c8c8" stroke-width="0.6"/>
<line x1="117.70" y1="315.10" x2="131.60" y2="315.10" stroke="#ff0000" stroke-width="1.9"/>
<text x="133.30" y="317.10" class="lg">CSR-DCF [0.659]</text>
<line x1="117.70" y1="321.18" x2="125.20" y2="321.18" stroke="#00ff00" stroke-width="1.9"/>
<text x="133.30" y="323.18" class="lg">OURS [0.656]</text>
<rect x="118.05" y="326.41" width="1.7" height="1.7" fill="#0000ff"/>
<rect x="121.50" y="326.41" width="1.7" height="1.7" fill="#0000ff"/>
<rect x="124.95" y="326.41" width="1.7" height="1.7" fill="#0000ff"/>
<rect x="128.40" y="326.41" width="1.7" height="1.7" fill="#0000ff"/>
<text x="133.30" y="329.26" class="lg">ReCF [0.638]</text>
<line x1="117.70" y1="333.34" x2="124.50" y2="333.34" stroke="#000000" stroke-width="1.9"/>
<line x1="127.20" y1="333.34" x2="130.00" y2="333.34" stroke="#000000" stroke-width="1.9"/>
<text x="133.30" y="335.34" class="lg">DRCF [0.623]</text>
<line x1="117.70" y1="339.42" x2="131.60" y2="339.42" stroke="#ff00ff" stroke-width="1.9"/>
<text x="133.30" y="341.42" class="lg">EMCF [0.618]</text>
<line x1="117.70" y1="345.50" x2="125.20" y2="345.50" stroke="#00ffff" stroke-width="1.9"/>
<text x="133.30" y="347.50" class="lg">AutoTrack [0.617]</text>
<rect x="118.05" y="350.73" width="1.7" height="1.7" fill="#808080"/>
<rect x="121.50" y="350.73" width="1.7" height="1.7" fill="#808080"/>
<rect x="124.95" y="350.73" width="1.7" height="1.7" fill="#808080"/>
<rect x="128.40" y="350.73" width="1.7" height="1.7" fill="#808080"/>
<text x="133.30" y="353.58" class="lg">IBRI [0.608]</text>
<line x1="117.70" y1="357.66" x2="124.50" y2="357.66" stroke="#880015" stroke-width="1.9"/>
<line x1="127.20" y1="357.66" x2="130.00" y2="357.66" stroke="#880015" stroke-width="1.9"/>
<text x="133.30" y="359.66" class="lg">MSCF [0.606]</text>
<line x1="117.70" y1="363.74" x2="131.60" y2="363.74" stroke="#ff7f27" stroke-width="1.9"/>
<text x="133.30" y="365.74" class="lg">SRDCF [0.600]</text>
<line x1="117.70" y1="369.82" x2="125.20" y2="369.82" stroke="#00a2e8" stroke-width="1.9"/>
<text x="133.30" y="371.82" class="lg">ARCF-HC [0.595]</text>
<rect x="118.05" y="375.05" width="1.7" height="1.7" fill="#a349a4"/>
<rect x="121.50" y="375.05" width="1.7" height="1.7" fill="#a349a4"/>
<rect x="124.95" y="375.05" width="1.7" height="1.7" fill="#a349a4"/>
<rect x="128.40" y="375.05" width="1.7" height="1.7" fill="#a349a4"/>
<text x="133.30" y="377.90" class="lg">Staple-CA [0.593]</text>
<line x1="117.70" y1="381.98" x2="124.50" y2="381.98" stroke="#ffc90e" stroke-width="1.9"/>
<line x1="127.20" y1="381.98" x2="130.00" y2="381.98" stroke="#ffc90e" stroke-width="1.9"/>
<text x="133.30" y="383.98" class="lg">Staple-MF [0.593]</text>
<line x1="117.70" y1="388.06" x2="131.60" y2="388.06" stroke="#253d3d" stroke-width="1.9"/>
<text x="133.30" y="390.06" class="lg">Staple [0.561]</text>
<rect x="118.05" y="393.29" width="1.7" height="1.7" fill="#f4a7b9"/>
<rect x="121.50" y="393.29" width="1.7" height="1.7" fill="#f4a7b9"/>
<rect x="124.95" y="393.29" width="1.7" height="1.7" fill="#f4a7b9"/>
<rect x="128.40" y="393.29" width="1.7" height="1.7" fill="#f4a7b9"/>
<text x="133.30" y="396.14" class="lg">SAMF [0.488]</text>
<g clip-path="url(#c7)">
<polyline points="209.2,405.5 210.7,400.2 212.3,394.6 213.8,388.6 215.3,382.7 216.8,377.5 218.4,372.7 219.9,368.4 221.4,364.6 223.0,361.2 224.5,358.2 226.0,355.4 227.6,352.9 230.6,348.5 233.7,345.1 236.7,342.3 239.8,340.0 242.9,338.3 245.9,337.0 249.0,335.6 252.0,334.0 255.1,332.0 258.2,330.6 261.2,329.7 264.3,328.9 267.3,328.1 270.4,327.3 276.5,325.7 282.6,324.4 288.8,323.4 294.9,322.1 301.0,320.9 307.1,320.0 313.2,319.3 319.4,318.7 325.5,318.2 331.6,317.6 337.7,317.0 343.8,316.5 350.0,316.0 356.1,315.5 362.2,315.0" fill="none" stroke="#ff0000" stroke-width="2.2" stroke-linejoin="round"/>
<polyline points="209.2,405.5 210.7,400.2 212.3,394.7 213.8,388.6 215.3,382.8 216.8,377.5 218.4,372.8 219.9,368.6 221.4,364.7 223.0,361.4 224.5,358.3 226.0,355.5 227.6,353.0 230.6,348.7 233.7,345.3 236.7,342.5 239.8,340.2 242.9,338.5 245.9,337.1 249.0,335.8 252.0,334.1 255.1,332.2 258.2,330.8 261.2,329.9 264.3,329.1 267.3,328.3 270.4,327.5 276.5,325.9 282.6,324.7 288.8,323.6 294.9,322.4 301.0,321.1 307.1,320.3 313.2,319.6 319.4,319.0 325.5,318.4 331.6,317.9 337.7,317.3 343.8,316.8 350.0,316.3 356.1,315.8 362.2,315.3" fill="none" stroke="#00ff00" stroke-width="1.95" stroke-dasharray="6.5,2.8,0.8,2.8" stroke-linejoin="round"/>
<polyline points="209.2,405.5 210.7,400.4 212.3,395.1 213.8,389.3 215.3,383.7 216.8,378.6 218.4,374.1 219.9,370.1 221.4,366.6 223.0,363.4 224.5,360.4 226.0,357.6 227.6,355.0 230.6,350.8 233.7,347.5 236.7,344.7 239.8,342.5 242.9,340.8 245.9,339.4 249.0,338.1 252.0,336.6 255.1,334.9 258.2,333.6 261.2,332.7 264.3,331.9 267.3,331.2 270.4,330.4 276.5,329.0 282.6,327.9 288.8,327.0 294.9,325.9 301.0,324.9 307.1,324.2 313.2,323.6 319.4,323.0 325.5,322.6 331.6,322.1 337.7,321.6 343.8,321.1 350.0,320.7 356.1,320.3 362.2,319.9" fill="none" stroke="#0000ff" stroke-width="1.95" stroke-dasharray="1.6,2.0" stroke-linejoin="round"/>
<polyline points="209.2,405.5 210.7,400.5 212.3,395.2 213.8,389.5 215.3,383.9 216.8,378.9 218.4,374.3 219.9,370.5 221.4,367.0 223.0,363.8 224.5,360.8 226.0,358.0 227.6,355.4 230.6,351.3 233.7,347.9 236.7,345.2 239.8,343.0 242.9,341.3 245.9,339.9 249.0,338.5 252.0,337.1 255.1,335.4 258.2,334.2 261.2,333.3 264.3,332.5 267.3,331.8 270.4,331.0 276.5,329.6 282.6,328.6 288.8,327.7 294.9,326.6 301.0,325.6 307.1,324.9 313.2,324.4 319.4,323.9 325.5,323.4 331.6,322.9 337.7,322.5 343.8,322.0 350.0,321.6 356.1,321.2 362.2,320.8" fill="none" stroke="#000000" stroke-width="1.95" stroke-dasharray="6,3" stroke-linejoin="round"/>
<polyline points="209.2,405.5 210.7,400.5 212.3,395.3 213.8,389.6 215.3,384.0 216.8,379.1 218.4,374.6 219.9,370.8 221.4,367.4 223.0,364.2 224.5,361.2 226.0,358.4 227.6,355.9 230.6,351.7 233.7,348.4 236.7,345.6 239.8,343.4 242.9,341.7 245.9,340.3 249.0,339.0 252.0,337.5 255.1,335.9 258.2,334.7 261.2,333.8 264.3,333.1 267.3,332.3 270.4,331.6 276.5,330.3 282.6,329.2 288.8,328.3 294.9,327.3 301.0,326.4 307.1,325.7 313.2,325.2 319.4,324.7 325.5,324.2 331.6,323.8 337.7,323.3 343.8,322.9 350.0,322.5 356.1,322.1 362.2,321.7" fill="none" stroke="#ff00ff" stroke-width="1.95" stroke-linejoin="round"/>
<polyline points="209.2,405.5 210.7,400.7 212.3,395.6 213.8,390.1 215.3,384.7 216.8,379.8 218.4,375.5 219.9,371.8 221.4,368.6 223.0,365.6 224.5,362.6 226.0,359.8 227.6,357.2 230.6,353.1 233.7,349.9 236.7,347.2 239.8,345.0 242.9,343.3 245.9,341.9 249.0,340.6 252.0,339.2 255.1,337.7 258.2,336.6 261.2,335.7 264.3,335.0 267.3,334.3 270.4,333.6 276.5,332.4 282.6,331.4 288.8,330.6 294.9,329.7 301.0,328.9 307.1,328.3 313.2,327.8 319.4,327.4 325.5,327.0 331.6,326.6 337.7,326.2 343.8,325.8 350.0,325.4 356.1,325.1 362.2,324.8" fill="none" stroke="#00ffff" stroke-width="1.95" stroke-dasharray="6.5,2.8,0.8,2.8" stroke-linejoin="round"/>
<polyline points="209.2,405.5 210.7,400.7 212.3,395.6 213.8,390.1 215.3,384.7 216.8,379.9 218.4,375.6 219.9,371.9 221.4,368.8 223.0,365.8 224.5,362.8 226.0,359.9 227.6,357.3 230.6,353.3 233.7,350.0 236.7,347.3 239.8,345.1 242.9,343.5 245.9,342.0 249.0,340.7 252.0,339.3 255.1,337.9 258.2,336.8 261.2,335.9 264.3,335.2 267.3,334.5 270.4,333.8 276.5,332.6 282.6,331.6 288.8,330.8 294.9,329.9 301.0,329.1 307.1,328.5 313.2,328.1 319.4,327.6 325.5,327.2 331.6,326.9 337.7,326.5 343.8,326.1 350.0,325.7 356.1,325.4 362.2,325.1" fill="none" stroke="#808080" stroke-width="1.95" stroke-dasharray="1.6,2.0" stroke-linejoin="round"/>
<polyline points="209.2,405.5 210.7,400.8 212.3,395.8 213.8,390.4 215.3,385.1 216.8,380.4 218.4,376.2 219.9,372.7 221.4,369.6 223.0,366.7 224.5,363.7 226.0,360.8 227.6,358.3 230.6,354.3 233.7,351.1 236.7,348.4 239.8,346.2 242.9,344.5 245.9,343.1 249.0,341.8 252.0,340.5 255.1,339.1 258.2,338.1 261.2,337.2 264.3,336.5 267.3,335.8 270.4,335.2 276.5,334.0 282.6,333.1 288.8,332.4 294.9,331.6 301.0,330.9 307.1,330.3 313.2,329.9 319.4,329.5 325.5,329.2 331.6,328.8 337.7,328.5 343.8,328.1 350.0,327.8 356.1,327.5 362.2,327.2" fill="none" stroke="#880015" stroke-width="1.95" stroke-dasharray="6,3" stroke-linejoin="round"/>
<polyline points="209.2,405.5 210.7,400.8 212.3,395.9 213.8,390.5 215.3,385.3 216.8,380.6 218.4,376.4 219.9,372.9 221.4,369.9 223.0,367.0 224.5,364.0 226.0,361.1 227.6,358.6 230.6,354.6 233.7,351.4 236.7,348.7 239.8,346.5 242.9,344.8 245.9,343.4 249.0,342.1 252.0,340.8 255.1,339.5 258.2,338.4 261.2,337.6 264.3,336.9 267.3,336.2 270.4,335.6 276.5,334.4 282.6,333.6 288.8,332.8 294.9,332.1 301.0,331.4 307.1,330.9 313.2,330.4 319.4,330.1 325.5,329.7 331.6,329.4 337.7,329.0 343.8,328.7 350.0,328.4 356.1,328.1 362.2,327.8" fill="none" stroke="#ff7f27" stroke-width="1.95" stroke-linejoin="round"/>
<polyline points="209.2,405.5 210.7,401.0 212.3,396.2 213.8,391.0 215.3,385.9 216.8,381.3 218.4,377.2 219.9,374.0 221.4,371.1 223.0,368.4 224.5,365.4 226.0,362.5 227.6,359.9 230.6,356.0 233.7,352.8 236.7,350.2 239.8,348.1 242.9,346.4 245.9,344.9 249.0,343.7 252.0,342.4 255.1,341.2 258.2,340.3 261.2,339.5 264.3,338.8 267.3,338.1 270.4,337.5 276.5,336.5 282.6,335.7 288.8,335.1 294.9,334.4 301.0,333.9 307.1,333.4 313.2,333.1 319.4,332.8 325.5,332.5 331.6,332.2 337.7,331.9 343.8,331.6 350.0,331.3 356.1,331.1 362.2,330.8" fill="none" stroke="#00a2e8" stroke-width="1.95" stroke-dasharray="6.5,2.8,0.8,2.8" stroke-linejoin="round"/>
<polyline points="209.2,405.5 210.7,401.1 212.3,396.3 213.8,391.2 215.3,386.1 216.8,381.6 218.4,377.6 219.9,374.4 221.4,371.6 223.0,368.9 224.5,366.0 226.0,363.0 227.6,360.4 230.6,356.6 233.7,353.4 236.7,350.8 239.8,348.7 242.9,347.0 245.9,345.6 249.0,344.3 252.0,343.1 255.1,342.0 258.2,341.0 261.2,340.2 264.3,339.5 267.3,338.9 270.4,338.3 276.5,337.3 282.6,336.6 288.8,336.0 294.9,335.4 301.0,334.9 307.1,334.5 313.2,334.1 319.4,333.8 325.5,333.6 331.6,333.3 337.7,333.0 343.8,332.8 350.0,332.5 356.1,332.3 362.2,332.1" fill="none" stroke="#a349a4" stroke-width="1.95" stroke-dasharray="1.6,2.0" stroke-linejoin="round"/>
<polyline points="209.2,405.5 210.7,401.2 212.3,396.6 213.8,391.6 215.3,386.7 216.8,382.3 218.4,378.4 219.9,375.3 221.4,372.8 223.0,370.1 224.5,367.2 226.0,364.2 227.6,361.7 230.6,357.9 233.7,354.8 236.7,352.2 239.8,350.1 242.9,348.4 245.9,346.9 249.0,345.7 252.0,344.5 255.1,343.6 258.2,342.7 261.2,341.9 264.3,341.2 267.3,340.7 270.4,340.1 276.5,339.2 282.6,338.5 288.8,338.0 294.9,337.5 301.0,337.1 307.1,336.8 313.2,336.5 319.4,336.3 325.5,336.0 331.6,335.8 337.7,335.6 343.8,335.4 350.0,335.2 356.1,335.0 362.2,334.8" fill="none" stroke="#ffc90e" stroke-width="1.95" stroke-dasharray="6,3" stroke-linejoin="round"/>
<polyline points="209.2,405.5 210.7,401.2 212.3,396.7 213.8,391.7 215.3,386.8 216.8,382.4 218.4,378.5 219.9,375.5 221.4,373.0 223.0,370.4 224.5,367.5 226.0,364.5 227.6,361.9 230.6,358.2 233.7,355.1 236.7,352.5 239.8,350.4 242.9,348.7 245.9,347.2 249.0,346.0 252.0,344.9 255.1,343.9 258.2,343.1 261.2,342.3 264.3,341.6 267.3,341.0 270.4,340.5 276.5,339.6 282.6,339.0 288.8,338.4 294.9,338.0 301.0,337.6 307.1,337.3 313.2,337.0 319.4,336.8 325.5,336.6 331.6,336.4 337.7,336.2 343.8,336.0 350.0,335.8 356.1,335.6 362.2,335.4" fill="none" stroke="#253d3d" stroke-width="1.95" stroke-linejoin="round"/>
<polyline points="209.2,405.5 210.7,401.7 212.3,397.7 213.8,393.3 215.3,388.9 216.8,384.5 218.4,380.6 219.9,377.9 221.4,375.7 223.0,373.8 224.5,372.0 226.0,370.3 227.6,368.5 230.6,364.5 233.7,360.5 236.7,357.0 239.8,354.3 242.9,352.3 245.9,350.6 249.0,349.1 252.0,347.9 255.1,346.8 258.2,345.9 261.2,345.1 264.3,344.4 267.3,343.8 270.4,343.3 276.5,342.5 282.6,341.8 288.8,341.2 294.9,340.7 301.0,340.2 307.1,339.7 313.2,339.3 319.4,338.9 325.5,338.5 331.6,338.2 337.7,337.9 343.8,337.6 350.0,337.3 356.1,337.1 362.2,336.8" fill="none" stroke="#f4a7b9" stroke-width="1.5" stroke-dasharray="1.4,2.2" stroke-linejoin="round"/>
</g>
<rect x="209.20" y="307.70" width="153.00" height="118.60" fill="none" stroke="#bdbdbd" stroke-width="0.8"/>
<line x1="209.20" y1="426.30" x2="209.20" y2="424.80" stroke="#999" stroke-width="0.7"/>
<line x1="209.20" y1="307.70" x2="209.20" y2="309.20" stroke="#999" stroke-width="0.7"/>
<text x="209.20" y="433.50" text-anchor="middle" class="tk">0</text>
<line x1="239.80" y1="426.30" x2="239.80" y2="424.80" stroke="#999" stroke-width="0.7"/>
<line x1="239.80" y1="307.70" x2="239.80" y2="309.20" stroke="#999" stroke-width="0.7"/>
<text x="239.80" y="433.50" text-anchor="middle" class="tk">10</text>
<line x1="270.40" y1="426.30" x2="270.40" y2="424.80" stroke="#999" stroke-width="0.7"/>
<line x1="270.40" y1="307.70" x2="270.40" y2="309.20" stroke="#999" stroke-width="0.7"/>
<text x="270.40" y="433.50" text-anchor="middle" class="tk">20</text>
<line x1="301.00" y1="426.30" x2="301.00" y2="424.80" stroke="#999" stroke-width="0.7"/>
<line x1="301.00" y1="307.70" x2="301.00" y2="309.20" stroke="#999" stroke-width="0.7"/>
<text x="301.00" y="433.50" text-anchor="middle" class="tk">30</text>
<line x1="331.60" y1="426.30" x2="331.60" y2="424.80" stroke="#999" stroke-width="0.7"/>
<line x1="331.60" y1="307.70" x2="331.60" y2="309.20" stroke="#999" stroke-width="0.7"/>
<text x="331.60" y="433.50" text-anchor="middle" class="tk">40</text>
<line x1="362.20" y1="426.30" x2="362.20" y2="424.80" stroke="#999" stroke-width="0.7"/>
<line x1="362.20" y1="307.70" x2="362.20" y2="309.20" stroke="#999" stroke-width="0.7"/>
<text x="362.20" y="433.50" text-anchor="middle" class="tk">50</text>
<line x1="209.20" y1="426.30" x2="210.70" y2="426.30" stroke="#999" stroke-width="0.7"/>
<line x1="362.20" y1="426.30" x2="360.70" y2="426.30" stroke="#999" stroke-width="0.7"/>
<text x="207.80" y="428.30" text-anchor="end" class="tk">0</text>
<line x1="209.20" y1="406.53" x2="210.70" y2="406.53" stroke="#999" stroke-width="0.7"/>
<line x1="362.20" y1="406.53" x2="360.70" y2="406.53" stroke="#999" stroke-width="0.7"/>
<text x="207.80" y="408.53" text-anchor="end" class="tk">0.1</text>
<line x1="209.20" y1="386.77" x2="210.70" y2="386.77" stroke="#999" stroke-width="0.7"/>
<line x1="362.20" y1="386.77" x2="360.70" y2="386.77" stroke="#999" stroke-width="0.7"/>
<text x="207.80" y="388.77" text-anchor="end" class="tk">0.2</text>
<line x1="209.20" y1="367.00" x2="210.70" y2="367.00" stroke="#999" stroke-width="0.7"/>
<line x1="362.20" y1="367.00" x2="360.70" y2="367.00" stroke="#999" stroke-width="0.7"/>
<text x="207.80" y="369.00" text-anchor="end" class="tk">0.3</text>
<line x1="209.20" y1="347.23" x2="210.70" y2="347.23" stroke="#999" stroke-width="0.7"/>
<line x1="362.20" y1="347.23" x2="360.70" y2="347.23" stroke="#999" stroke-width="0.7"/>
<text x="207.80" y="349.23" text-anchor="end" class="tk">0.4</text>
<line x1="209.20" y1="327.47" x2="210.70" y2="327.47" stroke="#999" stroke-width="0.7"/>
<line x1="362.20" y1="327.47" x2="360.70" y2="327.47" stroke="#999" stroke-width="0.7"/>
<text x="207.80" y="329.47" text-anchor="end" class="tk">0.5</text>
<line x1="209.20" y1="307.70" x2="210.70" y2="307.70" stroke="#999" stroke-width="0.7"/>
<line x1="362.20" y1="307.70" x2="360.70" y2="307.70" stroke="#999" stroke-width="0.7"/>
<text x="207.80" y="309.70" text-anchor="end" class="tk">0.6</text>
<text x="286.30" y="304.90" text-anchor="middle" class="ti">Precision plots of OPE - Full Occlusion (33)</text>
<text x="285.70" y="442.50" text-anchor="middle" class="lb">Location error threshold</text>
<text x="0" y="0" transform="translate(197.90,367.00) rotate(-90)" text-anchor="middle" class="lb">Precision</text>
<rect x="303.30" y="311.70" width="55.10" height="86.00" fill="#fff" stroke="#c8c8c8" stroke-width="0.6"/>
<line x1="304.60" y1="315.10" x2="318.50" y2="315.10" stroke="#ff0000" stroke-width="1.9"/>
<text x="320.20" y="317.10" class="lg">SRDCF [0.501]</text>
<line x1="304.60" y1="321.18" x2="312.10" y2="321.18" stroke="#00ff00" stroke-width="1.9"/>
<text x="320.20" y="323.18" class="lg">MSCF [0.500]</text>
<rect x="304.95" y="326.41" width="1.7" height="1.7" fill="#0000ff"/>
<rect x="308.40" y="326.41" width="1.7" height="1.7" fill="#0000ff"/>
<rect x="311.85" y="326.41" width="1.7" height="1.7" fill="#0000ff"/>
<rect x="315.30" y="326.41" width="1.7" height="1.7" fill="#0000ff"/>
<text x="320.20" y="329.26" class="lg">ReCF [0.485]</text>
<line x1="304.60" y1="333.34" x2="311.40" y2="333.34" stroke="#000000" stroke-width="1.9"/>
<line x1="314.10" y1="333.34" x2="316.90" y2="333.34" stroke="#000000" stroke-width="1.9"/>
<text x="320.20" y="335.34" class="lg">OURS [0.482]</text>
<line x1="304.60" y1="339.42" x2="318.50" y2="339.42" stroke="#ff00ff" stroke-width="1.9"/>
<text x="320.20" y="341.42" class="lg">IBRI [0.479]</text>
<line x1="304.60" y1="345.50" x2="312.10" y2="345.50" stroke="#00ffff" stroke-width="1.9"/>
<text x="320.20" y="347.50" class="lg">CSR-DCF [0.469]</text>
<rect x="304.95" y="350.73" width="1.7" height="1.7" fill="#808080"/>
<rect x="308.40" y="350.73" width="1.7" height="1.7" fill="#808080"/>
<rect x="311.85" y="350.73" width="1.7" height="1.7" fill="#808080"/>
<rect x="315.30" y="350.73" width="1.7" height="1.7" fill="#808080"/>
<text x="320.20" y="353.58" class="lg">AutoTrack [0.468]</text>
<line x1="304.60" y1="357.66" x2="311.40" y2="357.66" stroke="#880015" stroke-width="1.9"/>
<line x1="314.10" y1="357.66" x2="316.90" y2="357.66" stroke="#880015" stroke-width="1.9"/>
<text x="320.20" y="359.66" class="lg">Staple-CA [0.461]</text>
<line x1="304.60" y1="363.74" x2="318.50" y2="363.74" stroke="#ff7f27" stroke-width="1.9"/>
<text x="320.20" y="365.74" class="lg">DRCF [0.459]</text>
<line x1="304.60" y1="369.82" x2="312.10" y2="369.82" stroke="#00a2e8" stroke-width="1.9"/>
<text x="320.20" y="371.82" class="lg">Staple-MF [0.449]</text>
<rect x="304.95" y="375.05" width="1.7" height="1.7" fill="#a349a4"/>
<rect x="308.40" y="375.05" width="1.7" height="1.7" fill="#a349a4"/>
<rect x="311.85" y="375.05" width="1.7" height="1.7" fill="#a349a4"/>
<rect x="315.30" y="375.05" width="1.7" height="1.7" fill="#a349a4"/>
<text x="320.20" y="377.90" class="lg">ARCF-HC [0.445]</text>
<line x1="304.60" y1="381.98" x2="311.40" y2="381.98" stroke="#ffc90e" stroke-width="1.9"/>
<line x1="314.10" y1="381.98" x2="316.90" y2="381.98" stroke="#ffc90e" stroke-width="1.9"/>
<text x="320.20" y="383.98" class="lg">Staple [0.436]</text>
<line x1="304.60" y1="388.06" x2="318.50" y2="388.06" stroke="#253d3d" stroke-width="1.9"/>
<text x="320.20" y="390.06" class="lg">EMCF [0.434]</text>
<rect x="304.95" y="393.29" width="1.7" height="1.7" fill="#f4a7b9"/>
<rect x="308.40" y="393.29" width="1.7" height="1.7" fill="#f4a7b9"/>
<rect x="311.85" y="393.29" width="1.7" height="1.7" fill="#f4a7b9"/>
<rect x="315.30" y="393.29" width="1.7" height="1.7" fill="#f4a7b9"/>
<text x="320.20" y="396.14" class="lg">SAMF [0.420]</text>
<g clip-path="url(#c8)">
<polyline points="392.7,416.6 394.2,413.7 395.8,410.7 397.3,407.6 398.8,404.7 400.3,401.7 401.9,398.5 403.4,394.8 404.9,391.1 406.5,387.7 408.0,384.6 409.5,381.6 411.1,378.8 414.1,373.2 417.2,368.2 420.2,363.9 423.3,359.9 426.4,356.3 429.4,352.8 432.5,349.5 435.5,346.4 438.6,343.8 441.7,341.6 444.7,339.6 447.8,337.6 450.8,335.6 453.9,333.8 460.0,330.2 466.1,327.1 472.3,324.4 478.4,322.0 484.5,320.0 490.6,318.3 496.7,316.9 502.9,315.6 509.0,314.5 515.1,313.4 521.2,312.4 527.3,311.5 533.5,310.6 539.6,309.8 545.7,309.2" fill="none" stroke="#ff0000" stroke-width="2.2" stroke-linejoin="round"/>
<polyline points="392.7,416.6 394.2,413.7 395.8,410.7 397.3,407.7 398.8,404.7 400.3,401.7 401.9,398.5 403.4,394.9 404.9,391.1 406.5,387.7 408.0,384.6 409.5,381.7 411.1,378.9 414.1,373.4 417.2,368.3 420.2,364.0 423.3,360.1 426.4,356.4 429.4,353.0 432.5,349.6 435.5,346.6 438.6,344.0 441.7,341.8 444.7,339.7 447.8,337.7 450.8,335.8 453.9,334.0 460.0,330.4 466.1,327.3 472.3,324.6 478.4,322.2 484.5,320.2 490.6,318.6 496.7,317.2 502.9,315.9 509.0,314.7 515.1,313.7 521.2,312.7 527.3,311.7 533.5,310.9 539.6,310.1 545.7,309.4" fill="none" stroke="#00ff00" stroke-width="1.95" stroke-dasharray="6.5,2.8,0.8,2.8" stroke-linejoin="round"/>
<polyline points="392.7,416.6 394.2,413.7 395.8,410.8 397.3,407.8 398.8,404.9 400.3,402.0 401.9,398.8 403.4,395.2 404.9,391.5 406.5,388.2 408.0,385.2 409.5,382.3 411.1,379.6 414.1,374.1 417.2,369.2 420.2,364.9 423.3,361.0 426.4,357.5 429.4,354.1 432.5,350.8 435.5,347.7 438.6,345.1 441.7,342.9 444.7,340.9 447.8,338.9 450.8,337.0 453.9,335.1 460.0,331.6 466.1,328.6 472.3,326.0 478.4,323.7 484.5,321.8 490.6,320.3 496.7,318.9 502.9,317.6 509.0,316.5 515.1,315.4 521.2,314.5 527.3,313.6 533.5,312.7 539.6,312.0 545.7,311.3" fill="none" stroke="#0000ff" stroke-width="1.95" stroke-dasharray="1.6,2.0" stroke-linejoin="round"/>
<polyline points="392.7,416.6 394.2,413.7 395.8,410.8 397.3,407.8 398.8,404.9 400.3,402.0 401.9,398.8 403.4,395.2 404.9,391.5 406.5,388.2 408.0,385.2 409.5,382.3 411.1,379.6 414.1,374.1 417.2,369.2 420.2,364.9 423.3,361.0 426.4,357.5 429.4,354.1 432.5,350.8 435.5,347.7 438.6,345.1 441.7,342.9 444.7,340.9 447.8,338.9 450.8,337.0 453.9,335.1 460.0,331.6 466.1,328.6 472.3,326.0 478.4,323.7 484.5,321.8 490.6,320.3 496.7,318.9 502.9,317.6 509.0,316.5 515.1,315.4 521.2,314.5 527.3,313.6 533.5,312.7 539.6,312.0 545.7,311.3" fill="none" stroke="#000000" stroke-width="1.95" stroke-dasharray="6,3" stroke-linejoin="round"/>
<polyline points="392.7,416.6 394.2,413.8 395.8,410.9 397.3,407.9 398.8,405.0 400.3,402.1 401.9,398.9 403.4,395.4 404.9,391.7 406.5,388.4 408.0,385.5 409.5,382.7 411.1,379.9 414.1,374.6 417.2,369.6 420.2,365.4 423.3,361.6 426.4,358.1 429.4,354.7 432.5,351.4 435.5,348.4 438.6,345.8 441.7,343.5 444.7,341.5 447.8,339.5 450.8,337.6 453.9,335.8 460.0,332.3 466.1,329.4 472.3,326.8 478.4,324.6 484.5,322.7 490.6,321.2 496.7,319.8 502.9,318.6 509.0,317.5 515.1,316.5 521.2,315.5 527.3,314.6 533.5,313.8 539.6,313.0 545.7,312.4" fill="none" stroke="#ff00ff" stroke-width="1.95" stroke-linejoin="round"/>
<polyline points="392.7,416.6 394.2,413.9 395.8,411.0 397.3,408.2 398.8,405.3 400.3,402.4 401.9,399.3 403.4,395.8 404.9,392.3 406.5,389.1 408.0,386.2 409.5,383.5 411.1,380.9 414.1,375.7 417.2,370.8 420.2,366.7 423.3,363.0 426.4,359.6 429.4,356.3 432.5,353.0 435.5,350.0 438.6,347.4 441.7,345.1 444.7,343.1 447.8,341.2 450.8,339.3 453.9,337.5 460.0,334.1 466.1,331.2 472.3,328.8 478.4,326.8 484.5,325.0 490.6,323.6 496.7,322.3 502.9,321.1 509.0,320.0 515.1,319.0 521.2,318.1 527.3,317.2 533.5,316.4 539.6,315.6 545.7,315.0" fill="none" stroke="#00ffff" stroke-width="1.95" stroke-dasharray="6.5,2.8,0.8,2.8" stroke-linejoin="round"/>
<polyline points="392.7,416.6 394.2,413.9 395.8,411.2 397.3,408.4 398.8,405.6 400.3,402.7 401.9,399.7 403.4,396.2 404.9,392.8 406.5,389.7 408.0,386.9 409.5,384.3 411.1,381.8 414.1,376.7 417.2,371.9 420.2,367.8 423.3,364.2 426.4,360.9 429.4,357.7 432.5,354.5 435.5,351.5 438.6,348.8 441.7,346.6 444.7,344.5 447.8,342.6 450.8,340.8 453.9,339.0 460.0,335.7 466.1,332.9 472.3,330.6 478.4,328.7 484.5,327.1 490.6,325.7 496.7,324.5 502.9,323.3 509.0,322.2 515.1,321.3 521.2,320.4 527.3,319.5 533.5,318.7 539.6,318.0 545.7,317.4" fill="none" stroke="#808080" stroke-width="1.95" stroke-dasharray="1.6,2.0" stroke-linejoin="round"/>
<polyline points="392.7,416.6 394.2,413.9 395.8,411.2 397.3,408.4 398.8,405.6 400.3,402.7 401.9,399.7 403.4,396.2 404.9,392.8 406.5,389.7 408.0,386.9 409.5,384.3 411.1,381.8 414.1,376.7 417.2,371.9 420.2,367.8 423.3,364.2 426.4,360.9 429.4,357.7 432.5,354.5 435.5,351.5 438.6,348.8 441.7,346.6 444.7,344.5 447.8,342.6 450.8,340.8 453.9,339.0 460.0,335.7 466.1,332.9 472.3,330.6 478.4,328.7 484.5,327.1 490.6,325.7 496.7,324.5 502.9,323.3 509.0,322.2 515.1,321.3 521.2,320.4 527.3,319.5 533.5,318.7 539.6,318.0 545.7,317.4" fill="none" stroke="#880015" stroke-width="1.95" stroke-dasharray="6,3" stroke-linejoin="round"/>
<polyline points="392.7,416.6 394.2,414.0 395.8,411.3 397.3,408.5 398.8,405.7 400.3,402.9 401.9,399.9 403.4,396.5 404.9,393.1 406.5,390.1 408.0,387.4 409.5,384.8 411.1,382.3 414.1,377.3 417.2,372.6 420.2,368.6 423.3,365.1 426.4,361.8 429.4,358.7 432.5,355.5 435.5,352.5 438.6,349.8 441.7,347.5 444.7,345.5 447.8,343.6 450.8,341.8 453.9,340.1 460.0,336.8 466.1,334.1 472.3,331.9 478.4,330.0 484.5,328.5 490.6,327.2 496.7,325.9 502.9,324.8 509.0,323.7 515.1,322.8 521.2,321.9 527.3,321.1 533.5,320.3 539.6,319.6 545.7,319.0" fill="none" stroke="#ff7f27" stroke-width="1.95" stroke-linejoin="round"/>
<polyline points="392.7,416.6 394.2,414.0 395.8,411.3 397.3,408.6 398.8,405.8 400.3,402.9 401.9,399.9 403.4,396.6 404.9,393.1 406.5,390.1 408.0,387.4 409.5,384.9 411.1,382.4 414.1,377.4 417.2,372.7 420.2,368.7 423.3,365.2 426.4,362.0 429.4,358.8 432.5,355.6 435.5,352.6 438.6,349.9 441.7,347.7 444.7,345.7 447.8,343.8 450.8,342.0 453.9,340.2 460.0,336.9 466.1,334.3 472.3,332.1 478.4,330.3 484.5,328.7 490.6,327.4 496.7,326.2 502.9,325.0 509.0,324.0 515.1,323.0 521.2,322.1 527.3,321.3 533.5,320.5 539.6,319.9 545.7,319.2" fill="none" stroke="#00a2e8" stroke-width="1.95" stroke-dasharray="6.5,2.8,0.8,2.8" stroke-linejoin="round"/>
<polyline points="392.7,416.6 394.2,414.0 395.8,411.4 397.3,408.6 398.8,405.9 400.3,403.0 401.9,400.0 403.4,396.7 404.9,393.3 406.5,390.3 408.0,387.7 409.5,385.2 411.1,382.7 414.1,377.8 417.2,373.1 420.2,369.1 423.3,365.6 426.4,362.4 429.4,359.3 432.5,356.1 435.5,353.1 438.6,350.4 441.7,348.2 444.7,346.2 447.8,344.3 450.8,342.5 453.9,340.7 460.0,337.5 466.1,334.8 472.3,332.7 478.4,330.9 484.5,329.4 490.6,328.1 496.7,326.9 502.9,325.8 509.0,324.7 515.1,323.8 521.2,322.9 527.3,322.1 533.5,321.3 539.6,320.6 545.7,320.0" fill="none" stroke="#a349a4" stroke-width="1.95" stroke-dasharray="1.6,2.0" stroke-linejoin="round"/>
<polyline points="392.7,416.6 394.2,414.5 395.8,412.4 397.3,410.2 398.8,408.1 400.3,406.0 401.9,403.9 403.4,401.8 404.9,399.7 406.5,397.7 408.0,395.6 409.5,393.3 411.1,390.9 414.1,385.1 417.2,380.9 420.2,378.3 423.3,376.1 426.4,374.0 429.4,371.1 432.5,367.4 435.5,363.5 438.6,359.8 441.7,356.2 444.7,352.6 447.8,349.3 450.8,346.3 453.9,344.1 460.0,341.2 466.1,339.0 472.3,336.6 478.4,333.3 484.5,330.5 490.6,329.2 496.7,328.3 502.9,327.5 509.0,326.9 515.1,326.3 521.2,325.8 527.3,325.3 533.5,324.8 539.6,324.4 545.7,324.1" fill="none" stroke="#ffc90e" stroke-width="1.95" stroke-dasharray="6,3" stroke-linejoin="round"/>
<polyline points="392.7,416.6 394.2,414.3 395.8,411.9 397.3,409.4 398.8,406.8 400.3,404.1 401.9,401.3 403.4,398.2 404.9,395.2 406.5,392.5 408.0,390.2 409.5,388.1 411.1,386.0 414.1,381.5 417.2,377.1 420.2,373.4 423.3,370.3 426.4,367.5 429.4,364.7 432.5,361.6 435.5,358.6 438.6,355.9 441.7,353.6 444.7,351.6 447.8,349.8 450.8,348.1 453.9,346.5 460.0,343.5 466.1,341.3 472.3,339.5 478.4,338.3 484.5,337.3 490.6,336.3 496.7,335.2 502.9,334.2 509.0,333.3 515.1,332.4 521.2,331.6 527.3,330.9 533.5,330.2 539.6,329.6 545.7,329.0" fill="none" stroke="#253d3d" stroke-width="1.95" stroke-linejoin="round"/>
<polyline points="392.7,416.6 394.2,414.8 395.8,413.0 397.3,411.2 398.8,409.4 400.3,407.7 401.9,406.0 403.4,404.4 404.9,402.9 406.5,401.3 408.0,399.7 409.5,398.1 411.1,396.3 414.1,392.1 417.2,387.5 420.2,382.7 423.3,378.2 426.4,374.3 429.4,371.2 432.5,368.5 435.5,366.0 438.6,363.7 441.7,361.8 444.7,360.3 447.8,359.3 450.8,358.7 453.9,358.0 460.0,356.0 466.1,354.2 472.3,352.9 478.4,351.8 484.5,350.7 490.6,349.7 496.7,348.7 502.9,347.8 509.0,346.9 515.1,345.9 521.2,345.0 527.3,344.0 533.5,343.0 539.6,342.0 545.7,341.0" fill="none" stroke="#f4a7b9" stroke-width="1.5" stroke-dasharray="1.4,2.2" stroke-linejoin="round"/>
</g>
<rect x="392.70" y="307.70" width="153.00" height="118.60" fill="none" stroke="#bdbdbd" stroke-width="0.8"/>
<line x1="392.70" y1="426.30" x2="392.70" y2="424.80" stroke="#999" stroke-width="0.7"/>
<line x1="392.70" y1="307.70" x2="392.70" y2="309.20" stroke="#999" stroke-width="0.7"/>
<text x="392.70" y="433.50" text-anchor="middle" class="tk">0</text>
<line x1="423.30" y1="426.30" x2="423.30" y2="424.80" stroke="#999" stroke-width="0.7"/>
<line x1="423.30" y1="307.70" x2="423.30" y2="309.20" stroke="#999" stroke-width="0.7"/>
<text x="423.30" y="433.50" text-anchor="middle" class="tk">10</text>
<line x1="453.90" y1="426.30" x2="453.90" y2="424.80" stroke="#999" stroke-width="0.7"/>
<line x1="453.90" y1="307.70" x2="453.90" y2="309.20" stroke="#999" stroke-width="0.7"/>
<text x="453.90" y="433.50" text-anchor="middle" class="tk">20</text>
<line x1="484.50" y1="426.30" x2="484.50" y2="424.80" stroke="#999" stroke-width="0.7"/>
<line x1="484.50" y1="307.70" x2="484.50" y2="309.20" stroke="#999" stroke-width="0.7"/>
<text x="484.50" y="433.50" text-anchor="middle" class="tk">30</text>
<line x1="515.10" y1="426.30" x2="515.10" y2="424.80" stroke="#999" stroke-width="0.7"/>
<line x1="515.10" y1="307.70" x2="515.10" y2="309.20" stroke="#999" stroke-width="0.7"/>
<text x="515.10" y="433.50" text-anchor="middle" class="tk">40</text>
<line x1="545.70" y1="426.30" x2="545.70" y2="424.80" stroke="#999" stroke-width="0.7"/>
<line x1="545.70" y1="307.70" x2="545.70" y2="309.20" stroke="#999" stroke-width="0.7"/>
<text x="545.70" y="433.50" text-anchor="middle" class="tk">50</text>
<line x1="392.70" y1="426.30" x2="394.20" y2="426.30" stroke="#999" stroke-width="0.7"/>
<line x1="545.70" y1="426.30" x2="544.20" y2="426.30" stroke="#999" stroke-width="0.7"/>
<text x="391.30" y="428.30" text-anchor="end" class="tk">0</text>
<line x1="392.70" y1="409.36" x2="394.20" y2="409.36" stroke="#999" stroke-width="0.7"/>
<line x1="545.70" y1="409.36" x2="544.20" y2="409.36" stroke="#999" stroke-width="0.7"/>
<text x="391.30" y="411.36" text-anchor="end" class="tk">0.1</text>
<line x1="392.70" y1="392.41" x2="394.20" y2="392.41" stroke="#999" stroke-width="0.7"/>
<line x1="545.70" y1="392.41" x2="544.20" y2="392.41" stroke="#999" stroke-width="0.7"/>
<text x="391.30" y="394.41" text-anchor="end" class="tk">0.2</text>
<line x1="392.70" y1="375.47" x2="394.20" y2="375.47" stroke="#999" stroke-width="0.7"/>
<line x1="545.70" y1="375.47" x2="544.20" y2="375.47" stroke="#999" stroke-width="0.7"/>
<text x="391.30" y="377.47" text-anchor="end" class="tk">0.3</text>
<line x1="392.70" y1="358.53" x2="394.20" y2="358.53" stroke="#999" stroke-width="0.7"/>
<line x1="545.70" y1="358.53" x2="544.20" y2="358.53" stroke="#999" stroke-width="0.7"/>
<text x="391.30" y="360.53" text-anchor="end" class="tk">0.4</text>
<line x1="392.70" y1="341.59" x2="394.20" y2="341.59" stroke="#999" stroke-width="0.7"/>
<line x1="545.70" y1="341.59" x2="544.20" y2="341.59" stroke="#999" stroke-width="0.7"/>
<text x="391.30" y="343.59" text-anchor="end" class="tk">0.5</text>
<line x1="392.70" y1="324.64" x2="394.20" y2="324.64" stroke="#999" stroke-width="0.7"/>
<line x1="545.70" y1="324.64" x2="544.20" y2="324.64" stroke="#999" stroke-width="0.7"/>
<text x="391.30" y="326.64" text-anchor="end" class="tk">0.6</text>
<line x1="392.70" y1="307.70" x2="394.20" y2="307.70" stroke="#999" stroke-width="0.7"/>
<line x1="545.70" y1="307.70" x2="544.20" y2="307.70" stroke="#999" stroke-width="0.7"/>
<text x="391.30" y="309.70" text-anchor="end" class="tk">0.7</text>
<text x="469.80" y="304.90" text-anchor="middle" class="ti">Precision plots of OPE - Fast Motion (28)</text>
<text x="469.20" y="442.50" text-anchor="middle" class="lb">Location error threshold</text>
<text x="0" y="0" transform="translate(381.40,367.00) rotate(-90)" text-anchor="middle" class="lb">Precision</text>
<rect x="486.80" y="311.70" width="55.10" height="86.00" fill="#fff" stroke="#c8c8c8" stroke-width="0.6"/>
<line x1="488.10" y1="315.10" x2="502.00" y2="315.10" stroke="#ff0000" stroke-width="1.9"/>
<text x="503.70" y="317.10" class="lg">OURS [0.546]</text>
<line x1="488.10" y1="321.18" x2="495.60" y2="321.18" stroke="#00ff00" stroke-width="1.9"/>
<text x="503.70" y="323.18" class="lg">ReCF [0.545]</text>
<rect x="488.45" y="326.41" width="1.7" height="1.7" fill="#0000ff"/>
<rect x="491.90" y="326.41" width="1.7" height="1.7" fill="#0000ff"/>
<rect x="495.35" y="326.41" width="1.7" height="1.7" fill="#0000ff"/>
<rect x="498.80" y="326.41" width="1.7" height="1.7" fill="#0000ff"/>
<text x="503.70" y="329.26" class="lg">EMCF [0.538]</text>
<line x1="488.10" y1="333.34" x2="494.90" y2="333.34" stroke="#000000" stroke-width="1.9"/>
<line x1="497.60" y1="333.34" x2="500.40" y2="333.34" stroke="#000000" stroke-width="1.9"/>
<text x="503.70" y="335.34" class="lg">MSCF [0.538]</text>
<line x1="488.10" y1="339.42" x2="502.00" y2="339.42" stroke="#ff00ff" stroke-width="1.9"/>
<text x="503.70" y="341.42" class="lg">AutoTrack [0.534]</text>
<line x1="488.10" y1="345.50" x2="495.60" y2="345.50" stroke="#00ffff" stroke-width="1.9"/>
<text x="503.70" y="347.50" class="lg">SRDCF [0.524]</text>
<rect x="488.45" y="350.73" width="1.7" height="1.7" fill="#808080"/>
<rect x="491.90" y="350.73" width="1.7" height="1.7" fill="#808080"/>
<rect x="495.35" y="350.73" width="1.7" height="1.7" fill="#808080"/>
<rect x="498.80" y="350.73" width="1.7" height="1.7" fill="#808080"/>
<text x="503.70" y="353.58" class="lg">ARCF-HC [0.515]</text>
<line x1="488.10" y1="357.66" x2="494.90" y2="357.66" stroke="#880015" stroke-width="1.9"/>
<line x1="497.60" y1="357.66" x2="500.40" y2="357.66" stroke="#880015" stroke-width="1.9"/>
<text x="503.70" y="359.66" class="lg">CSR-DCF [0.515]</text>
<line x1="488.10" y1="363.74" x2="502.00" y2="363.74" stroke="#ff7f27" stroke-width="1.9"/>
<text x="503.70" y="365.74" class="lg">DRCF [0.509]</text>
<line x1="488.10" y1="369.82" x2="495.60" y2="369.82" stroke="#00a2e8" stroke-width="1.9"/>
<text x="503.70" y="371.82" class="lg">IBRI [0.508]</text>
<rect x="488.45" y="375.05" width="1.7" height="1.7" fill="#a349a4"/>
<rect x="491.90" y="375.05" width="1.7" height="1.7" fill="#a349a4"/>
<rect x="495.35" y="375.05" width="1.7" height="1.7" fill="#a349a4"/>
<rect x="498.80" y="375.05" width="1.7" height="1.7" fill="#a349a4"/>
<text x="503.70" y="377.90" class="lg">Staple-CA [0.505]</text>
<line x1="488.10" y1="381.98" x2="494.90" y2="381.98" stroke="#ffc90e" stroke-width="1.9"/>
<line x1="497.60" y1="381.98" x2="500.40" y2="381.98" stroke="#ffc90e" stroke-width="1.9"/>
<text x="503.70" y="383.98" class="lg">Staple [0.485]</text>
<line x1="488.10" y1="388.06" x2="502.00" y2="388.06" stroke="#253d3d" stroke-width="1.9"/>
<text x="503.70" y="390.06" class="lg">Staple-MF [0.471]</text>
<rect x="488.45" y="393.29" width="1.7" height="1.7" fill="#f4a7b9"/>
<rect x="491.90" y="393.29" width="1.7" height="1.7" fill="#f4a7b9"/>
<rect x="495.35" y="393.29" width="1.7" height="1.7" fill="#f4a7b9"/>
<rect x="498.80" y="393.29" width="1.7" height="1.7" fill="#f4a7b9"/>
<text x="503.70" y="396.14" class="lg">SAMF [0.403]</text>
<g clip-path="url(#c9)">
<polyline points="22.3,562.6 23.8,560.2 25.4,555.6 26.9,550.6 28.4,545.4 30.0,540.7 31.5,536.5 33.0,532.5 34.5,528.4 36.1,524.6 37.6,521.3 39.1,518.4 40.7,515.7 43.7,510.6 46.8,505.7 49.8,501.2 52.9,497.2 56.0,493.7 59.0,490.6 62.1,487.8 65.1,485.3 68.2,483.2 71.3,481.5 74.3,480.2 77.4,479.0 80.4,478.0 83.5,476.8 89.6,474.7 95.7,473.0 101.9,471.5 108.0,470.4 114.1,469.3 120.2,468.3 126.3,467.3 132.5,466.4 138.6,465.4 144.7,464.5 150.8,463.5 156.9,462.6 163.1,461.6 169.2,460.7 175.3,459.8" fill="none" stroke="#ff0000" stroke-width="2.2" stroke-linejoin="round"/>
<polyline points="22.3,562.6 23.8,560.2 25.4,555.6 26.9,550.8 28.4,545.7 30.0,541.0 31.5,536.9 33.0,532.9 34.5,528.9 36.1,525.2 37.6,522.0 39.1,519.1 40.7,516.4 43.7,511.3 46.8,506.4 49.8,501.8 52.9,497.7 56.0,494.3 59.0,491.2 62.1,488.4 65.1,485.9 68.2,483.8 71.3,482.1 74.3,480.7 77.4,479.6 80.4,478.5 83.5,477.3 89.6,475.2 95.7,473.5 101.9,472.1 108.0,470.9 114.1,469.8 120.2,468.8 126.3,467.8 132.5,466.8 138.6,465.9 144.7,465.0 150.8,464.1 156.9,463.1 163.1,462.2 169.2,461.3 175.3,460.4" fill="none" stroke="#00ff00" stroke-width="1.95" stroke-dasharray="6.5,2.8,0.8,2.8" stroke-linejoin="round"/>
<polyline points="22.3,562.6 23.8,560.2 25.4,555.7 26.9,550.8 28.4,545.8 30.0,541.1 31.5,537.0 33.0,533.1 34.5,529.1 36.1,525.4 37.6,522.2 39.1,519.3 40.7,516.7 43.7,511.6 46.8,506.6 49.8,502.0 52.9,497.9 56.0,494.4 59.0,491.3 62.1,488.6 65.1,486.1 68.2,484.0 71.3,482.3 74.3,480.9 77.4,479.8 80.4,478.6 83.5,477.5 89.6,475.4 95.7,473.7 101.9,472.2 108.0,471.0 114.1,469.9 120.2,468.9 126.3,467.9 132.5,467.0 138.6,466.1 144.7,465.2 150.8,464.2 156.9,463.3 163.1,462.4 169.2,461.5 175.3,460.6" fill="none" stroke="#0000ff" stroke-width="1.95" stroke-dasharray="1.6,2.0" stroke-linejoin="round"/>
<polyline points="22.3,562.6 23.8,560.2 25.4,555.7 26.9,551.0 28.4,546.0 30.0,541.4 31.5,537.4 33.0,533.5 34.5,529.6 36.1,526.0 37.6,522.9 39.1,520.1 40.7,517.4 43.7,512.3 46.8,507.3 49.8,502.6 52.9,498.4 56.0,495.0 59.0,491.9 62.1,489.2 65.1,486.7 68.2,484.6 71.3,482.9 74.3,481.5 77.4,480.3 80.4,479.2 83.5,478.0 89.6,475.9 95.7,474.2 101.9,472.8 108.0,471.5 114.1,470.4 120.2,469.4 126.3,468.4 132.5,467.5 138.6,466.6 144.7,465.7 150.8,464.8 156.9,463.9 163.1,463.0 169.2,462.1 175.3,461.3" fill="none" stroke="#000000" stroke-width="1.95" stroke-dasharray="6,3" stroke-linejoin="round"/>
<polyline points="22.3,562.6 23.8,560.1 25.4,556.2 26.9,552.0 28.4,547.4 30.0,543.2 31.5,539.5 33.0,536.0 34.5,532.7 36.1,529.6 37.6,526.7 39.1,524.1 40.7,521.5 43.7,516.5 46.8,511.3 49.8,505.9 52.9,501.4 56.0,498.0 59.0,495.0 62.1,492.4 65.1,490.1 68.2,488.0 71.3,486.2 74.3,484.7 77.4,483.3 80.4,482.1 83.5,480.9 89.6,478.8 95.7,477.1 101.9,475.7 108.0,474.3 114.1,473.0 120.2,471.9 126.3,471.0 132.5,470.2 138.6,469.3 144.7,468.6 150.8,467.8 156.9,467.0 163.1,466.3 169.2,465.5 175.3,464.8" fill="none" stroke="#ff00ff" stroke-width="1.95" stroke-linejoin="round"/>
<polyline points="22.3,562.6 23.8,560.1 25.4,556.2 26.9,552.0 28.4,547.4 30.0,543.2 31.5,539.5 33.0,536.0 34.5,532.7 36.1,529.6 37.6,526.7 39.1,524.1 40.7,521.5 43.7,516.5 46.8,511.3 49.8,505.9 52.9,501.4 56.0,498.0 59.0,495.0 62.1,492.4 65.1,490.1 68.2,488.0 71.3,486.2 74.3,484.7 77.4,483.3 80.4,482.1 83.5,480.9 89.6,478.8 95.7,477.1 101.9,475.7 108.0,474.3 114.1,473.0 120.2,471.9 126.3,471.0 132.5,470.2 138.6,469.3 144.7,468.6 150.8,467.8 156.9,467.0 163.1,466.3 169.2,465.5 175.3,464.8" fill="none" stroke="#00ffff" stroke-width="1.95" stroke-dasharray="6.5,2.8,0.8,2.8" stroke-linejoin="round"/>
<polyline points="22.3,562.6 23.8,560.1 25.4,556.3 26.9,552.2 28.4,547.6 30.0,543.5 31.5,539.9 33.0,536.5 34.5,533.2 36.1,530.2 37.6,527.4 39.1,524.8 40.7,522.2 43.7,517.2 46.8,512.0 49.8,506.5 52.9,502.0 56.0,498.6 59.0,495.6 62.1,493.0 65.1,490.7 68.2,488.6 71.3,486.8 74.3,485.2 77.4,483.8 80.4,482.6 83.5,481.4 89.6,479.3 95.7,477.6 101.9,476.2 108.0,474.8 114.1,473.4 120.2,472.4 126.3,471.5 132.5,470.6 138.6,469.8 144.7,469.1 150.8,468.3 156.9,467.5 163.1,466.8 169.2,466.1 175.3,465.5" fill="none" stroke="#808080" stroke-width="1.95" stroke-dasharray="1.6,2.0" stroke-linejoin="round"/>
<polyline points="22.3,562.6 23.8,560.1 25.4,556.4 26.9,552.3 28.4,547.9 30.0,543.8 31.5,540.3 33.0,536.9 34.5,533.7 36.1,530.8 37.6,528.1 39.1,525.5 40.7,523.0 43.7,518.0 46.8,512.7 49.8,507.1 52.9,502.5 56.0,499.1 59.0,496.2 62.1,493.6 65.1,491.3 68.2,489.2 71.3,487.4 74.3,485.8 77.4,484.4 80.4,483.1 83.5,481.9 89.6,479.8 95.7,478.1 101.9,476.7 108.0,475.2 114.1,473.9 120.2,472.8 126.3,471.9 132.5,471.1 138.6,470.3 144.7,469.6 150.8,468.8 156.9,468.1 163.1,467.4 169.2,466.7 175.3,466.1" fill="none" stroke="#880015" stroke-width="1.95" stroke-dasharray="6,3" stroke-linejoin="round"/>
<polyline points="22.3,562.6 23.8,560.1 25.4,556.6 26.9,552.7 28.4,548.4 30.0,544.5 31.5,541.0 33.0,537.8 34.5,534.8 36.1,532.0 37.6,529.5 39.1,526.9 40.7,524.4 43.7,519.4 46.8,514.1 49.8,508.3 52.9,503.6 56.0,500.2 59.0,497.3 62.1,494.7 65.1,492.5 68.2,490.4 71.3,488.6 74.3,486.9 77.4,485.5 80.4,484.1 83.5,482.9 89.6,480.8 95.7,479.2 101.9,477.8 108.0,476.2 114.1,474.8 120.2,473.7 126.3,472.8 132.5,472.1 138.6,471.3 144.7,470.6 150.8,469.9 156.9,469.2 163.1,468.6 169.2,467.9 175.3,467.4" fill="none" stroke="#ff7f27" stroke-width="1.95" stroke-linejoin="round"/>
<polyline points="22.3,562.6 23.8,560.1 25.4,556.7 26.9,553.0 28.4,548.9 30.0,545.1 31.5,541.8 33.0,538.7 34.5,535.9 36.1,533.3 37.6,530.8 39.1,528.4 40.7,525.9 43.7,520.9 46.8,515.5 49.8,509.5 52.9,504.6 56.0,501.2 59.0,498.4 62.1,495.9 65.1,493.7 68.2,491.6 71.3,489.7 74.3,488.0 77.4,486.5 80.4,485.2 83.5,483.9 89.6,481.9 95.7,480.2 101.9,478.8 108.0,477.2 114.1,475.7 120.2,474.6 126.3,473.8 132.5,473.0 138.6,472.3 144.7,471.6 150.8,470.9 156.9,470.3 163.1,469.7 169.2,469.1 175.3,468.6" fill="none" stroke="#00a2e8" stroke-width="1.95" stroke-dasharray="6.5,2.8,0.8,2.8" stroke-linejoin="round"/>
<polyline points="22.3,562.6 23.8,560.1 25.4,556.8 26.9,553.2 28.4,549.1 30.0,545.4 31.5,542.1 33.0,539.1 34.5,536.4 36.1,533.9 37.6,531.5 39.1,529.1 40.7,526.6 43.7,521.6 46.8,516.2 49.8,510.1 52.9,505.2 56.0,501.8 59.0,498.9 62.1,496.5 65.1,494.3 68.2,492.2 71.3,490.3 74.3,488.6 77.4,487.1 80.4,485.7 83.5,484.5 89.6,482.4 95.7,480.7 101.9,479.3 108.0,477.7 114.1,476.1 120.2,475.1 126.3,474.2 132.5,473.5 138.6,472.8 144.7,472.1 150.8,471.5 156.9,470.9 163.1,470.3 169.2,469.7 175.3,469.3" fill="none" stroke="#a349a4" stroke-width="1.95" stroke-dasharray="1.6,2.0" stroke-linejoin="round"/>
<polyline points="22.3,562.6 23.8,560.0 25.4,557.0 26.9,553.5 28.4,549.5 30.0,545.9 31.5,542.8 33.0,539.9 34.5,537.3 36.1,535.0 37.6,532.6 39.1,530.3 40.7,527.8 43.7,522.9 46.8,517.4 49.8,511.1 52.9,506.0 56.0,502.7 59.0,499.9 62.1,497.4 65.1,495.3 68.2,493.2 71.3,491.3 74.3,489.5 77.4,487.9 80.4,486.5 83.5,485.3 89.6,483.2 95.7,481.6 101.9,480.2 108.0,478.5 114.1,476.9 120.2,475.9 126.3,475.0 132.5,474.3 138.6,473.6 144.7,473.0 150.8,472.4 156.9,471.8 163.1,471.2 169.2,470.8 175.3,470.3" fill="none" stroke="#ffc90e" stroke-width="1.95" stroke-dasharray="6,3" stroke-linejoin="round"/>
<polyline points="22.3,562.6 23.8,560.0 25.4,557.1 26.9,553.7 28.4,549.9 30.0,546.3 31.5,543.3 33.0,540.5 34.5,538.0 36.1,535.8 37.6,533.6 39.1,531.2 40.7,528.8 43.7,523.8 46.8,518.3 49.8,511.9 52.9,506.7 56.0,503.4 59.0,500.6 62.1,498.2 65.1,496.1 68.2,494.0 71.3,492.1 74.3,490.3 77.4,488.7 80.4,487.2 83.5,486.0 89.6,483.9 95.7,482.3 101.9,480.9 108.0,479.1 114.1,477.5 120.2,476.5 126.3,475.6 132.5,474.9 138.6,474.3 144.7,473.7 150.8,473.1 156.9,472.5 163.1,472.0 169.2,471.6 175.3,471.2" fill="none" stroke="#253d3d" stroke-width="1.95" stroke-linejoin="round"/>
<polyline points="22.3,562.6 23.8,559.7 25.4,556.7 26.9,553.8 28.4,550.9 30.0,547.9 31.5,544.9 33.0,541.7 34.5,538.3 36.1,534.9 37.6,531.6 39.1,528.7 40.7,526.4 43.7,522.2 46.8,518.6 49.8,515.4 52.9,512.6 56.0,509.9 59.0,507.4 62.1,505.1 65.1,503.0 68.2,501.3 71.3,499.8 74.3,498.5 77.4,497.3 80.4,496.2 83.5,495.1 89.6,493.3 95.7,492.0 101.9,491.0 108.0,490.0 114.1,489.1 120.2,488.2 126.3,487.3 132.5,486.5 138.6,485.7 144.7,484.9 150.8,484.1 156.9,483.3 163.1,482.5 169.2,481.7 175.3,480.9" fill="none" stroke="#f4a7b9" stroke-width="1.5" stroke-dasharray="1.4,2.2" stroke-linejoin="round"/>
</g>
<rect x="22.30" y="455.80" width="153.00" height="118.70" fill="none" stroke="#bdbdbd" stroke-width="0.8"/>
<line x1="22.30" y1="574.50" x2="22.30" y2="573.00" stroke="#999" stroke-width="0.7"/>
<line x1="22.30" y1="455.80" x2="22.30" y2="457.30" stroke="#999" stroke-width="0.7"/>
<text x="22.30" y="581.70" text-anchor="middle" class="tk">0</text>
<line x1="52.90" y1="574.50" x2="52.90" y2="573.00" stroke="#999" stroke-width="0.7"/>
<line x1="52.90" y1="455.80" x2="52.90" y2="457.30" stroke="#999" stroke-width="0.7"/>
<text x="52.90" y="581.70" text-anchor="middle" class="tk">10</text>
<line x1="83.50" y1="574.50" x2="83.50" y2="573.00" stroke="#999" stroke-width="0.7"/>
<line x1="83.50" y1="455.80" x2="83.50" y2="457.30" stroke="#999" stroke-width="0.7"/>
<text x="83.50" y="581.70" text-anchor="middle" class="tk">20</text>
<line x1="114.10" y1="574.50" x2="114.10" y2="573.00" stroke="#999" stroke-width="0.7"/>
<line x1="114.10" y1="455.80" x2="114.10" y2="457.30" stroke="#999" stroke-width="0.7"/>
<text x="114.10" y="581.70" text-anchor="middle" class="tk">30</text>
<line x1="144.70" y1="574.50" x2="144.70" y2="573.00" stroke="#999" stroke-width="0.7"/>
<line x1="144.70" y1="455.80" x2="144.70" y2="457.30" stroke="#999" stroke-width="0.7"/>
<text x="144.70" y="581.70" text-anchor="middle" class="tk">40</text>
<line x1="175.30" y1="574.50" x2="175.30" y2="573.00" stroke="#999" stroke-width="0.7"/>
<line x1="175.30" y1="455.80" x2="175.30" y2="457.30" stroke="#999" stroke-width="0.7"/>
<text x="175.30" y="581.70" text-anchor="middle" class="tk">50</text>
<line x1="22.30" y1="574.50" x2="23.80" y2="574.50" stroke="#999" stroke-width="0.7"/>
<line x1="175.30" y1="574.50" x2="173.80" y2="574.50" stroke="#999" stroke-width="0.7"/>
<text x="20.90" y="576.50" text-anchor="end" class="tk">0</text>
<line x1="22.30" y1="557.54" x2="23.80" y2="557.54" stroke="#999" stroke-width="0.7"/>
<line x1="175.30" y1="557.54" x2="173.80" y2="557.54" stroke="#999" stroke-width="0.7"/>
<text x="20.90" y="559.54" text-anchor="end" class="tk">0.1</text>
<line x1="22.30" y1="540.59" x2="23.80" y2="540.59" stroke="#999" stroke-width="0.7"/>
<line x1="175.30" y1="540.59" x2="173.80" y2="540.59" stroke="#999" stroke-width="0.7"/>
<text x="20.90" y="542.59" text-anchor="end" class="tk">0.2</text>
<line x1="22.30" y1="523.63" x2="23.80" y2="523.63" stroke="#999" stroke-width="0.7"/>
<line x1="175.30" y1="523.63" x2="173.80" y2="523.63" stroke="#999" stroke-width="0.7"/>
<text x="20.90" y="525.63" text-anchor="end" class="tk">0.3</text>
<line x1="22.30" y1="506.67" x2="23.80" y2="506.67" stroke="#999" stroke-width="0.7"/>
<line x1="175.30" y1="506.67" x2="173.80" y2="506.67" stroke="#999" stroke-width="0.7"/>
<text x="20.90" y="508.67" text-anchor="end" class="tk">0.4</text>
<line x1="22.30" y1="489.71" x2="23.80" y2="489.71" stroke="#999" stroke-width="0.7"/>
<line x1="175.30" y1="489.71" x2="173.80" y2="489.71" stroke="#999" stroke-width="0.7"/>
<text x="20.90" y="491.71" text-anchor="end" class="tk">0.5</text>
<line x1="22.30" y1="472.76" x2="23.80" y2="472.76" stroke="#999" stroke-width="0.7"/>
<line x1="175.30" y1="472.76" x2="173.80" y2="472.76" stroke="#999" stroke-width="0.7"/>
<text x="20.90" y="474.76" text-anchor="end" class="tk">0.6</text>
<line x1="22.30" y1="455.80" x2="23.80" y2="455.80" stroke="#999" stroke-width="0.7"/>
<line x1="175.30" y1="455.80" x2="173.80" y2="455.80" stroke="#999" stroke-width="0.7"/>
<text x="20.90" y="457.80" text-anchor="end" class="tk">0.7</text>
<text x="99.40" y="453.00" text-anchor="middle" class="ti">Precision plots of OPE - Out-of-View (30)</text>
<text x="98.80" y="590.70" text-anchor="middle" class="lb">Location error threshold</text>
<text x="0" y="0" transform="translate(11.00,515.15) rotate(-90)" text-anchor="middle" class="lb">Precision</text>
<rect x="116.40" y="459.80" width="55.10" height="86.00" fill="#fff" stroke="#c8c8c8" stroke-width="0.6"/>
<line x1="117.70" y1="463.20" x2="131.60" y2="463.20" stroke="#ff0000" stroke-width="1.9"/>
<text x="133.30" y="465.20" class="lg">SRDCF [0.576]</text>
<line x1="117.70" y1="469.28" x2="125.20" y2="469.28" stroke="#00ff00" stroke-width="1.9"/>
<text x="133.30" y="471.28" class="lg">AutoTrack [0.573]</text>
<rect x="118.05" y="474.51" width="1.7" height="1.7" fill="#0000ff"/>
<rect x="121.50" y="474.51" width="1.7" height="1.7" fill="#0000ff"/>
<rect x="124.95" y="474.51" width="1.7" height="1.7" fill="#0000ff"/>
<rect x="128.40" y="474.51" width="1.7" height="1.7" fill="#0000ff"/>
<text x="133.30" y="477.36" class="lg">MSCF [0.572]</text>
<line x1="117.70" y1="481.44" x2="124.50" y2="481.44" stroke="#000000" stroke-width="1.9"/>
<line x1="127.20" y1="481.44" x2="130.00" y2="481.44" stroke="#000000" stroke-width="1.9"/>
<text x="133.30" y="483.44" class="lg">OURS [0.569]</text>
<line x1="117.70" y1="487.52" x2="131.60" y2="487.52" stroke="#ff00ff" stroke-width="1.9"/>
<text x="133.30" y="489.52" class="lg">ReCF [0.552]</text>
<line x1="117.70" y1="493.60" x2="125.20" y2="493.60" stroke="#00ffff" stroke-width="1.9"/>
<text x="133.30" y="495.60" class="lg">IBRI [0.552]</text>
<rect x="118.05" y="498.83" width="1.7" height="1.7" fill="#808080"/>
<rect x="121.50" y="498.83" width="1.7" height="1.7" fill="#808080"/>
<rect x="124.95" y="498.83" width="1.7" height="1.7" fill="#808080"/>
<rect x="128.40" y="498.83" width="1.7" height="1.7" fill="#808080"/>
<text x="133.30" y="501.68" class="lg">Staple-CA [0.549]</text>
<line x1="117.70" y1="505.76" x2="124.50" y2="505.76" stroke="#880015" stroke-width="1.9"/>
<line x1="127.20" y1="505.76" x2="130.00" y2="505.76" stroke="#880015" stroke-width="1.9"/>
<text x="133.30" y="507.76" class="lg">EMCF [0.546]</text>
<line x1="117.70" y1="511.84" x2="131.60" y2="511.84" stroke="#ff7f27" stroke-width="1.9"/>
<text x="133.30" y="513.84" class="lg">Staple-MF [0.540]</text>
<line x1="117.70" y1="517.92" x2="125.20" y2="517.92" stroke="#00a2e8" stroke-width="1.9"/>
<text x="133.30" y="519.92" class="lg">DRCF [0.534]</text>
<rect x="118.05" y="523.15" width="1.7" height="1.7" fill="#a349a4"/>
<rect x="121.50" y="523.15" width="1.7" height="1.7" fill="#a349a4"/>
<rect x="124.95" y="523.15" width="1.7" height="1.7" fill="#a349a4"/>
<rect x="128.40" y="523.15" width="1.7" height="1.7" fill="#a349a4"/>
<text x="133.30" y="526.00" class="lg">ARCF-HC [0.531]</text>
<line x1="117.70" y1="530.08" x2="124.50" y2="530.08" stroke="#ffc90e" stroke-width="1.9"/>
<line x1="127.20" y1="530.08" x2="130.00" y2="530.08" stroke="#ffc90e" stroke-width="1.9"/>
<text x="133.30" y="532.08" class="lg">Staple [0.526]</text>
<line x1="117.70" y1="536.16" x2="131.60" y2="536.16" stroke="#253d3d" stroke-width="1.9"/>
<text x="133.30" y="538.16" class="lg">CSR-DCF [0.522]</text>
<rect x="118.05" y="541.39" width="1.7" height="1.7" fill="#f4a7b9"/>
<rect x="121.50" y="541.39" width="1.7" height="1.7" fill="#f4a7b9"/>
<rect x="124.95" y="541.39" width="1.7" height="1.7" fill="#f4a7b9"/>
<rect x="128.40" y="541.39" width="1.7" height="1.7" fill="#f4a7b9"/>
<text x="133.30" y="544.24" class="lg">SAMF [0.468]</text>
<g clip-path="url(#c10)">
<polyline points="209.2,564.3 210.7,554.3 212.3,544.2 213.8,533.3 215.3,520.6 216.8,511.0 218.4,505.2 219.9,501.2 221.4,498.3 223.0,496.1 224.5,494.4 226.0,493.1 227.6,491.9 230.6,489.6 233.7,487.1 236.7,484.2 239.8,478.9 242.9,476.6 245.9,475.1 249.0,473.5 252.0,472.0 255.1,470.6 258.2,468.5 261.2,467.1 264.3,466.5 267.3,466.1 270.4,465.8 276.5,465.2 282.6,464.6 288.8,464.1 294.9,463.7 301.0,463.3 307.1,462.9 313.2,462.5 319.4,462.1 325.5,461.7 331.6,461.3 337.7,460.9 343.8,460.5 350.0,460.1 356.1,459.6 362.2,459.2" fill="none" stroke="#ff0000" stroke-width="2.2" stroke-linejoin="round"/>
<polyline points="209.2,564.3 210.7,554.7 212.3,544.9 213.8,534.3 215.3,521.8 216.8,513.1 218.4,507.7 219.9,504.0 221.4,501.4 223.0,499.4 224.5,497.8 226.0,496.4 227.6,495.1 230.6,492.5 233.7,489.9 236.7,487.1 239.8,482.9 242.9,481.1 245.9,479.9 249.0,478.5 252.0,477.2 255.1,476.2 258.2,474.8 261.2,473.8 264.3,473.3 267.3,472.8 270.4,472.4 276.5,471.7 282.6,471.2 288.8,470.7 294.9,470.3 301.0,469.9 307.1,469.4 313.2,468.9 319.4,468.5 325.5,468.0 331.6,467.5 337.7,467.0 343.8,466.6 350.0,466.1 356.1,465.6 362.2,465.2" fill="none" stroke="#00ff00" stroke-width="1.95" stroke-dasharray="6.5,2.8,0.8,2.8" stroke-linejoin="round"/>
<polyline points="209.2,564.3 210.7,554.8 212.3,545.0 213.8,534.3 215.3,521.9 216.8,513.2 218.4,507.9 219.9,504.3 221.4,501.7 223.0,499.6 224.5,498.0 226.0,496.6 227.6,495.3 230.6,492.8 233.7,490.1 236.7,487.3 239.8,483.2 242.9,481.5 245.9,480.3 249.0,478.8 252.0,477.6 255.1,476.6 258.2,475.3 261.2,474.3 264.3,473.8 267.3,473.3 270.4,472.9 276.5,472.3 282.6,471.7 288.8,471.3 294.9,470.8 301.0,470.4 307.1,469.9 313.2,469.4 319.4,468.9 325.5,468.5 331.6,468.0 337.7,467.5 343.8,467.0 350.0,466.6 356.1,466.1 362.2,465.6" fill="none" stroke="#0000ff" stroke-width="1.95" stroke-dasharray="1.6,2.0" stroke-linejoin="round"/>
<polyline points="209.2,564.3 210.7,554.8 212.3,545.1 213.8,534.5 215.3,522.1 216.8,513.7 218.4,508.4 219.9,504.8 221.4,502.3 223.0,500.3 224.5,498.7 226.0,497.3 227.6,496.0 230.6,493.4 233.7,490.7 236.7,487.9 239.8,484.0 242.9,482.4 245.9,481.3 249.0,479.9 252.0,478.7 255.1,477.8 258.2,476.6 261.2,475.7 264.3,475.2 267.3,474.7 270.4,474.3 276.5,473.6 282.6,473.1 288.8,472.6 294.9,472.2 301.0,471.7 307.1,471.2 313.2,470.7 319.4,470.2 325.5,469.7 331.6,469.3 337.7,468.8 343.8,468.3 350.0,467.8 356.1,467.3 362.2,466.9" fill="none" stroke="#000000" stroke-width="1.95" stroke-dasharray="6,3" stroke-linejoin="round"/>
<polyline points="209.2,564.3 210.7,554.9 212.3,545.2 213.8,534.6 215.3,522.2 216.8,513.8 218.4,508.6 219.9,505.0 221.4,502.5 223.0,500.5 224.5,498.9 226.0,497.6 227.6,496.2 230.6,493.6 233.7,490.9 236.7,488.1 239.8,484.3 242.9,482.8 245.9,481.7 249.0,480.2 252.0,479.1 255.1,478.2 258.2,477.0 261.2,476.2 264.3,475.7 267.3,475.2 270.4,474.8 276.5,474.1 282.6,473.6 288.8,473.1 294.9,472.7 301.0,472.2 307.1,471.7 313.2,471.2 319.4,470.7 325.5,470.2 331.6,469.7 337.7,469.2 343.8,468.8 350.0,468.3 356.1,467.8 362.2,467.3" fill="none" stroke="#ff00ff" stroke-width="1.95" stroke-linejoin="round"/>
<polyline points="209.2,564.3 210.7,555.0 212.3,545.3 213.8,534.8 215.3,522.5 216.8,514.3 218.4,509.2 219.9,505.7 221.4,503.3 223.0,501.3 224.5,499.7 226.0,498.3 227.6,496.9 230.6,494.3 233.7,491.6 236.7,488.8 239.8,485.2 242.9,483.8 245.9,482.8 249.0,481.4 252.0,480.3 255.1,479.5 258.2,478.5 261.2,477.7 264.3,477.2 267.3,476.8 270.4,476.3 276.5,475.6 282.6,475.1 288.8,474.6 294.9,474.2 301.0,473.7 307.1,473.2 313.2,472.7 319.4,472.2 325.5,471.7 331.6,471.1 337.7,470.7 343.8,470.2 350.0,469.7 356.1,469.2 362.2,468.7" fill="none" stroke="#00ffff" stroke-width="1.95" stroke-dasharray="6.5,2.8,0.8,2.8" stroke-linejoin="round"/>
<polyline points="209.2,564.3 210.7,555.0 212.3,545.3 213.8,534.8 215.3,522.5 216.8,514.3 218.4,509.2 219.9,505.7 221.4,503.3 223.0,501.3 224.5,499.7 226.0,498.3 227.6,496.9 230.6,494.3 233.7,491.6 236.7,488.8 239.8,485.2 242.9,483.8 245.9,482.8 249.0,481.4 252.0,480.3 255.1,479.5 258.2,478.5 261.2,477.7 264.3,477.2 267.3,476.8 270.4,476.3 276.5,475.6 282.6,475.1 288.8,474.6 294.9,474.2 301.0,473.7 307.1,473.2 313.2,472.7 319.4,472.2 325.5,471.7 331.6,471.1 337.7,470.7 343.8,470.2 350.0,469.7 356.1,469.2 362.2,468.7" fill="none" stroke="#808080" stroke-width="1.95" stroke-dasharray="1.6,2.0" stroke-linejoin="round"/>
<polyline points="209.2,564.3 210.7,555.0 212.3,545.3 213.8,534.8 215.3,522.5 216.8,514.3 218.4,509.2 219.9,505.7 221.4,503.3 223.0,501.3 224.5,499.7 226.0,498.3 227.6,496.9 230.6,494.3 233.7,491.6 236.7,488.8 239.8,485.2 242.9,483.8 245.9,482.8 249.0,481.4 252.0,480.3 255.1,479.5 258.2,478.5 261.2,477.7 264.3,477.2 267.3,476.8 270.4,476.3 276.5,475.6 282.6,475.1 288.8,474.6 294.9,474.2 301.0,473.7 307.1,473.2 313.2,472.7 319.4,472.2 325.5,471.7 331.6,471.1 337.7,470.7 343.8,470.2 350.0,469.7 356.1,469.2 362.2,468.7" fill="none" stroke="#880015" stroke-width="1.95" stroke-dasharray="6,3" stroke-linejoin="round"/>
<polyline points="209.2,564.3 210.7,555.0 212.3,545.4 213.8,534.9 215.3,522.6 216.8,514.5 218.4,509.5 219.9,506.0 221.4,503.6 223.0,501.6 224.5,500.1 226.0,498.6 227.6,497.3 230.6,494.6 233.7,491.8 236.7,489.1 239.8,485.6 242.9,484.3 245.9,483.3 249.0,481.9 252.0,480.8 255.1,480.0 258.2,479.1 261.2,478.4 264.3,477.9 267.3,477.4 270.4,477.0 276.5,476.3 282.6,475.8 288.8,475.3 294.9,474.9 301.0,474.4 307.1,473.9 313.2,473.4 319.4,472.8 325.5,472.3 331.6,471.8 337.7,471.3 343.8,470.8 350.0,470.3 356.1,469.8 362.2,469.4" fill="none" stroke="#ff7f27" stroke-width="1.95" stroke-linejoin="round"/>
<polyline points="209.2,564.3 210.7,555.1 212.3,545.6 213.8,535.2 215.3,522.9 216.8,515.0 218.4,510.1 219.9,506.7 221.4,504.4 223.0,502.5 224.5,500.9 226.0,499.5 227.6,498.1 230.6,495.3 233.7,492.6 236.7,489.8 239.8,486.7 242.9,485.4 245.9,484.5 249.0,483.1 252.0,482.2 255.1,481.5 258.2,480.7 261.2,480.1 264.3,479.7 267.3,479.2 270.4,478.7 276.5,478.0 282.6,477.5 288.8,477.0 294.9,476.6 301.0,476.1 307.1,475.6 313.2,475.0 319.4,474.4 325.5,473.9 331.6,473.4 337.7,472.9 343.8,472.3 350.0,471.9 356.1,471.4 362.2,470.9" fill="none" stroke="#00a2e8" stroke-width="1.95" stroke-dasharray="6.5,2.8,0.8,2.8" stroke-linejoin="round"/>
<polyline points="209.2,564.3 210.7,555.1 212.3,545.6 213.8,535.2 215.3,522.9 216.8,515.0 218.4,510.1 219.9,506.7 221.4,504.4 223.0,502.5 224.5,500.9 226.0,499.5 227.6,498.1 230.6,495.3 233.7,492.6 236.7,489.8 239.8,486.7 242.9,485.4 245.9,484.5 249.0,483.1 252.0,482.2 255.1,481.5 258.2,480.7 261.2,480.1 264.3,479.7 267.3,479.2 270.4,478.7 276.5,478.0 282.6,477.5 288.8,477.0 294.9,476.6 301.0,476.1 307.1,475.6 313.2,475.0 319.4,474.4 325.5,473.9 331.6,473.4 337.7,472.9 343.8,472.3 350.0,471.9 356.1,471.4 362.2,470.9" fill="none" stroke="#a349a4" stroke-width="1.95" stroke-dasharray="1.6,2.0" stroke-linejoin="round"/>
<polyline points="209.2,564.3 210.7,555.4 212.3,546.0 213.8,535.7 215.3,523.6 216.8,516.2 218.4,511.5 219.9,508.3 221.4,506.1 223.0,504.3 224.5,502.8 226.0,501.3 227.6,499.9 230.6,497.0 233.7,494.2 236.7,491.5 239.8,488.9 242.9,488.0 245.9,487.2 249.0,485.9 252.0,485.1 255.1,484.6 258.2,484.3 261.2,483.9 264.3,483.5 267.3,482.9 270.4,482.4 276.5,481.7 282.6,481.2 288.8,480.7 294.9,480.3 301.0,479.8 307.1,479.2 313.2,478.6 319.4,478.0 325.5,477.4 331.6,476.8 337.7,476.3 343.8,475.8 350.0,475.3 356.1,474.8 362.2,474.3" fill="none" stroke="#ffc90e" stroke-width="1.95" stroke-dasharray="6,3" stroke-linejoin="round"/>
<polyline points="209.2,564.3 210.7,555.4 212.3,546.1 213.8,535.7 215.3,523.6 216.8,516.2 218.4,511.6 219.9,508.4 221.4,506.2 223.0,504.4 224.5,502.9 226.0,501.4 227.6,499.9 230.6,497.0 233.7,494.2 236.7,491.5 239.8,489.0 242.9,488.1 245.9,487.3 249.0,486.1 252.0,485.2 255.1,484.8 258.2,484.4 261.2,484.1 264.3,483.6 267.3,483.1 270.4,482.6 276.5,481.9 282.6,481.3 288.8,480.9 294.9,480.5 301.0,480.0 307.1,479.4 313.2,478.8 319.4,478.2 325.5,477.6 331.6,477.0 337.7,476.5 343.8,475.9 350.0,475.4 356.1,474.9 362.2,474.5" fill="none" stroke="#253d3d" stroke-width="1.95" stroke-linejoin="round"/>
<polyline points="209.2,565.2 210.7,560.5 212.3,554.9 213.8,548.5 215.3,540.2 216.8,532.2 218.4,526.6 219.9,522.0 221.4,519.1 223.0,517.2 224.5,515.8 226.0,514.7 227.6,513.9 230.6,512.7 233.7,511.7 236.7,510.7 239.8,509.8 242.9,508.8 245.9,507.9 249.0,507.0 252.0,506.1 255.1,505.3 258.2,504.3 261.2,503.4 264.3,502.6 267.3,501.9 270.4,501.4 276.5,500.7 282.6,500.2 288.8,499.8 294.9,499.4 301.0,498.8 307.1,498.2 313.2,497.6 319.4,496.9 325.5,496.2 331.6,495.5 337.7,494.8 343.8,494.1 350.0,493.3 356.1,492.6 362.2,491.8" fill="none" stroke="#f4a7b9" stroke-width="1.5" stroke-dasharray="1.4,2.2" stroke-linejoin="round"/>
</g>
<rect x="209.20" y="455.80" width="153.00" height="118.70" fill="none" stroke="#bdbdbd" stroke-width="0.8"/>
<line x1="209.20" y1="574.50" x2="209.20" y2="573.00" stroke="#999" stroke-width="0.7"/>
<line x1="209.20" y1="455.80" x2="209.20" y2="457.30" stroke="#999" stroke-width="0.7"/>
<text x="209.20" y="581.70" text-anchor="middle" class="tk">0</text>
<line x1="239.80" y1="574.50" x2="239.80" y2="573.00" stroke="#999" stroke-width="0.7"/>
<line x1="239.80" y1="455.80" x2="239.80" y2="457.30" stroke="#999" stroke-width="0.7"/>
<text x="239.80" y="581.70" text-anchor="middle" class="tk">10</text>
<line x1="270.40" y1="574.50" x2="270.40" y2="573.00" stroke="#999" stroke-width="0.7"/>
<line x1="270.40" y1="455.80" x2="270.40" y2="457.30" stroke="#999" stroke-width="0.7"/>
<text x="270.40" y="581.70" text-anchor="middle" class="tk">20</text>
<line x1="301.00" y1="574.50" x2="301.00" y2="573.00" stroke="#999" stroke-width="0.7"/>
<line x1="301.00" y1="455.80" x2="301.00" y2="457.30" stroke="#999" stroke-width="0.7"/>
<text x="301.00" y="581.70" text-anchor="middle" class="tk">30</text>
<line x1="331.60" y1="574.50" x2="331.60" y2="573.00" stroke="#999" stroke-width="0.7"/>
<line x1="331.60" y1="455.80" x2="331.60" y2="457.30" stroke="#999" stroke-width="0.7"/>
<text x="331.60" y="581.70" text-anchor="middle" class="tk">40</text>
<line x1="362.20" y1="574.50" x2="362.20" y2="573.00" stroke="#999" stroke-width="0.7"/>
<line x1="362.20" y1="455.80" x2="362.20" y2="457.30" stroke="#999" stroke-width="0.7"/>
<text x="362.20" y="581.70" text-anchor="middle" class="tk">50</text>
<line x1="209.20" y1="574.50" x2="210.70" y2="574.50" stroke="#999" stroke-width="0.7"/>
<line x1="362.20" y1="574.50" x2="360.70" y2="574.50" stroke="#999" stroke-width="0.7"/>
<text x="207.80" y="576.50" text-anchor="end" class="tk">0</text>
<line x1="209.20" y1="557.54" x2="210.70" y2="557.54" stroke="#999" stroke-width="0.7"/>
<line x1="362.20" y1="557.54" x2="360.70" y2="557.54" stroke="#999" stroke-width="0.7"/>
<text x="207.80" y="559.54" text-anchor="end" class="tk">0.1</text>
<line x1="209.20" y1="540.59" x2="210.70" y2="540.59" stroke="#999" stroke-width="0.7"/>
<line x1="362.20" y1="540.59" x2="360.70" y2="540.59" stroke="#999" stroke-width="0.7"/>
<text x="207.80" y="542.59" text-anchor="end" class="tk">0.2</text>
<line x1="209.20" y1="523.63" x2="210.70" y2="523.63" stroke="#999" stroke-width="0.7"/>
<line x1="362.20" y1="523.63" x2="360.70" y2="523.63" stroke="#999" stroke-width="0.7"/>
<text x="207.80" y="525.63" text-anchor="end" class="tk">0.3</text>
<line x1="209.20" y1="506.67" x2="210.70" y2="506.67" stroke="#999" stroke-width="0.7"/>
<line x1="362.20" y1="506.67" x2="360.70" y2="506.67" stroke="#999" stroke-width="0.7"/>
<text x="207.80" y="508.67" text-anchor="end" class="tk">0.4</text>
<line x1="209.20" y1="489.71" x2="210.70" y2="489.71" stroke="#999" stroke-width="0.7"/>
<line x1="362.20" y1="489.71" x2="360.70" y2="489.71" stroke="#999" stroke-width="0.7"/>
<text x="207.80" y="491.71" text-anchor="end" class="tk">0.5</text>
<line x1="209.20" y1="472.76" x2="210.70" y2="472.76" stroke="#999" stroke-width="0.7"/>
<line x1="362.20" y1="472.76" x2="360.70" y2="472.76" stroke="#999" stroke-width="0.7"/>
<text x="207.80" y="474.76" text-anchor="end" class="tk">0.6</text>
<line x1="209.20" y1="455.80" x2="210.70" y2="455.80" stroke="#999" stroke-width="0.7"/>
<line x1="362.20" y1="455.80" x2="360.70" y2="455.80" stroke="#999" stroke-width="0.7"/>
<text x="207.80" y="457.80" text-anchor="end" class="tk">0.7</text>
<text x="286.30" y="453.00" text-anchor="middle" class="ti">Precision plots of OPE - Low Resolution (48)</text>
<text x="285.70" y="590.70" text-anchor="middle" class="lb">Location error threshold</text>
<text x="0" y="0" transform="translate(197.90,515.15) rotate(-90)" text-anchor="middle" class="lb">Precision</text>
<rect x="303.30" y="459.80" width="55.10" height="86.00" fill="#fff" stroke="#c8c8c8" stroke-width="0.6"/>
<line x1="304.60" y1="463.20" x2="318.50" y2="463.20" stroke="#ff0000" stroke-width="1.9"/>
<text x="320.20" y="465.20" class="lg">OURS [0.641]</text>
<line x1="304.60" y1="469.28" x2="312.10" y2="469.28" stroke="#00ff00" stroke-width="1.9"/>
<text x="320.20" y="471.28" class="lg">DRCF [0.602]</text>
<rect x="304.95" y="474.51" width="1.7" height="1.7" fill="#0000ff"/>
<rect x="308.40" y="474.51" width="1.7" height="1.7" fill="#0000ff"/>
<rect x="311.85" y="474.51" width="1.7" height="1.7" fill="#0000ff"/>
<rect x="315.30" y="474.51" width="1.7" height="1.7" fill="#0000ff"/>
<text x="320.20" y="477.36" class="lg">IBRI [0.599]</text>
<line x1="304.60" y1="481.44" x2="311.40" y2="481.44" stroke="#000000" stroke-width="1.9"/>
<line x1="314.10" y1="481.44" x2="316.90" y2="481.44" stroke="#000000" stroke-width="1.9"/>
<text x="320.20" y="483.44" class="lg">ReCF [0.591]</text>
<line x1="304.60" y1="487.52" x2="318.50" y2="487.52" stroke="#ff00ff" stroke-width="1.9"/>
<text x="320.20" y="489.52" class="lg">AutoTrack [0.588]</text>
<line x1="304.60" y1="493.60" x2="312.10" y2="493.60" stroke="#00ffff" stroke-width="1.9"/>
<text x="320.20" y="495.60" class="lg">EMCF [0.579]</text>
<rect x="304.95" y="498.83" width="1.7" height="1.7" fill="#808080"/>
<rect x="308.40" y="498.83" width="1.7" height="1.7" fill="#808080"/>
<rect x="311.85" y="498.83" width="1.7" height="1.7" fill="#808080"/>
<rect x="315.30" y="498.83" width="1.7" height="1.7" fill="#808080"/>
<text x="320.20" y="501.68" class="lg">CSR-DCF [0.579]</text>
<line x1="304.60" y1="505.76" x2="311.40" y2="505.76" stroke="#880015" stroke-width="1.9"/>
<line x1="314.10" y1="505.76" x2="316.90" y2="505.76" stroke="#880015" stroke-width="1.9"/>
<text x="320.20" y="507.76" class="lg">SRDCF [0.579]</text>
<line x1="304.60" y1="511.84" x2="318.50" y2="511.84" stroke="#ff7f27" stroke-width="1.9"/>
<text x="320.20" y="513.84" class="lg">MSCF [0.575]</text>
<line x1="304.60" y1="517.92" x2="312.10" y2="517.92" stroke="#00a2e8" stroke-width="1.9"/>
<text x="320.20" y="519.92" class="lg">Staple-MF [0.565]</text>
<rect x="304.95" y="523.15" width="1.7" height="1.7" fill="#a349a4"/>
<rect x="308.40" y="523.15" width="1.7" height="1.7" fill="#a349a4"/>
<rect x="311.85" y="523.15" width="1.7" height="1.7" fill="#a349a4"/>
<rect x="315.30" y="523.15" width="1.7" height="1.7" fill="#a349a4"/>
<text x="320.20" y="526.00" class="lg">ARCF-HC [0.565]</text>
<line x1="304.60" y1="530.08" x2="311.40" y2="530.08" stroke="#ffc90e" stroke-width="1.9"/>
<line x1="314.10" y1="530.08" x2="316.90" y2="530.08" stroke="#ffc90e" stroke-width="1.9"/>
<text x="320.20" y="532.08" class="lg">Staple-CA [0.543]</text>
<line x1="304.60" y1="536.16" x2="318.50" y2="536.16" stroke="#253d3d" stroke-width="1.9"/>
<text x="320.20" y="538.16" class="lg">Staple [0.542]</text>
<rect x="304.95" y="541.39" width="1.7" height="1.7" fill="#f4a7b9"/>
<rect x="308.40" y="541.39" width="1.7" height="1.7" fill="#f4a7b9"/>
<rect x="311.85" y="541.39" width="1.7" height="1.7" fill="#f4a7b9"/>
<rect x="315.30" y="541.39" width="1.7" height="1.7" fill="#f4a7b9"/>
<text x="320.20" y="544.24" class="lg">SAMF [0.431]</text>
<g clip-path="url(#c11)">
<polyline points="392.7,567.8 394.2,563.3 395.8,558.1 397.3,552.4 398.8,546.0 400.3,538.8 401.9,531.6 403.4,525.6 404.9,520.9 406.5,517.3 408.0,514.3 409.5,511.8 411.1,509.6 414.1,505.7 417.2,501.5 420.2,497.0 423.3,493.2 426.4,490.3 429.4,487.9 432.5,485.5 435.5,482.9 438.6,480.4 441.7,478.3 444.7,476.6 447.8,475.0 450.8,473.8 453.9,472.7 460.0,471.0 466.1,469.3 472.3,467.9 478.4,466.7 484.5,465.7 490.6,465.0 496.7,464.4 502.9,463.8 509.0,463.4 515.1,462.9 521.2,462.5 527.3,462.1 533.5,461.7 539.6,461.4 545.7,461.1" fill="none" stroke="#ff0000" stroke-width="2.2" stroke-linejoin="round"/>
<polyline points="392.7,567.8 394.2,563.5 395.8,558.5 397.3,552.9 398.8,546.4 400.3,539.4 401.9,532.6 403.4,527.2 404.9,523.0 406.5,519.7 408.0,516.9 409.5,514.4 411.1,512.2 414.1,508.1 417.2,503.9 420.2,499.5 423.3,495.8 426.4,493.0 429.4,490.5 432.5,488.2 435.5,485.8 438.6,483.4 441.7,481.3 444.7,479.4 447.8,477.7 450.8,476.4 453.9,475.4 460.0,473.7 466.1,472.2 472.3,470.8 478.4,469.7 484.5,468.7 490.6,468.0 496.7,467.3 502.9,466.7 509.0,466.2 515.1,465.7 521.2,465.2 527.3,464.8 533.5,464.4 539.6,464.0 545.7,463.7" fill="none" stroke="#00ff00" stroke-width="1.95" stroke-dasharray="6.5,2.8,0.8,2.8" stroke-linejoin="round"/>
<polyline points="392.7,567.8 394.2,563.6 395.8,558.7 397.3,553.2 398.8,546.7 400.3,539.8 401.9,533.2 403.4,528.1 404.9,524.1 406.5,521.0 408.0,518.3 409.5,515.9 411.1,513.6 414.1,509.5 417.2,505.2 420.2,500.8 423.3,497.2 426.4,494.4 429.4,492.0 432.5,489.7 435.5,487.4 438.6,485.0 441.7,482.9 444.7,480.9 447.8,479.2 450.8,477.9 453.9,476.9 460.0,475.3 466.1,473.8 472.3,472.5 478.4,471.3 484.5,470.4 490.6,469.6 496.7,468.9 502.9,468.3 509.0,467.7 515.1,467.2 521.2,466.7 527.3,466.3 533.5,465.9 539.6,465.5 545.7,465.2" fill="none" stroke="#0000ff" stroke-width="1.95" stroke-dasharray="1.6,2.0" stroke-linejoin="round"/>
<polyline points="392.7,567.8 394.2,563.8 395.8,558.9 397.3,553.4 398.8,546.9 400.3,540.1 401.9,533.7 403.4,529.0 404.9,525.2 406.5,522.2 408.0,519.6 409.5,517.2 411.1,514.9 414.1,510.7 417.2,506.4 420.2,502.1 423.3,498.5 426.4,495.7 429.4,493.3 432.5,491.1 435.5,488.8 438.6,486.5 441.7,484.4 444.7,482.3 447.8,480.6 450.8,479.2 453.9,478.2 460.0,476.6 466.1,475.2 472.3,474.0 478.4,472.8 484.5,471.8 490.6,471.1 496.7,470.3 502.9,469.7 509.0,469.1 515.1,468.6 521.2,468.1 527.3,467.6 533.5,467.2 539.6,466.8 545.7,466.5" fill="none" stroke="#000000" stroke-width="1.95" stroke-dasharray="6,3" stroke-linejoin="round"/>
<polyline points="392.7,567.8 394.2,563.8 395.8,559.0 397.3,553.5 398.8,547.0 400.3,540.1 401.9,533.9 403.4,529.2 404.9,525.4 406.5,522.4 408.0,519.9 409.5,517.5 411.1,515.2 414.1,511.0 417.2,506.6 420.2,502.3 423.3,498.8 426.4,496.0 429.4,493.6 432.5,491.4 435.5,489.1 438.6,486.9 441.7,484.7 444.7,482.6 447.8,480.9 450.8,479.5 453.9,478.5 460.0,477.0 466.1,475.5 472.3,474.3 478.4,473.2 484.5,472.2 490.6,471.4 496.7,470.7 502.9,470.0 509.0,469.4 515.1,468.9 521.2,468.4 527.3,467.9 533.5,467.5 539.6,467.1 545.7,466.8" fill="none" stroke="#ff00ff" stroke-width="1.95" stroke-linejoin="round"/>
<polyline points="392.7,567.8 394.2,563.8 395.8,559.0 397.3,553.5 398.8,547.0 400.3,540.2 401.9,533.9 403.4,529.2 404.9,525.5 406.5,522.6 408.0,520.0 409.5,517.6 411.1,515.3 414.1,511.1 417.2,506.8 420.2,502.5 423.3,498.9 426.4,496.1 429.4,493.7 432.5,491.5 435.5,489.3 438.6,487.0 441.7,484.8 444.7,482.8 447.8,481.0 450.8,479.6 453.9,478.6 460.0,477.1 466.1,475.7 472.3,474.4 478.4,473.3 484.5,472.3 490.6,471.5 496.7,470.8 502.9,470.2 509.0,469.6 515.1,469.0 521.2,468.5 527.3,468.1 533.5,467.6 539.6,467.2 545.7,466.9" fill="none" stroke="#00ffff" stroke-width="1.95" stroke-dasharray="6.5,2.8,0.8,2.8" stroke-linejoin="round"/>
<polyline points="392.7,567.8 394.2,563.8 395.8,559.0 397.3,553.5 398.8,547.0 400.3,540.2 401.9,534.0 403.4,529.3 404.9,525.7 406.5,522.7 408.0,520.2 409.5,517.7 411.1,515.5 414.1,511.3 417.2,506.9 420.2,502.6 423.3,499.0 426.4,496.3 429.4,493.9 432.5,491.7 435.5,489.5 438.6,487.2 441.7,485.0 444.7,483.0 447.8,481.2 450.8,479.8 453.9,478.8 460.0,477.3 466.1,475.9 472.3,474.6 478.4,473.5 484.5,472.5 490.6,471.7 496.7,471.0 502.9,470.3 509.0,469.7 515.1,469.2 521.2,468.7 527.3,468.2 533.5,467.8 539.6,467.4 545.7,467.0" fill="none" stroke="#808080" stroke-width="1.95" stroke-dasharray="1.6,2.0" stroke-linejoin="round"/>
<polyline points="392.7,567.8 394.2,563.8 395.8,559.1 397.3,553.6 398.8,547.1 400.3,540.3 401.9,534.1 403.4,529.5 404.9,525.9 406.5,523.0 408.0,520.4 409.5,518.0 411.1,515.8 414.1,511.5 417.2,507.2 420.2,502.9 423.3,499.3 426.4,496.6 429.4,494.2 432.5,492.0 435.5,489.8 438.6,487.5 441.7,485.3 444.7,483.3 447.8,481.5 450.8,480.1 453.9,479.1 460.0,477.6 466.1,476.2 472.3,474.9 478.4,473.8 484.5,472.8 490.6,472.0 496.7,471.3 502.9,470.7 509.0,470.1 515.1,469.5 521.2,469.0 527.3,468.5 533.5,468.1 539.6,467.7 545.7,467.3" fill="none" stroke="#880015" stroke-width="1.95" stroke-dasharray="6,3" stroke-linejoin="round"/>
<polyline points="392.7,567.8 394.2,563.9 395.8,559.2 397.3,553.7 398.8,547.2 400.3,540.4 401.9,534.3 403.4,529.9 404.9,526.4 406.5,523.5 408.0,521.0 409.5,518.6 411.1,516.3 414.1,512.1 417.2,507.7 420.2,503.4 423.3,499.9 426.4,497.1 429.4,494.8 432.5,492.6 435.5,490.4 438.6,488.2 441.7,486.0 444.7,483.9 447.8,482.1 450.8,480.7 453.9,479.7 460.0,478.2 466.1,476.8 472.3,475.6 478.4,474.5 484.5,473.5 490.6,472.7 496.7,472.0 502.9,471.3 509.0,470.7 515.1,470.1 521.2,469.6 527.3,469.1 533.5,468.7 539.6,468.3 545.7,467.9" fill="none" stroke="#ff7f27" stroke-width="1.95" stroke-linejoin="round"/>
<polyline points="392.7,567.8 394.2,563.9 395.8,559.2 397.3,553.7 398.8,547.2 400.3,540.5 401.9,534.4 403.4,530.1 404.9,526.6 406.5,523.8 408.0,521.3 409.5,518.9 411.1,516.6 414.1,512.3 417.2,507.9 420.2,503.7 423.3,500.2 426.4,497.4 429.4,495.1 432.5,492.9 435.5,490.7 438.6,488.5 441.7,486.3 444.7,484.2 447.8,482.4 450.8,481.0 453.9,480.0 460.0,478.5 466.1,477.1 472.3,475.9 478.4,474.8 484.5,473.8 490.6,473.0 496.7,472.3 502.9,471.6 509.0,471.0 515.1,470.4 521.2,469.9 527.3,469.4 533.5,469.0 539.6,468.6 545.7,468.2" fill="none" stroke="#00a2e8" stroke-width="1.95" stroke-dasharray="6.5,2.8,0.8,2.8" stroke-linejoin="round"/>
<polyline points="392.7,567.8 394.2,564.0 395.8,559.4 397.3,554.0 398.8,547.5 400.3,540.9 401.9,535.0 403.4,531.0 404.9,527.8 406.5,525.1 408.0,522.7 409.5,520.4 411.1,518.1 414.1,513.7 417.2,509.3 420.2,505.0 423.3,501.6 426.4,498.9 429.4,496.5 432.5,494.4 435.5,492.3 438.6,490.2 441.7,487.9 444.7,485.8 447.8,483.9 450.8,482.4 453.9,481.5 460.0,480.0 466.1,478.7 472.3,477.6 478.4,476.5 484.5,475.5 490.6,474.6 496.7,473.9 502.9,473.2 509.0,472.5 515.1,472.0 521.2,471.4 527.3,470.9 533.5,470.4 539.6,470.0 545.7,469.6" fill="none" stroke="#a349a4" stroke-width="1.95" stroke-dasharray="1.6,2.0" stroke-linejoin="round"/>
<polyline points="392.7,567.8 394.2,564.1 395.8,559.5 397.3,554.1 398.8,547.6 400.3,541.0 401.9,535.3 403.4,531.4 404.9,528.2 406.5,525.6 408.0,523.3 409.5,521.0 411.1,518.7 414.1,514.2 417.2,509.8 420.2,505.6 423.3,502.2 426.4,499.5 429.4,497.1 432.5,495.0 435.5,493.0 438.6,490.8 441.7,488.6 444.7,486.4 447.8,484.5 450.8,483.0 453.9,482.1 460.0,480.6 466.1,479.4 472.3,478.2 478.4,477.1 484.5,476.1 490.6,475.3 496.7,474.5 502.9,473.8 509.0,473.2 515.1,472.6 521.2,472.0 527.3,471.5 533.5,471.0 539.6,470.6 545.7,470.2" fill="none" stroke="#ffc90e" stroke-width="1.95" stroke-dasharray="6,3" stroke-linejoin="round"/>
<polyline points="392.7,567.8 394.2,564.1 395.8,559.5 397.3,554.1 398.8,547.6 400.3,541.0 401.9,535.3 403.4,531.4 404.9,528.2 406.5,525.6 408.0,523.3 409.5,521.0 411.1,518.7 414.1,514.2 417.2,509.8 420.2,505.6 423.3,502.2 426.4,499.5 429.4,497.1 432.5,495.0 435.5,493.0 438.6,490.8 441.7,488.6 444.7,486.4 447.8,484.5 450.8,483.0 453.9,482.1 460.0,480.6 466.1,479.4 472.3,478.2 478.4,477.1 484.5,476.1 490.6,475.3 496.7,474.5 502.9,473.8 509.0,473.2 515.1,472.6 521.2,472.0 527.3,471.5 533.5,471.0 539.6,470.6 545.7,470.2" fill="none" stroke="#253d3d" stroke-width="1.95" stroke-linejoin="round"/>
<polyline points="392.7,567.8 394.2,564.1 395.8,559.5 397.3,554.0 398.8,547.4 400.3,541.2 401.9,535.8 403.4,531.5 404.9,528.0 406.5,525.3 408.0,523.0 409.5,520.7 411.1,518.2 414.1,513.1 417.2,509.0 420.2,505.8 423.3,503.3 426.4,501.3 429.4,499.7 432.5,498.3 435.5,496.9 438.6,495.5 441.7,494.1 444.7,492.8 447.8,491.6 450.8,490.6 453.9,489.9 460.0,488.9 466.1,487.8 472.3,486.7 478.4,485.7 484.5,484.9 490.6,484.1 496.7,483.4 502.9,482.8 509.0,482.2 515.1,481.6 521.2,481.0 527.3,480.5 533.5,480.0 539.6,479.5 545.7,479.1" fill="none" stroke="#f4a7b9" stroke-width="1.5" stroke-dasharray="1.4,2.2" stroke-linejoin="round"/>
</g>
<rect x="392.70" y="455.80" width="153.00" height="118.70" fill="none" stroke="#bdbdbd" stroke-width="0.8"/>
<line x1="392.70" y1="574.50" x2="392.70" y2="573.00" stroke="#999" stroke-width="0.7"/>
<line x1="392.70" y1="455.80" x2="392.70" y2="457.30" stroke="#999" stroke-width="0.7"/>
<text x="392.70" y="581.70" text-anchor="middle" class="tk">0</text>
<line x1="423.30" y1="574.50" x2="423.30" y2="573.00" stroke="#999" stroke-width="0.7"/>
<line x1="423.30" y1="455.80" x2="423.30" y2="457.30" stroke="#999" stroke-width="0.7"/>
<text x="423.30" y="581.70" text-anchor="middle" class="tk">10</text>
<line x1="453.90" y1="574.50" x2="453.90" y2="573.00" stroke="#999" stroke-width="0.7"/>
<line x1="453.90" y1="455.80" x2="453.90" y2="457.30" stroke="#999" stroke-width="0.7"/>
<text x="453.90" y="581.70" text-anchor="middle" class="tk">20</text>
<line x1="484.50" y1="574.50" x2="484.50" y2="573.00" stroke="#999" stroke-width="0.7"/>
<line x1="484.50" y1="455.80" x2="484.50" y2="457.30" stroke="#999" stroke-width="0.7"/>
<text x="484.50" y="581.70" text-anchor="middle" class="tk">30</text>
<line x1="515.10" y1="574.50" x2="515.10" y2="573.00" stroke="#999" stroke-width="0.7"/>
<line x1="515.10" y1="455.80" x2="515.10" y2="457.30" stroke="#999" stroke-width="0.7"/>
<text x="515.10" y="581.70" text-anchor="middle" class="tk">40</text>
<line x1="545.70" y1="574.50" x2="545.70" y2="573.00" stroke="#999" stroke-width="0.7"/>
<line x1="545.70" y1="455.80" x2="545.70" y2="457.30" stroke="#999" stroke-width="0.7"/>
<text x="545.70" y="581.70" text-anchor="middle" class="tk">50</text>
<line x1="392.70" y1="574.50" x2="394.20" y2="574.50" stroke="#999" stroke-width="0.7"/>
<line x1="545.70" y1="574.50" x2="544.20" y2="574.50" stroke="#999" stroke-width="0.7"/>
<text x="391.30" y="576.50" text-anchor="end" class="tk">0</text>
<line x1="392.70" y1="559.66" x2="394.20" y2="559.66" stroke="#999" stroke-width="0.7"/>
<line x1="545.70" y1="559.66" x2="544.20" y2="559.66" stroke="#999" stroke-width="0.7"/>
<text x="391.30" y="561.66" text-anchor="end" class="tk">0.1</text>
<line x1="392.70" y1="544.83" x2="394.20" y2="544.83" stroke="#999" stroke-width="0.7"/>
<line x1="545.70" y1="544.83" x2="544.20" y2="544.83" stroke="#999" stroke-width="0.7"/>
<text x="391.30" y="546.83" text-anchor="end" class="tk">0.2</text>
<line x1="392.70" y1="529.99" x2="394.20" y2="529.99" stroke="#999" stroke-width="0.7"/>
<line x1="545.70" y1="529.99" x2="544.20" y2="529.99" stroke="#999" stroke-width="0.7"/>
<text x="391.30" y="531.99" text-anchor="end" class="tk">0.3</text>
<line x1="392.70" y1="515.15" x2="394.20" y2="515.15" stroke="#999" stroke-width="0.7"/>
<line x1="545.70" y1="515.15" x2="544.20" y2="515.15" stroke="#999" stroke-width="0.7"/>
<text x="391.30" y="517.15" text-anchor="end" class="tk">0.4</text>
<line x1="392.70" y1="500.31" x2="394.20" y2="500.31" stroke="#999" stroke-width="0.7"/>
<line x1="545.70" y1="500.31" x2="544.20" y2="500.31" stroke="#999" stroke-width="0.7"/>
<text x="391.30" y="502.31" text-anchor="end" class="tk">0.5</text>
<line x1="392.70" y1="485.48" x2="394.20" y2="485.48" stroke="#999" stroke-width="0.7"/>
<line x1="545.70" y1="485.48" x2="544.20" y2="485.48" stroke="#999" stroke-width="0.7"/>
<text x="391.30" y="487.48" text-anchor="end" class="tk">0.6</text>
<line x1="392.70" y1="470.64" x2="394.20" y2="470.64" stroke="#999" stroke-width="0.7"/>
<line x1="545.70" y1="470.64" x2="544.20" y2="470.64" stroke="#999" stroke-width="0.7"/>
<text x="391.30" y="472.64" text-anchor="end" class="tk">0.7</text>
<line x1="392.70" y1="455.80" x2="394.20" y2="455.80" stroke="#999" stroke-width="0.7"/>
<line x1="545.70" y1="455.80" x2="544.20" y2="455.80" stroke="#999" stroke-width="0.7"/>
<text x="391.30" y="457.80" text-anchor="end" class="tk">0.8</text>
<text x="469.80" y="453.00" text-anchor="middle" class="ti">Precision plots of OPE - Camera Motion (70)</text>
<text x="469.20" y="590.70" text-anchor="middle" class="lb">Location error threshold</text>
<text x="0" y="0" transform="translate(381.40,515.15) rotate(-90)" text-anchor="middle" class="lb">Precision</text>
<rect x="486.80" y="459.80" width="55.10" height="86.00" fill="#fff" stroke="#c8c8c8" stroke-width="0.6"/>
<line x1="488.10" y1="463.20" x2="502.00" y2="463.20" stroke="#ff0000" stroke-width="1.9"/>
<text x="503.70" y="465.20" class="lg">OURS [0.686]</text>
<line x1="488.10" y1="469.28" x2="495.60" y2="469.28" stroke="#00ff00" stroke-width="1.9"/>
<text x="503.70" y="471.28" class="lg">MSCF [0.668]</text>
<rect x="488.45" y="474.51" width="1.7" height="1.7" fill="#0000ff"/>
<rect x="491.90" y="474.51" width="1.7" height="1.7" fill="#0000ff"/>
<rect x="495.35" y="474.51" width="1.7" height="1.7" fill="#0000ff"/>
<rect x="498.80" y="474.51" width="1.7" height="1.7" fill="#0000ff"/>
<text x="503.70" y="477.36" class="lg">AutoTrack [0.658]</text>
<line x1="488.10" y1="481.44" x2="494.90" y2="481.44" stroke="#000000" stroke-width="1.9"/>
<line x1="497.60" y1="481.44" x2="500.40" y2="481.44" stroke="#000000" stroke-width="1.9"/>
<text x="503.70" y="483.44" class="lg">CSR-DCF [0.649]</text>
<line x1="488.10" y1="487.52" x2="502.00" y2="487.52" stroke="#ff00ff" stroke-width="1.9"/>
<text x="503.70" y="489.52" class="lg">ARCF-HC [0.647]</text>
<line x1="488.10" y1="493.60" x2="495.60" y2="493.60" stroke="#00ffff" stroke-width="1.9"/>
<text x="503.70" y="495.60" class="lg">Staple-CA [0.646]</text>
<rect x="488.45" y="498.83" width="1.7" height="1.7" fill="#808080"/>
<rect x="491.90" y="498.83" width="1.7" height="1.7" fill="#808080"/>
<rect x="495.35" y="498.83" width="1.7" height="1.7" fill="#808080"/>
<rect x="498.80" y="498.83" width="1.7" height="1.7" fill="#808080"/>
<text x="503.70" y="501.68" class="lg">EMCF [0.645]</text>
<line x1="488.10" y1="505.76" x2="494.90" y2="505.76" stroke="#880015" stroke-width="1.9"/>
<line x1="497.60" y1="505.76" x2="500.40" y2="505.76" stroke="#880015" stroke-width="1.9"/>
<text x="503.70" y="507.76" class="lg">IBRI [0.643]</text>
<line x1="488.10" y1="511.84" x2="502.00" y2="511.84" stroke="#ff7f27" stroke-width="1.9"/>
<text x="503.70" y="513.84" class="lg">DRCF [0.639]</text>
<line x1="488.10" y1="517.92" x2="495.60" y2="517.92" stroke="#00a2e8" stroke-width="1.9"/>
<text x="503.70" y="519.92" class="lg">ReCF [0.637]</text>
<rect x="488.45" y="523.15" width="1.7" height="1.7" fill="#a349a4"/>
<rect x="491.90" y="523.15" width="1.7" height="1.7" fill="#a349a4"/>
<rect x="495.35" y="523.15" width="1.7" height="1.7" fill="#a349a4"/>
<rect x="498.80" y="523.15" width="1.7" height="1.7" fill="#a349a4"/>
<text x="503.70" y="526.00" class="lg">SRDCF [0.627]</text>
<line x1="488.10" y1="530.08" x2="494.90" y2="530.08" stroke="#ffc90e" stroke-width="1.9"/>
<line x1="497.60" y1="530.08" x2="500.40" y2="530.08" stroke="#ffc90e" stroke-width="1.9"/>
<text x="503.70" y="532.08" class="lg">Staple-MF [0.623]</text>
<line x1="488.10" y1="536.16" x2="502.00" y2="536.16" stroke="#253d3d" stroke-width="1.9"/>
<text x="503.70" y="538.16" class="lg">Staple [0.623]</text>
<rect x="488.45" y="541.39" width="1.7" height="1.7" fill="#f4a7b9"/>
<rect x="491.90" y="541.39" width="1.7" height="1.7" fill="#f4a7b9"/>
<rect x="495.35" y="541.39" width="1.7" height="1.7" fill="#f4a7b9"/>
<rect x="498.80" y="541.39" width="1.7" height="1.7" fill="#f4a7b9"/>
<text x="503.70" y="544.24" class="lg">SAMF [0.570]</text>
</svg>
</body></html>
